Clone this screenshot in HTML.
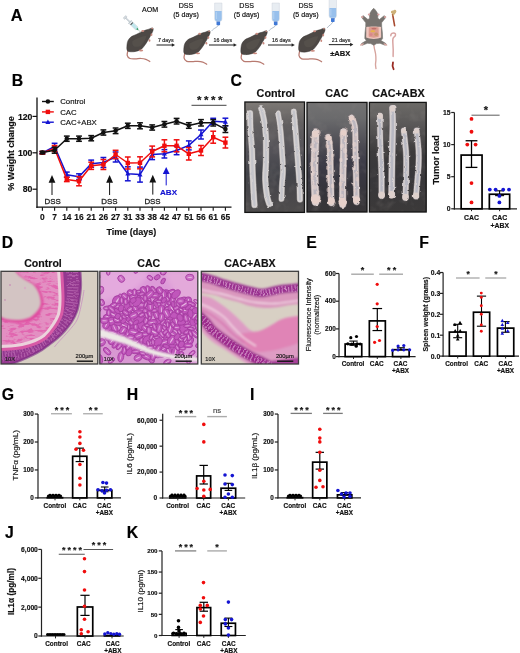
<!DOCTYPE html>
<html><head><meta charset="utf-8"><title>Figure</title>
<style>html,body{margin:0;padding:0;background:#fff;} svg{display:block;}</style></head>
<body><svg width="520" height="653" viewBox="0 0 520 653" font-family="'Liberation Sans', Arial, sans-serif">
<rect width="520" height="653" fill="#fff"/>
<text x="10.80" y="20.60" font-size="16.4" font-weight="bold" text-anchor="start" fill="#000" stroke="#000" stroke-width="0.16">A</text>
<text x="11.70" y="85.60" font-size="15.8" font-weight="bold" text-anchor="start" fill="#000" stroke="#000" stroke-width="0.16">B</text>
<text x="230.60" y="85.60" font-size="15.8" font-weight="bold" text-anchor="start" fill="#000" stroke="#000" stroke-width="0.16">C</text>
<text x="1.80" y="248.30" font-size="15.8" font-weight="bold" text-anchor="start" fill="#000" stroke="#000" stroke-width="0.16">D</text>
<text x="306.20" y="248.30" font-size="15.8" font-weight="bold" text-anchor="start" fill="#000" stroke="#000" stroke-width="0.16">E</text>
<text x="419.20" y="248.30" font-size="15.8" font-weight="bold" text-anchor="start" fill="#000" stroke="#000" stroke-width="0.16">F</text>
<text x="1.80" y="399.60" font-size="15.8" font-weight="bold" text-anchor="start" fill="#000" stroke="#000" stroke-width="0.16">G</text>
<text x="126.70" y="399.60" font-size="15.8" font-weight="bold" text-anchor="start" fill="#000" stroke="#000" stroke-width="0.16">H</text>
<text x="250.00" y="399.60" font-size="15.8" font-weight="bold" text-anchor="start" fill="#000" stroke="#000" stroke-width="0.16">I</text>
<text x="5.00" y="537.60" font-size="15.8" font-weight="bold" text-anchor="start" fill="#000" stroke="#000" stroke-width="0.16">J</text>
<text x="126.70" y="537.60" font-size="15.8" font-weight="bold" text-anchor="start" fill="#000" stroke="#000" stroke-width="0.16">K</text>
<line x1="37.00" y1="97.50" x2="37.00" y2="207.90" stroke="#111" stroke-width="1.3"/>
<line x1="36.40" y1="207.20" x2="231.50" y2="207.20" stroke="#111" stroke-width="1.3"/>
<line x1="32.50" y1="116.40" x2="37.00" y2="116.40" stroke="#111" stroke-width="1.2"/>
<text x="32.40" y="119.50" font-size="8.7" font-weight="bold" text-anchor="end" fill="#111" stroke="#111" stroke-width="0.16">120</text>
<line x1="32.50" y1="152.80" x2="37.00" y2="152.80" stroke="#111" stroke-width="1.2"/>
<text x="32.40" y="155.90" font-size="8.7" font-weight="bold" text-anchor="end" fill="#111" stroke="#111" stroke-width="0.16">100</text>
<line x1="32.50" y1="189.20" x2="37.00" y2="189.20" stroke="#111" stroke-width="1.2"/>
<text x="32.40" y="192.30" font-size="8.7" font-weight="bold" text-anchor="end" fill="#111" stroke="#111" stroke-width="0.16">80</text>
<line x1="42.40" y1="207.20" x2="42.40" y2="210.80" stroke="#111" stroke-width="1.1"/>
<text x="42.40" y="219.80" font-size="8.4" font-weight="bold" text-anchor="middle" fill="#111" stroke="#111" stroke-width="0.16">0</text>
<line x1="54.60" y1="207.20" x2="54.60" y2="210.80" stroke="#111" stroke-width="1.1"/>
<text x="54.60" y="219.80" font-size="8.4" font-weight="bold" text-anchor="middle" fill="#111" stroke="#111" stroke-width="0.16">7</text>
<line x1="66.80" y1="207.20" x2="66.80" y2="210.80" stroke="#111" stroke-width="1.1"/>
<text x="66.80" y="219.80" font-size="8.4" font-weight="bold" text-anchor="middle" fill="#111" stroke="#111" stroke-width="0.16">14</text>
<line x1="79.00" y1="207.20" x2="79.00" y2="210.80" stroke="#111" stroke-width="1.1"/>
<text x="79.00" y="219.80" font-size="8.4" font-weight="bold" text-anchor="middle" fill="#111" stroke="#111" stroke-width="0.16">16</text>
<line x1="91.20" y1="207.20" x2="91.20" y2="210.80" stroke="#111" stroke-width="1.1"/>
<text x="91.20" y="219.80" font-size="8.4" font-weight="bold" text-anchor="middle" fill="#111" stroke="#111" stroke-width="0.16">21</text>
<line x1="103.40" y1="207.20" x2="103.40" y2="210.80" stroke="#111" stroke-width="1.1"/>
<text x="103.40" y="219.80" font-size="8.4" font-weight="bold" text-anchor="middle" fill="#111" stroke="#111" stroke-width="0.16">26</text>
<line x1="115.60" y1="207.20" x2="115.60" y2="210.80" stroke="#111" stroke-width="1.1"/>
<text x="115.60" y="219.80" font-size="8.4" font-weight="bold" text-anchor="middle" fill="#111" stroke="#111" stroke-width="0.16">27</text>
<line x1="127.80" y1="207.20" x2="127.80" y2="210.80" stroke="#111" stroke-width="1.1"/>
<text x="127.80" y="219.80" font-size="8.4" font-weight="bold" text-anchor="middle" fill="#111" stroke="#111" stroke-width="0.16">31</text>
<line x1="140.00" y1="207.20" x2="140.00" y2="210.80" stroke="#111" stroke-width="1.1"/>
<text x="140.00" y="219.80" font-size="8.4" font-weight="bold" text-anchor="middle" fill="#111" stroke="#111" stroke-width="0.16">33</text>
<line x1="152.20" y1="207.20" x2="152.20" y2="210.80" stroke="#111" stroke-width="1.1"/>
<text x="152.20" y="219.80" font-size="8.4" font-weight="bold" text-anchor="middle" fill="#111" stroke="#111" stroke-width="0.16">38</text>
<line x1="164.40" y1="207.20" x2="164.40" y2="210.80" stroke="#111" stroke-width="1.1"/>
<text x="164.40" y="219.80" font-size="8.4" font-weight="bold" text-anchor="middle" fill="#111" stroke="#111" stroke-width="0.16">42</text>
<line x1="176.60" y1="207.20" x2="176.60" y2="210.80" stroke="#111" stroke-width="1.1"/>
<text x="176.60" y="219.80" font-size="8.4" font-weight="bold" text-anchor="middle" fill="#111" stroke="#111" stroke-width="0.16">47</text>
<line x1="188.80" y1="207.20" x2="188.80" y2="210.80" stroke="#111" stroke-width="1.1"/>
<text x="188.80" y="219.80" font-size="8.4" font-weight="bold" text-anchor="middle" fill="#111" stroke="#111" stroke-width="0.16">51</text>
<line x1="201.00" y1="207.20" x2="201.00" y2="210.80" stroke="#111" stroke-width="1.1"/>
<text x="201.00" y="219.80" font-size="8.4" font-weight="bold" text-anchor="middle" fill="#111" stroke="#111" stroke-width="0.16">56</text>
<line x1="213.20" y1="207.20" x2="213.20" y2="210.80" stroke="#111" stroke-width="1.1"/>
<text x="213.20" y="219.80" font-size="8.4" font-weight="bold" text-anchor="middle" fill="#111" stroke="#111" stroke-width="0.16">61</text>
<line x1="225.40" y1="207.20" x2="225.40" y2="210.80" stroke="#111" stroke-width="1.1"/>
<text x="225.40" y="219.80" font-size="8.4" font-weight="bold" text-anchor="middle" fill="#111" stroke="#111" stroke-width="0.16">65</text>
<text x="131.40" y="235.20" font-size="9.0" font-weight="bold" text-anchor="middle" fill="#111" stroke="#111" stroke-width="0.16">Time (days)</text>
<text x="14.30" y="153.50" font-size="9.0" font-weight="bold" text-anchor="middle" fill="#111" transform="rotate(-90 14.30 153.50)" stroke="#111" stroke-width="0.16">% Weight change</text>
<path d="M52.00 175.10 L55.40 182.80 L48.60 182.80 Z" fill="#111"/>
<line x1="52.00" y1="182.30" x2="52.00" y2="195.00" stroke="#111" stroke-width="1.0"/>
<path d="M109.60 175.10 L113.00 182.80 L106.20 182.80 Z" fill="#111"/>
<line x1="109.60" y1="182.30" x2="109.60" y2="195.00" stroke="#111" stroke-width="1.0"/>
<path d="M152.80 174.80 L156.20 182.50 L149.40 182.50 Z" fill="#111"/>
<line x1="152.80" y1="182.00" x2="152.80" y2="194.60" stroke="#111" stroke-width="1.0"/>
<path d="M166.20 167.00 L169.60 174.00 L162.80 174.00 Z" fill="#1414d2"/>
<line x1="166.20" y1="173.50" x2="166.20" y2="185.40" stroke="#1414d2" stroke-width="1.0"/>
<text x="52.70" y="203.80" font-size="7.9" text-anchor="middle" fill="#222" stroke="#222" stroke-width="0.28">DSS</text>
<text x="109.40" y="203.80" font-size="7.9" text-anchor="middle" fill="#222" stroke="#222" stroke-width="0.28">DSS</text>
<text x="152.50" y="203.80" font-size="7.9" text-anchor="middle" fill="#222" stroke="#222" stroke-width="0.28">DSS</text>
<text x="168.50" y="195.20" font-size="8.1" font-weight="bold" text-anchor="middle" fill="#1414d2" stroke="#1414d2" stroke-width="0.16">ABX</text>
<line x1="191.50" y1="105.30" x2="226.50" y2="105.30" stroke="#444" stroke-width="1.0"/>
<text x="199.20" y="104.18" font-size="11.5" font-weight="bold" text-anchor="middle" fill="#111" stroke="#111" stroke-width="0.16">*</text>
<text x="206.20" y="104.18" font-size="11.5" font-weight="bold" text-anchor="middle" fill="#111" stroke="#111" stroke-width="0.16">*</text>
<text x="213.20" y="104.18" font-size="11.5" font-weight="bold" text-anchor="middle" fill="#111" stroke="#111" stroke-width="0.16">*</text>
<text x="220.20" y="104.18" font-size="11.5" font-weight="bold" text-anchor="middle" fill="#111" stroke="#111" stroke-width="0.16">*</text>
<polyline points="42.40,152.80 54.60,146.50 66.80,174.70 79.00,176.80 91.20,163.70 103.40,162.50 115.60,157.00 127.80,173.80 140.00,174.60 152.20,154.60 164.40,153.80 176.60,150.50 188.80,145.40 201.00,134.50 213.20,121.30 225.40,122.00" fill="none" stroke="#1414d2" stroke-width="1.5" stroke-linejoin="round"/>
<line x1="42.40" y1="151.80" x2="42.40" y2="153.80" stroke="#1414d2" stroke-width="1.5"/>
<line x1="39.50" y1="151.80" x2="45.30" y2="151.80" stroke="#1414d2" stroke-width="1.5"/>
<line x1="39.50" y1="153.80" x2="45.30" y2="153.80" stroke="#1414d2" stroke-width="1.5"/>
<path d="M42.40 150.10 L44.90 154.60 L39.90 154.60 Z" fill="#1414d2"/>
<line x1="54.60" y1="143.30" x2="54.60" y2="149.70" stroke="#1414d2" stroke-width="1.5"/>
<line x1="51.70" y1="143.30" x2="57.50" y2="143.30" stroke="#1414d2" stroke-width="1.5"/>
<line x1="51.70" y1="149.70" x2="57.50" y2="149.70" stroke="#1414d2" stroke-width="1.5"/>
<path d="M54.60 143.80 L57.10 148.30 L52.10 148.30 Z" fill="#1414d2"/>
<line x1="66.80" y1="172.10" x2="66.80" y2="177.30" stroke="#1414d2" stroke-width="1.5"/>
<line x1="63.90" y1="172.10" x2="69.70" y2="172.10" stroke="#1414d2" stroke-width="1.5"/>
<line x1="63.90" y1="177.30" x2="69.70" y2="177.30" stroke="#1414d2" stroke-width="1.5"/>
<path d="M66.80 172.00 L69.30 176.50 L64.30 176.50 Z" fill="#1414d2"/>
<line x1="79.00" y1="173.80" x2="79.00" y2="179.80" stroke="#1414d2" stroke-width="1.5"/>
<line x1="76.10" y1="173.80" x2="81.90" y2="173.80" stroke="#1414d2" stroke-width="1.5"/>
<line x1="76.10" y1="179.80" x2="81.90" y2="179.80" stroke="#1414d2" stroke-width="1.5"/>
<path d="M79.00 174.10 L81.50 178.60 L76.50 178.60 Z" fill="#1414d2"/>
<line x1="91.20" y1="160.10" x2="91.20" y2="167.30" stroke="#1414d2" stroke-width="1.5"/>
<line x1="88.30" y1="160.10" x2="94.10" y2="160.10" stroke="#1414d2" stroke-width="1.5"/>
<line x1="88.30" y1="167.30" x2="94.10" y2="167.30" stroke="#1414d2" stroke-width="1.5"/>
<path d="M91.20 161.00 L93.70 165.50 L88.70 165.50 Z" fill="#1414d2"/>
<line x1="103.40" y1="157.50" x2="103.40" y2="167.50" stroke="#1414d2" stroke-width="1.5"/>
<line x1="100.50" y1="157.50" x2="106.30" y2="157.50" stroke="#1414d2" stroke-width="1.5"/>
<line x1="100.50" y1="167.50" x2="106.30" y2="167.50" stroke="#1414d2" stroke-width="1.5"/>
<path d="M103.40 159.80 L105.90 164.30 L100.90 164.30 Z" fill="#1414d2"/>
<line x1="115.60" y1="152.00" x2="115.60" y2="162.00" stroke="#1414d2" stroke-width="1.5"/>
<line x1="112.70" y1="152.00" x2="118.50" y2="152.00" stroke="#1414d2" stroke-width="1.5"/>
<line x1="112.70" y1="162.00" x2="118.50" y2="162.00" stroke="#1414d2" stroke-width="1.5"/>
<path d="M115.60 154.30 L118.10 158.80 L113.10 158.80 Z" fill="#1414d2"/>
<line x1="127.80" y1="166.80" x2="127.80" y2="180.80" stroke="#1414d2" stroke-width="1.5"/>
<line x1="124.90" y1="166.80" x2="130.70" y2="166.80" stroke="#1414d2" stroke-width="1.5"/>
<line x1="124.90" y1="180.80" x2="130.70" y2="180.80" stroke="#1414d2" stroke-width="1.5"/>
<path d="M127.80 171.10 L130.30 175.60 L125.30 175.60 Z" fill="#1414d2"/>
<line x1="140.00" y1="167.10" x2="140.00" y2="182.10" stroke="#1414d2" stroke-width="1.5"/>
<line x1="137.10" y1="167.10" x2="142.90" y2="167.10" stroke="#1414d2" stroke-width="1.5"/>
<line x1="137.10" y1="182.10" x2="142.90" y2="182.10" stroke="#1414d2" stroke-width="1.5"/>
<path d="M140.00 171.90 L142.50 176.40 L137.50 176.40 Z" fill="#1414d2"/>
<line x1="152.20" y1="149.60" x2="152.20" y2="159.60" stroke="#1414d2" stroke-width="1.5"/>
<line x1="149.30" y1="149.60" x2="155.10" y2="149.60" stroke="#1414d2" stroke-width="1.5"/>
<line x1="149.30" y1="159.60" x2="155.10" y2="159.60" stroke="#1414d2" stroke-width="1.5"/>
<path d="M152.20 151.90 L154.70 156.40 L149.70 156.40 Z" fill="#1414d2"/>
<line x1="164.40" y1="149.60" x2="164.40" y2="158.00" stroke="#1414d2" stroke-width="1.5"/>
<line x1="161.50" y1="149.60" x2="167.30" y2="149.60" stroke="#1414d2" stroke-width="1.5"/>
<line x1="161.50" y1="158.00" x2="167.30" y2="158.00" stroke="#1414d2" stroke-width="1.5"/>
<path d="M164.40 151.10 L166.90 155.60 L161.90 155.60 Z" fill="#1414d2"/>
<line x1="176.60" y1="146.30" x2="176.60" y2="154.70" stroke="#1414d2" stroke-width="1.5"/>
<line x1="173.70" y1="146.30" x2="179.50" y2="146.30" stroke="#1414d2" stroke-width="1.5"/>
<line x1="173.70" y1="154.70" x2="179.50" y2="154.70" stroke="#1414d2" stroke-width="1.5"/>
<path d="M176.60 147.80 L179.10 152.30 L174.10 152.30 Z" fill="#1414d2"/>
<line x1="188.80" y1="140.90" x2="188.80" y2="149.90" stroke="#1414d2" stroke-width="1.5"/>
<line x1="185.90" y1="140.90" x2="191.70" y2="140.90" stroke="#1414d2" stroke-width="1.5"/>
<line x1="185.90" y1="149.90" x2="191.70" y2="149.90" stroke="#1414d2" stroke-width="1.5"/>
<path d="M188.80 142.70 L191.30 147.20 L186.30 147.20 Z" fill="#1414d2"/>
<line x1="201.00" y1="130.00" x2="201.00" y2="139.00" stroke="#1414d2" stroke-width="1.5"/>
<line x1="198.10" y1="130.00" x2="203.90" y2="130.00" stroke="#1414d2" stroke-width="1.5"/>
<line x1="198.10" y1="139.00" x2="203.90" y2="139.00" stroke="#1414d2" stroke-width="1.5"/>
<path d="M201.00 131.80 L203.50 136.30 L198.50 136.30 Z" fill="#1414d2"/>
<line x1="213.20" y1="118.30" x2="213.20" y2="124.30" stroke="#1414d2" stroke-width="1.5"/>
<line x1="210.30" y1="118.30" x2="216.10" y2="118.30" stroke="#1414d2" stroke-width="1.5"/>
<line x1="210.30" y1="124.30" x2="216.10" y2="124.30" stroke="#1414d2" stroke-width="1.5"/>
<path d="M213.20 118.60 L215.70 123.10 L210.70 123.10 Z" fill="#1414d2"/>
<line x1="225.40" y1="118.20" x2="225.40" y2="125.80" stroke="#1414d2" stroke-width="1.5"/>
<line x1="222.50" y1="118.20" x2="228.30" y2="118.20" stroke="#1414d2" stroke-width="1.5"/>
<line x1="222.50" y1="125.80" x2="228.30" y2="125.80" stroke="#1414d2" stroke-width="1.5"/>
<path d="M225.40 119.30 L227.90 123.80 L222.90 123.80 Z" fill="#1414d2"/>
<polyline points="42.40,152.80 54.60,148.50 66.80,179.40 79.00,181.20 91.20,165.80 103.40,164.50 115.60,154.50 127.80,163.00 140.00,162.80 152.20,151.50 164.40,145.80 176.60,145.80 188.80,153.80 201.00,150.50 213.20,137.20 225.40,142.60" fill="none" stroke="#f00d0d" stroke-width="1.5" stroke-linejoin="round"/>
<line x1="42.40" y1="151.80" x2="42.40" y2="153.80" stroke="#f00d0d" stroke-width="1.5"/>
<line x1="39.50" y1="151.80" x2="45.30" y2="151.80" stroke="#f00d0d" stroke-width="1.5"/>
<line x1="39.50" y1="153.80" x2="45.30" y2="153.80" stroke="#f00d0d" stroke-width="1.5"/>
<rect x="40.20" y="150.60" width="4.40" height="4.40" fill="#f00d0d" stroke="none" stroke-width="1.0"/>
<line x1="54.60" y1="145.50" x2="54.60" y2="151.50" stroke="#f00d0d" stroke-width="1.5"/>
<line x1="51.70" y1="145.50" x2="57.50" y2="145.50" stroke="#f00d0d" stroke-width="1.5"/>
<line x1="51.70" y1="151.50" x2="57.50" y2="151.50" stroke="#f00d0d" stroke-width="1.5"/>
<rect x="52.40" y="146.30" width="4.40" height="4.40" fill="#f00d0d" stroke="none" stroke-width="1.0"/>
<line x1="66.80" y1="177.20" x2="66.80" y2="181.60" stroke="#f00d0d" stroke-width="1.5"/>
<line x1="63.90" y1="177.20" x2="69.70" y2="177.20" stroke="#f00d0d" stroke-width="1.5"/>
<line x1="63.90" y1="181.60" x2="69.70" y2="181.60" stroke="#f00d0d" stroke-width="1.5"/>
<rect x="64.60" y="177.20" width="4.40" height="4.40" fill="#f00d0d" stroke="none" stroke-width="1.0"/>
<line x1="79.00" y1="176.60" x2="79.00" y2="185.80" stroke="#f00d0d" stroke-width="1.5"/>
<line x1="76.10" y1="176.60" x2="81.90" y2="176.60" stroke="#f00d0d" stroke-width="1.5"/>
<line x1="76.10" y1="185.80" x2="81.90" y2="185.80" stroke="#f00d0d" stroke-width="1.5"/>
<rect x="76.80" y="179.00" width="4.40" height="4.40" fill="#f00d0d" stroke="none" stroke-width="1.0"/>
<line x1="91.20" y1="162.20" x2="91.20" y2="169.40" stroke="#f00d0d" stroke-width="1.5"/>
<line x1="88.30" y1="162.20" x2="94.10" y2="162.20" stroke="#f00d0d" stroke-width="1.5"/>
<line x1="88.30" y1="169.40" x2="94.10" y2="169.40" stroke="#f00d0d" stroke-width="1.5"/>
<rect x="89.00" y="163.60" width="4.40" height="4.40" fill="#f00d0d" stroke="none" stroke-width="1.0"/>
<line x1="103.40" y1="159.50" x2="103.40" y2="169.50" stroke="#f00d0d" stroke-width="1.5"/>
<line x1="100.50" y1="159.50" x2="106.30" y2="159.50" stroke="#f00d0d" stroke-width="1.5"/>
<line x1="100.50" y1="169.50" x2="106.30" y2="169.50" stroke="#f00d0d" stroke-width="1.5"/>
<rect x="101.20" y="162.30" width="4.40" height="4.40" fill="#f00d0d" stroke="none" stroke-width="1.0"/>
<line x1="115.60" y1="150.30" x2="115.60" y2="158.70" stroke="#f00d0d" stroke-width="1.5"/>
<line x1="112.70" y1="150.30" x2="118.50" y2="150.30" stroke="#f00d0d" stroke-width="1.5"/>
<line x1="112.70" y1="158.70" x2="118.50" y2="158.70" stroke="#f00d0d" stroke-width="1.5"/>
<rect x="113.40" y="152.30" width="4.40" height="4.40" fill="#f00d0d" stroke="none" stroke-width="1.0"/>
<line x1="127.80" y1="157.00" x2="127.80" y2="169.00" stroke="#f00d0d" stroke-width="1.5"/>
<line x1="124.90" y1="157.00" x2="130.70" y2="157.00" stroke="#f00d0d" stroke-width="1.5"/>
<line x1="124.90" y1="169.00" x2="130.70" y2="169.00" stroke="#f00d0d" stroke-width="1.5"/>
<rect x="125.60" y="160.80" width="4.40" height="4.40" fill="#f00d0d" stroke="none" stroke-width="1.0"/>
<line x1="140.00" y1="156.80" x2="140.00" y2="168.80" stroke="#f00d0d" stroke-width="1.5"/>
<line x1="137.10" y1="156.80" x2="142.90" y2="156.80" stroke="#f00d0d" stroke-width="1.5"/>
<line x1="137.10" y1="168.80" x2="142.90" y2="168.80" stroke="#f00d0d" stroke-width="1.5"/>
<rect x="137.80" y="160.60" width="4.40" height="4.40" fill="#f00d0d" stroke="none" stroke-width="1.0"/>
<line x1="152.20" y1="146.10" x2="152.20" y2="156.90" stroke="#f00d0d" stroke-width="1.5"/>
<line x1="149.30" y1="146.10" x2="155.10" y2="146.10" stroke="#f00d0d" stroke-width="1.5"/>
<line x1="149.30" y1="156.90" x2="155.10" y2="156.90" stroke="#f00d0d" stroke-width="1.5"/>
<rect x="150.00" y="149.30" width="4.40" height="4.40" fill="#f00d0d" stroke="none" stroke-width="1.0"/>
<line x1="164.40" y1="139.80" x2="164.40" y2="151.80" stroke="#f00d0d" stroke-width="1.5"/>
<line x1="161.50" y1="139.80" x2="167.30" y2="139.80" stroke="#f00d0d" stroke-width="1.5"/>
<line x1="161.50" y1="151.80" x2="167.30" y2="151.80" stroke="#f00d0d" stroke-width="1.5"/>
<rect x="162.20" y="143.60" width="4.40" height="4.40" fill="#f00d0d" stroke="none" stroke-width="1.0"/>
<line x1="176.60" y1="139.80" x2="176.60" y2="151.80" stroke="#f00d0d" stroke-width="1.5"/>
<line x1="173.70" y1="139.80" x2="179.50" y2="139.80" stroke="#f00d0d" stroke-width="1.5"/>
<line x1="173.70" y1="151.80" x2="179.50" y2="151.80" stroke="#f00d0d" stroke-width="1.5"/>
<rect x="174.40" y="143.60" width="4.40" height="4.40" fill="#f00d0d" stroke="none" stroke-width="1.0"/>
<line x1="188.80" y1="147.60" x2="188.80" y2="160.00" stroke="#f00d0d" stroke-width="1.5"/>
<line x1="185.90" y1="147.60" x2="191.70" y2="147.60" stroke="#f00d0d" stroke-width="1.5"/>
<line x1="185.90" y1="160.00" x2="191.70" y2="160.00" stroke="#f00d0d" stroke-width="1.5"/>
<rect x="186.60" y="151.60" width="4.40" height="4.40" fill="#f00d0d" stroke="none" stroke-width="1.0"/>
<line x1="201.00" y1="145.50" x2="201.00" y2="155.50" stroke="#f00d0d" stroke-width="1.5"/>
<line x1="198.10" y1="145.50" x2="203.90" y2="145.50" stroke="#f00d0d" stroke-width="1.5"/>
<line x1="198.10" y1="155.50" x2="203.90" y2="155.50" stroke="#f00d0d" stroke-width="1.5"/>
<rect x="198.80" y="148.30" width="4.40" height="4.40" fill="#f00d0d" stroke="none" stroke-width="1.0"/>
<line x1="213.20" y1="131.20" x2="213.20" y2="143.20" stroke="#f00d0d" stroke-width="1.5"/>
<line x1="210.30" y1="131.20" x2="216.10" y2="131.20" stroke="#f00d0d" stroke-width="1.5"/>
<line x1="210.30" y1="143.20" x2="216.10" y2="143.20" stroke="#f00d0d" stroke-width="1.5"/>
<rect x="211.00" y="135.00" width="4.40" height="4.40" fill="#f00d0d" stroke="none" stroke-width="1.0"/>
<line x1="225.40" y1="137.20" x2="225.40" y2="148.00" stroke="#f00d0d" stroke-width="1.5"/>
<line x1="222.50" y1="137.20" x2="228.30" y2="137.20" stroke="#f00d0d" stroke-width="1.5"/>
<line x1="222.50" y1="148.00" x2="228.30" y2="148.00" stroke="#f00d0d" stroke-width="1.5"/>
<rect x="223.20" y="140.40" width="4.40" height="4.40" fill="#f00d0d" stroke="none" stroke-width="1.0"/>
<polyline points="42.40,152.50 54.60,150.20 66.80,138.70 79.00,138.70 91.20,138.20 103.40,132.50 115.60,130.80 127.80,125.80 140.00,125.80 152.20,127.50 164.40,124.30 176.60,121.20 188.80,125.50 201.00,122.80 213.20,122.80 225.40,129.10" fill="none" stroke="#111" stroke-width="1.5" stroke-linejoin="round"/>
<line x1="42.40" y1="151.30" x2="42.40" y2="153.70" stroke="#111" stroke-width="1.5"/>
<line x1="39.50" y1="151.30" x2="45.30" y2="151.30" stroke="#111" stroke-width="1.5"/>
<line x1="39.50" y1="153.70" x2="45.30" y2="153.70" stroke="#111" stroke-width="1.5"/>
<circle cx="42.40" cy="152.50" r="2.3" fill="#111"/>
<line x1="54.60" y1="147.20" x2="54.60" y2="153.20" stroke="#111" stroke-width="1.5"/>
<line x1="51.70" y1="147.20" x2="57.50" y2="147.20" stroke="#111" stroke-width="1.5"/>
<line x1="51.70" y1="153.20" x2="57.50" y2="153.20" stroke="#111" stroke-width="1.5"/>
<circle cx="54.60" cy="150.20" r="2.3" fill="#111"/>
<line x1="66.80" y1="136.10" x2="66.80" y2="141.30" stroke="#111" stroke-width="1.5"/>
<line x1="63.90" y1="136.10" x2="69.70" y2="136.10" stroke="#111" stroke-width="1.5"/>
<line x1="63.90" y1="141.30" x2="69.70" y2="141.30" stroke="#111" stroke-width="1.5"/>
<circle cx="66.80" cy="138.70" r="2.3" fill="#111"/>
<line x1="79.00" y1="136.10" x2="79.00" y2="141.30" stroke="#111" stroke-width="1.5"/>
<line x1="76.10" y1="136.10" x2="81.90" y2="136.10" stroke="#111" stroke-width="1.5"/>
<line x1="76.10" y1="141.30" x2="81.90" y2="141.30" stroke="#111" stroke-width="1.5"/>
<circle cx="79.00" cy="138.70" r="2.3" fill="#111"/>
<line x1="91.20" y1="135.60" x2="91.20" y2="140.80" stroke="#111" stroke-width="1.5"/>
<line x1="88.30" y1="135.60" x2="94.10" y2="135.60" stroke="#111" stroke-width="1.5"/>
<line x1="88.30" y1="140.80" x2="94.10" y2="140.80" stroke="#111" stroke-width="1.5"/>
<circle cx="91.20" cy="138.20" r="2.3" fill="#111"/>
<line x1="103.40" y1="129.90" x2="103.40" y2="135.10" stroke="#111" stroke-width="1.5"/>
<line x1="100.50" y1="129.90" x2="106.30" y2="129.90" stroke="#111" stroke-width="1.5"/>
<line x1="100.50" y1="135.10" x2="106.30" y2="135.10" stroke="#111" stroke-width="1.5"/>
<circle cx="103.40" cy="132.50" r="2.3" fill="#111"/>
<line x1="115.60" y1="128.00" x2="115.60" y2="133.60" stroke="#111" stroke-width="1.5"/>
<line x1="112.70" y1="128.00" x2="118.50" y2="128.00" stroke="#111" stroke-width="1.5"/>
<line x1="112.70" y1="133.60" x2="118.50" y2="133.60" stroke="#111" stroke-width="1.5"/>
<circle cx="115.60" cy="130.80" r="2.3" fill="#111"/>
<line x1="127.80" y1="123.20" x2="127.80" y2="128.40" stroke="#111" stroke-width="1.5"/>
<line x1="124.90" y1="123.20" x2="130.70" y2="123.20" stroke="#111" stroke-width="1.5"/>
<line x1="124.90" y1="128.40" x2="130.70" y2="128.40" stroke="#111" stroke-width="1.5"/>
<circle cx="127.80" cy="125.80" r="2.3" fill="#111"/>
<line x1="140.00" y1="122.80" x2="140.00" y2="128.80" stroke="#111" stroke-width="1.5"/>
<line x1="137.10" y1="122.80" x2="142.90" y2="122.80" stroke="#111" stroke-width="1.5"/>
<line x1="137.10" y1="128.80" x2="142.90" y2="128.80" stroke="#111" stroke-width="1.5"/>
<circle cx="140.00" cy="125.80" r="2.3" fill="#111"/>
<line x1="152.20" y1="124.90" x2="152.20" y2="130.10" stroke="#111" stroke-width="1.5"/>
<line x1="149.30" y1="124.90" x2="155.10" y2="124.90" stroke="#111" stroke-width="1.5"/>
<line x1="149.30" y1="130.10" x2="155.10" y2="130.10" stroke="#111" stroke-width="1.5"/>
<circle cx="152.20" cy="127.50" r="2.3" fill="#111"/>
<line x1="164.40" y1="121.50" x2="164.40" y2="127.10" stroke="#111" stroke-width="1.5"/>
<line x1="161.50" y1="121.50" x2="167.30" y2="121.50" stroke="#111" stroke-width="1.5"/>
<line x1="161.50" y1="127.10" x2="167.30" y2="127.10" stroke="#111" stroke-width="1.5"/>
<circle cx="164.40" cy="124.30" r="2.3" fill="#111"/>
<line x1="176.60" y1="118.40" x2="176.60" y2="124.00" stroke="#111" stroke-width="1.5"/>
<line x1="173.70" y1="118.40" x2="179.50" y2="118.40" stroke="#111" stroke-width="1.5"/>
<line x1="173.70" y1="124.00" x2="179.50" y2="124.00" stroke="#111" stroke-width="1.5"/>
<circle cx="176.60" cy="121.20" r="2.3" fill="#111"/>
<line x1="188.80" y1="122.70" x2="188.80" y2="128.30" stroke="#111" stroke-width="1.5"/>
<line x1="185.90" y1="122.70" x2="191.70" y2="122.70" stroke="#111" stroke-width="1.5"/>
<line x1="185.90" y1="128.30" x2="191.70" y2="128.30" stroke="#111" stroke-width="1.5"/>
<circle cx="188.80" cy="125.50" r="2.3" fill="#111"/>
<line x1="201.00" y1="119.60" x2="201.00" y2="126.00" stroke="#111" stroke-width="1.5"/>
<line x1="198.10" y1="119.60" x2="203.90" y2="119.60" stroke="#111" stroke-width="1.5"/>
<line x1="198.10" y1="126.00" x2="203.90" y2="126.00" stroke="#111" stroke-width="1.5"/>
<circle cx="201.00" cy="122.80" r="2.3" fill="#111"/>
<line x1="213.20" y1="119.60" x2="213.20" y2="126.00" stroke="#111" stroke-width="1.5"/>
<line x1="210.30" y1="119.60" x2="216.10" y2="119.60" stroke="#111" stroke-width="1.5"/>
<line x1="210.30" y1="126.00" x2="216.10" y2="126.00" stroke="#111" stroke-width="1.5"/>
<circle cx="213.20" cy="122.80" r="2.3" fill="#111"/>
<line x1="225.40" y1="125.70" x2="225.40" y2="132.50" stroke="#111" stroke-width="1.5"/>
<line x1="222.50" y1="125.70" x2="228.30" y2="125.70" stroke="#111" stroke-width="1.5"/>
<line x1="222.50" y1="132.50" x2="228.30" y2="132.50" stroke="#111" stroke-width="1.5"/>
<circle cx="225.40" cy="129.10" r="2.3" fill="#111"/>
<line x1="42.00" y1="101.50" x2="53.80" y2="101.50" stroke="#111" stroke-width="1.4"/>
<circle cx="47.90" cy="101.50" r="2.3" fill="#111"/>
<text x="60.20" y="104.20" font-size="7.8" text-anchor="start" fill="#111" stroke="#111" stroke-width="0.16">Control</text>
<line x1="42.00" y1="111.90" x2="53.80" y2="111.90" stroke="#f00d0d" stroke-width="1.4"/>
<rect x="45.70" y="109.70" width="4.40" height="4.40" fill="#f00d0d" stroke="none" stroke-width="1.0"/>
<text x="60.20" y="114.60" font-size="7.8" text-anchor="start" fill="#111" stroke="#111" stroke-width="0.16">CAC</text>
<line x1="42.00" y1="122.20" x2="53.80" y2="122.20" stroke="#1414d2" stroke-width="1.4"/>
<path d="M47.90 119.50 L50.40 124.00 L45.40 124.00 Z" fill="#1414d2"/>
<text x="60.20" y="124.90" font-size="7.8" text-anchor="start" fill="#111" stroke="#111" stroke-width="0.16">CAC+ABX</text>
<line x1="454.40" y1="112.50" x2="454.40" y2="209.40" stroke="#222" stroke-width="1.2"/>
<line x1="453.80" y1="208.80" x2="517.00" y2="208.80" stroke="#222" stroke-width="1.2"/>
<line x1="451.20" y1="112.50" x2="454.40" y2="112.50" stroke="#222" stroke-width="1.2"/>
<text x="450.45" y="114.91" font-size="6.8" font-weight="bold" text-anchor="end" fill="#111" stroke="#111" stroke-width="0.16">15</text>
<line x1="451.20" y1="144.60" x2="454.40" y2="144.60" stroke="#222" stroke-width="1.2"/>
<text x="450.45" y="147.01" font-size="6.8" font-weight="bold" text-anchor="end" fill="#111" stroke="#111" stroke-width="0.16">10</text>
<line x1="451.20" y1="176.70" x2="454.40" y2="176.70" stroke="#222" stroke-width="1.2"/>
<text x="450.45" y="179.11" font-size="6.8" font-weight="bold" text-anchor="end" fill="#111" stroke="#111" stroke-width="0.16">5</text>
<line x1="451.20" y1="208.80" x2="454.40" y2="208.80" stroke="#222" stroke-width="1.2"/>
<text x="450.45" y="211.21" font-size="6.8" font-weight="bold" text-anchor="end" fill="#111" stroke="#111" stroke-width="0.16">0</text>
<rect x="461.15" y="155.08" width="20.90" height="53.72" fill="#fff" stroke="#000" stroke-width="1.7"/>
<rect x="489.35" y="194.24" width="20.30" height="14.56" fill="#fff" stroke="#000" stroke-width="1.7"/>
<line x1="471.50" y1="208.80" x2="471.50" y2="211.20" stroke="#222" stroke-width="1.0"/>
<line x1="499.60" y1="208.80" x2="499.60" y2="211.20" stroke="#222" stroke-width="1.0"/>
<line x1="471.50" y1="140.75" x2="471.50" y2="167.39" stroke="#000" stroke-width="1.3"/>
<line x1="465.60" y1="140.75" x2="477.40" y2="140.75" stroke="#000" stroke-width="1.3"/>
<line x1="465.60" y1="167.39" x2="477.40" y2="167.39" stroke="#000" stroke-width="1.3"/>
<line x1="499.60" y1="190.82" x2="499.60" y2="195.64" stroke="#000" stroke-width="1.1"/>
<line x1="495.10" y1="190.82" x2="504.10" y2="190.82" stroke="#000" stroke-width="1.1"/>
<line x1="495.10" y1="195.64" x2="504.10" y2="195.64" stroke="#000" stroke-width="1.1"/>
<circle cx="471.50" cy="118.92" r="1.9" fill="#f00d0d"/>
<circle cx="471.50" cy="131.76" r="1.9" fill="#f00d0d"/>
<circle cx="467.30" cy="144.60" r="1.9" fill="#f00d0d"/>
<circle cx="475.60" cy="144.60" r="1.9" fill="#f00d0d"/>
<circle cx="471.50" cy="183.12" r="1.9" fill="#f00d0d"/>
<circle cx="471.50" cy="202.38" r="1.9" fill="#f00d0d"/>
<circle cx="489.80" cy="189.54" r="1.9" fill="#1414d2"/>
<circle cx="495.60" cy="189.54" r="1.9" fill="#1414d2"/>
<circle cx="503.20" cy="189.54" r="1.9" fill="#1414d2"/>
<circle cx="509.00" cy="189.54" r="1.9" fill="#1414d2"/>
<circle cx="499.40" cy="195.96" r="1.9" fill="#1414d2"/>
<circle cx="499.40" cy="202.38" r="1.9" fill="#1414d2"/>
<line x1="471.50" y1="115.20" x2="499.60" y2="115.20" stroke="#6a6a6a" stroke-width="1.1"/>
<text x="485.80" y="114.03" font-size="11.0" font-weight="bold" text-anchor="middle" fill="#111" stroke="#111" stroke-width="0.16">*</text>
<text x="439.50" y="159.90" font-size="9.2" font-weight="bold" text-anchor="middle" fill="#111" transform="rotate(-90 439.50 159.90)" stroke="#111" stroke-width="0.16">Tumor load</text>
<text x="471.50" y="219.60" font-size="6.9" font-weight="bold" text-anchor="middle" fill="#111" stroke="#111" stroke-width="0.16">CAC</text>
<text x="499.70" y="219.60" font-size="6.9" font-weight="bold" text-anchor="middle" fill="#111" stroke="#111" stroke-width="0.16">CAC</text>
<text x="499.70" y="227.60" font-size="6.9" font-weight="bold" text-anchor="middle" fill="#111" stroke="#111" stroke-width="0.16">+ABX</text>
<line x1="339.00" y1="273.50" x2="339.00" y2="357.20" stroke="#222" stroke-width="1.2"/>
<line x1="338.40" y1="356.60" x2="415.60" y2="356.60" stroke="#222" stroke-width="1.2"/>
<line x1="335.80" y1="273.50" x2="339.00" y2="273.50" stroke="#222" stroke-width="1.2"/>
<text x="335.75" y="275.77" font-size="6.4" font-weight="bold" text-anchor="end" fill="#111" stroke="#111" stroke-width="0.16">600</text>
<line x1="335.80" y1="301.20" x2="339.00" y2="301.20" stroke="#222" stroke-width="1.2"/>
<text x="335.75" y="303.47" font-size="6.4" font-weight="bold" text-anchor="end" fill="#111" stroke="#111" stroke-width="0.16">400</text>
<line x1="335.80" y1="328.90" x2="339.00" y2="328.90" stroke="#222" stroke-width="1.2"/>
<text x="335.75" y="331.17" font-size="6.4" font-weight="bold" text-anchor="end" fill="#111" stroke="#111" stroke-width="0.16">200</text>
<line x1="335.80" y1="356.60" x2="339.00" y2="356.60" stroke="#222" stroke-width="1.2"/>
<text x="335.75" y="358.87" font-size="6.4" font-weight="bold" text-anchor="end" fill="#111" stroke="#111" stroke-width="0.16">0</text>
<rect x="345.15" y="344.02" width="16.60" height="12.58" fill="#fff" stroke="#000" stroke-width="1.7"/>
<rect x="369.35" y="320.89" width="16.00" height="35.71" fill="#fff" stroke="#000" stroke-width="1.7"/>
<rect x="392.55" y="349.69" width="16.60" height="6.91" fill="#fff" stroke="#000" stroke-width="1.7"/>
<line x1="353.50" y1="356.60" x2="353.50" y2="359.00" stroke="#222" stroke-width="1.0"/>
<line x1="377.30" y1="356.60" x2="377.30" y2="359.00" stroke="#222" stroke-width="1.0"/>
<line x1="400.90" y1="356.60" x2="400.90" y2="359.00" stroke="#222" stroke-width="1.0"/>
<line x1="353.50" y1="341.09" x2="353.50" y2="345.24" stroke="#000" stroke-width="1.1"/>
<line x1="349.30" y1="341.09" x2="357.70" y2="341.09" stroke="#000" stroke-width="1.1"/>
<line x1="349.30" y1="345.24" x2="357.70" y2="345.24" stroke="#000" stroke-width="1.1"/>
<line x1="377.30" y1="308.54" x2="377.30" y2="330.56" stroke="#000" stroke-width="1.2"/>
<line x1="372.50" y1="308.54" x2="382.10" y2="308.54" stroke="#000" stroke-width="1.2"/>
<line x1="372.50" y1="330.56" x2="382.10" y2="330.56" stroke="#000" stroke-width="1.2"/>
<line x1="400.90" y1="347.74" x2="400.90" y2="349.95" stroke="#000" stroke-width="1.1"/>
<line x1="396.90" y1="347.74" x2="404.90" y2="347.74" stroke="#000" stroke-width="1.1"/>
<line x1="396.90" y1="349.95" x2="404.90" y2="349.95" stroke="#000" stroke-width="1.1"/>
<circle cx="350.80" cy="337.70" r="1.6" fill="#000"/>
<circle cx="356.50" cy="336.50" r="1.6" fill="#000"/>
<circle cx="347.80" cy="343.80" r="1.6" fill="#000"/>
<circle cx="351.80" cy="344.20" r="1.6" fill="#000"/>
<circle cx="357.20" cy="343.80" r="1.6" fill="#000"/>
<circle cx="360.20" cy="344.00" r="1.6" fill="#000"/>
<circle cx="356.20" cy="346.20" r="1.6" fill="#000"/>
<circle cx="377.20" cy="284.30" r="1.6" fill="#f00d0d"/>
<circle cx="377.20" cy="303.80" r="1.6" fill="#f00d0d"/>
<circle cx="377.20" cy="326.50" r="1.6" fill="#f00d0d"/>
<circle cx="374.60" cy="342.30" r="1.6" fill="#f00d0d"/>
<circle cx="379.50" cy="340.50" r="1.6" fill="#f00d0d"/>
<circle cx="392.70" cy="350.30" r="1.6" fill="#1414d2"/>
<circle cx="398.10" cy="346.00" r="1.6" fill="#1414d2"/>
<circle cx="398.10" cy="349.80" r="1.6" fill="#1414d2"/>
<circle cx="403.80" cy="345.50" r="1.6" fill="#1414d2"/>
<circle cx="403.80" cy="349.80" r="1.6" fill="#1414d2"/>
<circle cx="409.60" cy="349.80" r="1.6" fill="#1414d2"/>
<line x1="351.20" y1="274.20" x2="373.80" y2="274.20" stroke="#a8a8a8" stroke-width="1.4"/>
<text x="362.60" y="273.02" font-size="9.0" font-weight="bold" text-anchor="middle" fill="#111" stroke="#111" stroke-width="0.16">*</text>
<line x1="379.20" y1="274.20" x2="403.00" y2="274.20" stroke="#a8a8a8" stroke-width="1.4"/>
<text x="388.75" y="273.02" font-size="9.0" font-weight="bold" text-anchor="middle" fill="#111" stroke="#111" stroke-width="0.16">*</text>
<text x="394.40" y="273.02" font-size="9.0" font-weight="bold" text-anchor="middle" fill="#111" stroke="#111" stroke-width="0.16">*</text>
<text x="310.90" y="314.80" font-size="7.3" text-anchor="middle" fill="#111" transform="rotate(-90 310.90 314.80)" stroke="#111" stroke-width="0.16">Fluorescence Intensity</text>
<text x="319.20" y="314.75" font-size="7.2" text-anchor="middle" fill="#111" transform="rotate(-90 319.20 314.75)" stroke="#111" stroke-width="0.16">(normalized)</text>
<text x="353.00" y="365.80" font-size="6.4" font-weight="bold" text-anchor="middle" fill="#111" stroke="#111" stroke-width="0.16">Control</text>
<text x="376.70" y="365.80" font-size="6.4" font-weight="bold" text-anchor="middle" fill="#111" stroke="#111" stroke-width="0.16">CAC</text>
<text x="400.50" y="365.80" font-size="6.4" font-weight="bold" text-anchor="middle" fill="#111" stroke="#111" stroke-width="0.16">CAC</text>
<text x="400.50" y="373.20" font-size="6.4" font-weight="bold" text-anchor="middle" fill="#111" stroke="#111" stroke-width="0.16">+ABX</text>
<line x1="443.10" y1="272.50" x2="443.10" y2="356.70" stroke="#222" stroke-width="1.2"/>
<line x1="442.50" y1="356.10" x2="519.00" y2="356.10" stroke="#222" stroke-width="1.2"/>
<line x1="439.90" y1="272.50" x2="443.10" y2="272.50" stroke="#222" stroke-width="1.2"/>
<text x="440.25" y="274.91" font-size="6.8" font-weight="bold" text-anchor="end" fill="#111" stroke="#111" stroke-width="0.16">0.4</text>
<line x1="439.90" y1="293.40" x2="443.10" y2="293.40" stroke="#222" stroke-width="1.2"/>
<text x="440.25" y="295.81" font-size="6.8" font-weight="bold" text-anchor="end" fill="#111" stroke="#111" stroke-width="0.16">0.3</text>
<line x1="439.90" y1="314.30" x2="443.10" y2="314.30" stroke="#222" stroke-width="1.2"/>
<text x="440.25" y="316.71" font-size="6.8" font-weight="bold" text-anchor="end" fill="#111" stroke="#111" stroke-width="0.16">0.2</text>
<line x1="439.90" y1="335.20" x2="443.10" y2="335.20" stroke="#222" stroke-width="1.2"/>
<text x="440.25" y="337.61" font-size="6.8" font-weight="bold" text-anchor="end" fill="#111" stroke="#111" stroke-width="0.16">0.1</text>
<line x1="439.90" y1="356.10" x2="443.10" y2="356.10" stroke="#222" stroke-width="1.2"/>
<text x="440.25" y="358.51" font-size="6.8" font-weight="bold" text-anchor="end" fill="#111" stroke="#111" stroke-width="0.16">0.0</text>
<rect x="449.35" y="332.08" width="16.70" height="24.02" fill="#fff" stroke="#000" stroke-width="1.7"/>
<rect x="473.45" y="312.22" width="16.20" height="43.88" fill="#fff" stroke="#000" stroke-width="1.7"/>
<rect x="497.45" y="328.11" width="16.30" height="27.99" fill="#fff" stroke="#000" stroke-width="1.7"/>
<line x1="457.70" y1="356.10" x2="457.70" y2="358.50" stroke="#222" stroke-width="1.0"/>
<line x1="481.50" y1="356.10" x2="481.50" y2="358.50" stroke="#222" stroke-width="1.0"/>
<line x1="505.60" y1="356.10" x2="505.60" y2="358.50" stroke="#222" stroke-width="1.0"/>
<line x1="457.70" y1="324.33" x2="457.70" y2="337.71" stroke="#000" stroke-width="1.1"/>
<line x1="453.20" y1="324.33" x2="462.20" y2="324.33" stroke="#000" stroke-width="1.1"/>
<line x1="453.20" y1="337.71" x2="462.20" y2="337.71" stroke="#000" stroke-width="1.1"/>
<line x1="481.50" y1="296.12" x2="481.50" y2="326.21" stroke="#000" stroke-width="1.1"/>
<line x1="476.90" y1="296.12" x2="486.10" y2="296.12" stroke="#000" stroke-width="1.1"/>
<line x1="476.90" y1="326.21" x2="486.10" y2="326.21" stroke="#000" stroke-width="1.1"/>
<line x1="505.40" y1="321.62" x2="505.40" y2="332.27" stroke="#000" stroke-width="1.1"/>
<line x1="501.20" y1="321.62" x2="509.60" y2="321.62" stroke="#000" stroke-width="1.1"/>
<line x1="501.20" y1="332.27" x2="509.60" y2="332.27" stroke="#000" stroke-width="1.1"/>
<path d="M454.90 322.66 L456.70 325.90 L453.10 325.90 Z" fill="#000"/>
<path d="M460.00 320.86 L461.80 324.10 L458.20 324.10 Z" fill="#000"/>
<path d="M455.20 329.06 L457.00 332.30 L453.40 332.30 Z" fill="#000"/>
<path d="M460.20 329.06 L462.00 332.30 L458.40 332.30 Z" fill="#000"/>
<path d="M457.70 333.46 L459.50 336.70 L455.90 336.70 Z" fill="#000"/>
<path d="M457.70 337.26 L459.50 340.50 L455.90 340.50 Z" fill="#000"/>
<circle cx="481.30" cy="293.10" r="1.45" fill="#f00d0d"/>
<circle cx="481.30" cy="297.40" r="1.45" fill="#f00d0d"/>
<circle cx="481.30" cy="305.80" r="1.45" fill="#f00d0d"/>
<circle cx="481.30" cy="314.30" r="1.45" fill="#f00d0d"/>
<circle cx="481.30" cy="324.90" r="1.45" fill="#f00d0d"/>
<circle cx="481.30" cy="331.20" r="1.45" fill="#f00d0d"/>
<path d="M502.30 318.86 L504.10 322.10 L500.50 322.10 Z" fill="#1414d2"/>
<path d="M507.70 320.86 L509.50 324.10 L505.90 324.10 Z" fill="#1414d2"/>
<path d="M502.30 322.66 L504.10 325.90 L500.50 325.90 Z" fill="#1414d2"/>
<path d="M502.30 326.56 L504.10 329.80 L500.50 329.80 Z" fill="#1414d2"/>
<path d="M507.70 329.06 L509.50 332.30 L505.90 332.30 Z" fill="#1414d2"/>
<path d="M502.30 331.56 L504.10 334.80 L500.50 334.80 Z" fill="#1414d2"/>
<line x1="456.00" y1="278.00" x2="479.60" y2="278.00" stroke="#a8a8a8" stroke-width="1.3"/>
<text x="468.10" y="276.92" font-size="8.6" font-weight="bold" text-anchor="middle" fill="#111" stroke="#111" stroke-width="0.16">*</text>
<line x1="485.25" y1="278.00" x2="506.25" y2="278.00" stroke="#a8a8a8" stroke-width="1.3"/>
<text x="496.00" y="276.92" font-size="8.6" font-weight="bold" text-anchor="middle" fill="#111" stroke="#111" stroke-width="0.16">*</text>
<text x="428.40" y="314.25" font-size="7.0" font-weight="bold" text-anchor="middle" fill="#111" transform="rotate(-90 428.40 314.25)" stroke="#111" stroke-width="0.16">Spleen weight (grams)</text>
<text x="456.60" y="365.90" font-size="6.4" font-weight="bold" text-anchor="middle" fill="#111" stroke="#111" stroke-width="0.16">Control</text>
<text x="481.20" y="365.90" font-size="6.4" font-weight="bold" text-anchor="middle" fill="#111" stroke="#111" stroke-width="0.16">CAC</text>
<text x="505.50" y="365.90" font-size="6.4" font-weight="bold" text-anchor="middle" fill="#111" stroke="#111" stroke-width="0.16">CAC</text>
<text x="505.50" y="373.30" font-size="6.4" font-weight="bold" text-anchor="middle" fill="#111" stroke="#111" stroke-width="0.16">+ABX</text>
<line x1="38.00" y1="414.05" x2="38.00" y2="498.50" stroke="#222" stroke-width="1.2"/>
<line x1="37.40" y1="497.90" x2="121.00" y2="497.90" stroke="#222" stroke-width="1.2"/>
<line x1="34.80" y1="414.05" x2="38.00" y2="414.05" stroke="#222" stroke-width="1.2"/>
<text x="33.65" y="416.29" font-size="6.3" font-weight="bold" text-anchor="end" fill="#111" stroke="#111" stroke-width="0.16">300</text>
<line x1="34.80" y1="442.00" x2="38.00" y2="442.00" stroke="#222" stroke-width="1.2"/>
<text x="33.65" y="444.24" font-size="6.3" font-weight="bold" text-anchor="end" fill="#111" stroke="#111" stroke-width="0.16">200</text>
<line x1="34.80" y1="469.95" x2="38.00" y2="469.95" stroke="#222" stroke-width="1.2"/>
<text x="33.65" y="472.19" font-size="6.3" font-weight="bold" text-anchor="end" fill="#111" stroke="#111" stroke-width="0.16">100</text>
<line x1="34.80" y1="497.90" x2="38.00" y2="497.90" stroke="#222" stroke-width="1.2"/>
<text x="33.65" y="500.14" font-size="6.3" font-weight="bold" text-anchor="end" fill="#111" stroke="#111" stroke-width="0.16">0</text>
<rect x="47.15" y="497.53" width="15.50" height="0.37" fill="#fff" stroke="#000" stroke-width="1.5"/>
<rect x="72.65" y="456.27" width="14.20" height="41.63" fill="#fff" stroke="#000" stroke-width="1.7"/>
<rect x="97.45" y="490.37" width="14.40" height="7.53" fill="#fff" stroke="#000" stroke-width="1.7"/>
<line x1="55.00" y1="497.90" x2="55.00" y2="500.30" stroke="#222" stroke-width="1.0"/>
<line x1="79.80" y1="497.90" x2="79.80" y2="500.30" stroke="#222" stroke-width="1.0"/>
<line x1="104.70" y1="497.90" x2="104.70" y2="500.30" stroke="#222" stroke-width="1.0"/>
<line x1="79.80" y1="448.15" x2="79.80" y2="461.56" stroke="#000" stroke-width="1.2"/>
<line x1="75.60" y1="448.15" x2="84.00" y2="448.15" stroke="#000" stroke-width="1.2"/>
<line x1="75.60" y1="461.56" x2="84.00" y2="461.56" stroke="#000" stroke-width="1.2"/>
<line x1="104.70" y1="487.00" x2="104.70" y2="491.75" stroke="#000" stroke-width="1.1"/>
<line x1="100.90" y1="487.00" x2="108.50" y2="487.00" stroke="#000" stroke-width="1.1"/>
<line x1="100.90" y1="491.75" x2="108.50" y2="491.75" stroke="#000" stroke-width="1.1"/>
<circle cx="48.50" cy="496.10" r="1.6" fill="#000"/>
<circle cx="51.50" cy="496.10" r="1.6" fill="#000"/>
<circle cx="54.50" cy="496.10" r="1.6" fill="#000"/>
<circle cx="57.50" cy="496.10" r="1.6" fill="#000"/>
<circle cx="60.50" cy="496.10" r="1.6" fill="#000"/>
<circle cx="50.00" cy="495.10" r="1.4" fill="#000"/>
<circle cx="53.00" cy="495.10" r="1.4" fill="#000"/>
<circle cx="56.00" cy="495.10" r="1.4" fill="#000"/>
<circle cx="59.00" cy="495.10" r="1.4" fill="#000"/>
<circle cx="79.90" cy="431.70" r="1.8" fill="#f00d0d"/>
<circle cx="79.90" cy="437.00" r="1.8" fill="#f00d0d"/>
<circle cx="79.90" cy="443.40" r="1.8" fill="#f00d0d"/>
<circle cx="76.00" cy="449.30" r="1.8" fill="#f00d0d"/>
<circle cx="83.50" cy="450.30" r="1.8" fill="#f00d0d"/>
<circle cx="79.90" cy="464.50" r="1.8" fill="#f00d0d"/>
<circle cx="79.90" cy="478.30" r="1.8" fill="#f00d0d"/>
<circle cx="79.90" cy="485.00" r="1.8" fill="#f00d0d"/>
<circle cx="102.90" cy="482.50" r="1.8" fill="#1414d2"/>
<circle cx="106.50" cy="483.10" r="1.8" fill="#1414d2"/>
<circle cx="98.00" cy="489.80" r="1.8" fill="#1414d2"/>
<circle cx="102.00" cy="490.80" r="1.8" fill="#1414d2"/>
<circle cx="106.50" cy="490.20" r="1.8" fill="#1414d2"/>
<circle cx="110.50" cy="489.80" r="1.8" fill="#1414d2"/>
<circle cx="104.50" cy="493.00" r="1.8" fill="#1414d2"/>
<line x1="51.00" y1="413.75" x2="71.90" y2="413.75" stroke="#ababab" stroke-width="1.3"/>
<text x="56.40" y="412.92" font-size="9.0" font-weight="bold" text-anchor="middle" fill="#111" stroke="#111" stroke-width="0.16">*</text>
<text x="62.00" y="412.92" font-size="9.0" font-weight="bold" text-anchor="middle" fill="#111" stroke="#111" stroke-width="0.16">*</text>
<text x="67.60" y="412.92" font-size="9.0" font-weight="bold" text-anchor="middle" fill="#111" stroke="#111" stroke-width="0.16">*</text>
<line x1="83.10" y1="413.75" x2="102.75" y2="413.75" stroke="#ababab" stroke-width="1.3"/>
<text x="90.60" y="412.92" font-size="9.0" font-weight="bold" text-anchor="middle" fill="#111" stroke="#111" stroke-width="0.16">*</text>
<text x="96.10" y="412.92" font-size="9.0" font-weight="bold" text-anchor="middle" fill="#111" stroke="#111" stroke-width="0.16">*</text>
<text x="17.70" y="455.30" font-size="8.1" text-anchor="middle" fill="#111" transform="rotate(-90 17.70 455.30)" stroke="#111" stroke-width="0.16">TNFα (pg/mL)</text>
<text x="54.90" y="507.90" font-size="6.4" font-weight="bold" text-anchor="middle" fill="#111" stroke="#111" stroke-width="0.16">Control</text>
<text x="79.60" y="507.90" font-size="6.4" font-weight="bold" text-anchor="middle" fill="#111" stroke="#111" stroke-width="0.16">CAC</text>
<text x="104.30" y="507.90" font-size="6.4" font-weight="bold" text-anchor="middle" fill="#111" stroke="#111" stroke-width="0.16">CAC</text>
<text x="104.30" y="515.30" font-size="6.4" font-weight="bold" text-anchor="middle" fill="#111" stroke="#111" stroke-width="0.16">+ABX</text>
<line x1="162.70" y1="413.80" x2="162.70" y2="498.60" stroke="#222" stroke-width="1.2"/>
<line x1="162.10" y1="498.00" x2="245.20" y2="498.00" stroke="#222" stroke-width="1.2"/>
<line x1="159.50" y1="420.24" x2="162.70" y2="420.24" stroke="#222" stroke-width="1.2"/>
<text x="157.25" y="422.58" font-size="6.6" font-weight="bold" text-anchor="end" fill="#111" stroke="#111" stroke-width="0.16">60,000</text>
<line x1="159.50" y1="446.16" x2="162.70" y2="446.16" stroke="#222" stroke-width="1.2"/>
<text x="157.25" y="448.50" font-size="6.6" font-weight="bold" text-anchor="end" fill="#111" stroke="#111" stroke-width="0.16">40,000</text>
<line x1="159.50" y1="472.08" x2="162.70" y2="472.08" stroke="#222" stroke-width="1.2"/>
<text x="157.25" y="474.42" font-size="6.6" font-weight="bold" text-anchor="end" fill="#111" stroke="#111" stroke-width="0.16">20,000</text>
<line x1="159.50" y1="498.00" x2="162.70" y2="498.00" stroke="#222" stroke-width="1.2"/>
<text x="157.25" y="500.34" font-size="6.6" font-weight="bold" text-anchor="end" fill="#111" stroke="#111" stroke-width="0.16">0</text>
<rect x="169.75" y="497.97" width="16.00" height="0.03" fill="#fff" stroke="#000" stroke-width="1.5"/>
<rect x="196.65" y="475.91" width="14.00" height="22.09" fill="#fff" stroke="#000" stroke-width="1.7"/>
<rect x="221.05" y="488.22" width="14.60" height="9.78" fill="#fff" stroke="#000" stroke-width="1.7"/>
<line x1="177.80" y1="498.00" x2="177.80" y2="500.40" stroke="#222" stroke-width="1.0"/>
<line x1="203.70" y1="498.00" x2="203.70" y2="500.40" stroke="#222" stroke-width="1.0"/>
<line x1="228.40" y1="498.00" x2="228.40" y2="500.40" stroke="#222" stroke-width="1.0"/>
<line x1="203.70" y1="465.40" x2="203.70" y2="484.00" stroke="#000" stroke-width="1.2"/>
<line x1="199.50" y1="465.40" x2="207.90" y2="465.40" stroke="#000" stroke-width="1.2"/>
<line x1="199.50" y1="484.00" x2="207.90" y2="484.00" stroke="#000" stroke-width="1.2"/>
<line x1="228.40" y1="483.30" x2="228.40" y2="490.40" stroke="#000" stroke-width="1.1"/>
<line x1="224.60" y1="483.30" x2="232.20" y2="483.30" stroke="#000" stroke-width="1.1"/>
<line x1="224.60" y1="490.40" x2="232.20" y2="490.40" stroke="#000" stroke-width="1.1"/>
<circle cx="170.50" cy="496.20" r="1.6" fill="#000"/>
<circle cx="173.50" cy="496.20" r="1.6" fill="#000"/>
<circle cx="176.50" cy="496.20" r="1.6" fill="#000"/>
<circle cx="179.50" cy="496.20" r="1.6" fill="#000"/>
<circle cx="182.50" cy="496.20" r="1.6" fill="#000"/>
<circle cx="185.00" cy="496.20" r="1.6" fill="#000"/>
<circle cx="172.00" cy="495.00" r="1.4" fill="#000"/>
<circle cx="175.00" cy="495.00" r="1.4" fill="#000"/>
<circle cx="178.00" cy="495.00" r="1.4" fill="#000"/>
<circle cx="181.00" cy="495.00" r="1.4" fill="#000"/>
<circle cx="184.00" cy="495.00" r="1.4" fill="#000"/>
<circle cx="203.80" cy="424.40" r="1.8" fill="#f00d0d"/>
<circle cx="203.80" cy="441.90" r="1.8" fill="#f00d0d"/>
<circle cx="203.80" cy="481.20" r="1.8" fill="#f00d0d"/>
<circle cx="197.10" cy="488.50" r="1.8" fill="#f00d0d"/>
<circle cx="203.80" cy="490.00" r="1.8" fill="#f00d0d"/>
<circle cx="210.20" cy="489.40" r="1.8" fill="#f00d0d"/>
<circle cx="203.80" cy="496.20" r="1.8" fill="#f00d0d"/>
<circle cx="225.00" cy="475.00" r="1.8" fill="#1414d2"/>
<circle cx="232.30" cy="475.60" r="1.8" fill="#1414d2"/>
<circle cx="225.00" cy="484.00" r="1.8" fill="#1414d2"/>
<circle cx="232.30" cy="484.60" r="1.8" fill="#1414d2"/>
<circle cx="228.40" cy="494.00" r="1.8" fill="#1414d2"/>
<circle cx="225.00" cy="497.20" r="1.8" fill="#1414d2"/>
<circle cx="232.30" cy="497.20" r="1.8" fill="#1414d2"/>
<line x1="175.00" y1="416.60" x2="196.25" y2="416.60" stroke="#ababab" stroke-width="1.4"/>
<text x="180.50" y="415.82" font-size="9.0" font-weight="bold" text-anchor="middle" fill="#111" stroke="#111" stroke-width="0.16">*</text>
<text x="185.90" y="415.82" font-size="9.0" font-weight="bold" text-anchor="middle" fill="#111" stroke="#111" stroke-width="0.16">*</text>
<text x="191.30" y="415.82" font-size="9.0" font-weight="bold" text-anchor="middle" fill="#111" stroke="#111" stroke-width="0.16">*</text>
<line x1="207.25" y1="416.60" x2="226.90" y2="416.60" stroke="#ababab" stroke-width="1.4"/>
<text x="217.00" y="412.80" font-size="7.6" text-anchor="middle" fill="#444" stroke="#444" stroke-width="0.16">ns</text>
<text x="131.90" y="453.75" font-size="8.1" text-anchor="middle" fill="#111" transform="rotate(-90 131.90 453.75)" stroke="#111" stroke-width="0.16">IL6 (pg/mL)</text>
<text x="177.60" y="507.90" font-size="6.4" font-weight="bold" text-anchor="middle" fill="#111" stroke="#111" stroke-width="0.16">Control</text>
<text x="203.50" y="507.90" font-size="6.4" font-weight="bold" text-anchor="middle" fill="#111" stroke="#111" stroke-width="0.16">CAC</text>
<text x="228.20" y="507.90" font-size="6.4" font-weight="bold" text-anchor="middle" fill="#111" stroke="#111" stroke-width="0.16">CAC</text>
<text x="228.20" y="515.30" font-size="6.4" font-weight="bold" text-anchor="middle" fill="#111" stroke="#111" stroke-width="0.16">+ABX</text>
<line x1="278.00" y1="414.05" x2="278.00" y2="498.50" stroke="#222" stroke-width="1.2"/>
<line x1="277.40" y1="497.90" x2="361.00" y2="497.90" stroke="#222" stroke-width="1.2"/>
<line x1="274.80" y1="414.05" x2="278.00" y2="414.05" stroke="#222" stroke-width="1.2"/>
<text x="273.65" y="416.29" font-size="6.3" font-weight="bold" text-anchor="end" fill="#111" stroke="#111" stroke-width="0.16">300</text>
<line x1="274.80" y1="442.00" x2="278.00" y2="442.00" stroke="#222" stroke-width="1.2"/>
<text x="273.65" y="444.24" font-size="6.3" font-weight="bold" text-anchor="end" fill="#111" stroke="#111" stroke-width="0.16">200</text>
<line x1="274.80" y1="469.95" x2="278.00" y2="469.95" stroke="#222" stroke-width="1.2"/>
<text x="273.65" y="472.19" font-size="6.3" font-weight="bold" text-anchor="end" fill="#111" stroke="#111" stroke-width="0.16">100</text>
<line x1="274.80" y1="497.90" x2="278.00" y2="497.90" stroke="#222" stroke-width="1.2"/>
<text x="273.65" y="500.14" font-size="6.3" font-weight="bold" text-anchor="end" fill="#111" stroke="#111" stroke-width="0.16">0</text>
<rect x="287.15" y="497.53" width="15.50" height="0.37" fill="#fff" stroke="#000" stroke-width="1.5"/>
<rect x="312.65" y="462.14" width="14.20" height="35.76" fill="#fff" stroke="#000" stroke-width="1.7"/>
<rect x="337.45" y="494.84" width="14.40" height="3.06" fill="#fff" stroke="#000" stroke-width="1.7"/>
<line x1="295.00" y1="497.90" x2="295.00" y2="500.30" stroke="#222" stroke-width="1.0"/>
<line x1="319.80" y1="497.90" x2="319.80" y2="500.30" stroke="#222" stroke-width="1.0"/>
<line x1="344.70" y1="497.90" x2="344.70" y2="500.30" stroke="#222" stroke-width="1.0"/>
<line x1="319.80" y1="452.34" x2="319.80" y2="469.11" stroke="#000" stroke-width="1.2"/>
<line x1="315.60" y1="452.34" x2="324.00" y2="452.34" stroke="#000" stroke-width="1.2"/>
<line x1="315.60" y1="469.11" x2="324.00" y2="469.11" stroke="#000" stroke-width="1.2"/>
<line x1="344.70" y1="492.59" x2="344.70" y2="495.10" stroke="#000" stroke-width="1.1"/>
<line x1="340.90" y1="492.59" x2="348.50" y2="492.59" stroke="#000" stroke-width="1.1"/>
<line x1="340.90" y1="495.10" x2="348.50" y2="495.10" stroke="#000" stroke-width="1.1"/>
<circle cx="288.50" cy="496.10" r="1.6" fill="#000"/>
<circle cx="291.50" cy="496.10" r="1.6" fill="#000"/>
<circle cx="294.50" cy="496.10" r="1.6" fill="#000"/>
<circle cx="297.50" cy="496.10" r="1.6" fill="#000"/>
<circle cx="300.50" cy="496.10" r="1.6" fill="#000"/>
<circle cx="290.00" cy="495.10" r="1.4" fill="#000"/>
<circle cx="293.00" cy="495.10" r="1.4" fill="#000"/>
<circle cx="296.00" cy="495.10" r="1.4" fill="#000"/>
<circle cx="299.00" cy="495.10" r="1.4" fill="#000"/>
<circle cx="319.80" cy="429.20" r="1.8" fill="#f00d0d"/>
<circle cx="319.80" cy="438.10" r="1.8" fill="#f00d0d"/>
<circle cx="319.80" cy="441.90" r="1.8" fill="#f00d0d"/>
<circle cx="319.80" cy="452.30" r="1.8" fill="#f00d0d"/>
<circle cx="319.80" cy="470.20" r="1.8" fill="#f00d0d"/>
<circle cx="319.80" cy="480.40" r="1.8" fill="#f00d0d"/>
<circle cx="316.00" cy="487.20" r="1.8" fill="#f00d0d"/>
<circle cx="323.00" cy="486.70" r="1.8" fill="#f00d0d"/>
<circle cx="337.90" cy="490.50" r="1.8" fill="#1414d2"/>
<circle cx="341.50" cy="494.00" r="1.8" fill="#1414d2"/>
<circle cx="346.00" cy="493.00" r="1.8" fill="#1414d2"/>
<circle cx="350.00" cy="493.00" r="1.8" fill="#1414d2"/>
<circle cx="344.00" cy="497.00" r="1.8" fill="#1414d2"/>
<circle cx="350.00" cy="496.50" r="1.8" fill="#1414d2"/>
<line x1="290.60" y1="413.40" x2="311.90" y2="413.40" stroke="#7a7a7a" stroke-width="1.3"/>
<text x="296.00" y="412.62" font-size="9.0" font-weight="bold" text-anchor="middle" fill="#111" stroke="#111" stroke-width="0.16">*</text>
<text x="301.50" y="412.62" font-size="9.0" font-weight="bold" text-anchor="middle" fill="#111" stroke="#111" stroke-width="0.16">*</text>
<text x="306.90" y="412.62" font-size="9.0" font-weight="bold" text-anchor="middle" fill="#111" stroke="#111" stroke-width="0.16">*</text>
<line x1="323.10" y1="413.40" x2="342.75" y2="413.40" stroke="#7a7a7a" stroke-width="1.3"/>
<text x="327.75" y="412.62" font-size="9.0" font-weight="bold" text-anchor="middle" fill="#111" stroke="#111" stroke-width="0.16">*</text>
<text x="333.20" y="412.62" font-size="9.0" font-weight="bold" text-anchor="middle" fill="#111" stroke="#111" stroke-width="0.16">*</text>
<text x="338.75" y="412.62" font-size="9.0" font-weight="bold" text-anchor="middle" fill="#111" stroke="#111" stroke-width="0.16">*</text>
<text x="257.40" y="455.85" font-size="8.1" text-anchor="middle" fill="#111" transform="rotate(-90 257.40 455.85)" stroke="#111" stroke-width="0.16">IL1β (pg/mL)</text>
<text x="294.90" y="507.90" font-size="6.4" font-weight="bold" text-anchor="middle" fill="#111" stroke="#111" stroke-width="0.16">Control</text>
<text x="319.60" y="507.90" font-size="6.4" font-weight="bold" text-anchor="middle" fill="#111" stroke="#111" stroke-width="0.16">CAC</text>
<text x="344.30" y="507.90" font-size="6.4" font-weight="bold" text-anchor="middle" fill="#111" stroke="#111" stroke-width="0.16">CAC</text>
<text x="344.30" y="515.30" font-size="6.4" font-weight="bold" text-anchor="middle" fill="#111" stroke="#111" stroke-width="0.16">+ABX</text>
<line x1="41.50" y1="549.42" x2="41.50" y2="636.60" stroke="#222" stroke-width="1.2"/>
<line x1="40.90" y1="636.00" x2="123.70" y2="636.00" stroke="#222" stroke-width="1.2"/>
<line x1="38.30" y1="549.42" x2="41.50" y2="549.42" stroke="#222" stroke-width="1.2"/>
<text x="37.85" y="551.80" font-size="6.7" font-weight="bold" text-anchor="end" fill="#111" stroke="#111" stroke-width="0.16">6,000</text>
<line x1="38.30" y1="578.28" x2="41.50" y2="578.28" stroke="#222" stroke-width="1.2"/>
<text x="37.85" y="580.66" font-size="6.7" font-weight="bold" text-anchor="end" fill="#111" stroke="#111" stroke-width="0.16">4,000</text>
<line x1="38.30" y1="607.14" x2="41.50" y2="607.14" stroke="#222" stroke-width="1.2"/>
<text x="37.85" y="609.52" font-size="6.7" font-weight="bold" text-anchor="end" fill="#111" stroke="#111" stroke-width="0.16">2,000</text>
<line x1="38.30" y1="636.00" x2="41.50" y2="636.00" stroke="#222" stroke-width="1.2"/>
<text x="37.85" y="638.38" font-size="6.7" font-weight="bold" text-anchor="end" fill="#111" stroke="#111" stroke-width="0.16">0</text>
<rect x="47.20" y="636.27" width="16.60" height="-0.27" fill="#fff" stroke="#000" stroke-width="1.4"/>
<rect x="77.35" y="606.98" width="15.40" height="29.02" fill="#fff" stroke="#000" stroke-width="1.7"/>
<rect x="104.35" y="635.45" width="15.40" height="0.55" fill="#fff" stroke="#000" stroke-width="1.5"/>
<line x1="55.50" y1="636.00" x2="55.50" y2="638.40" stroke="#222" stroke-width="1.0"/>
<line x1="85.00" y1="636.00" x2="85.00" y2="638.40" stroke="#222" stroke-width="1.0"/>
<line x1="112.00" y1="636.00" x2="112.00" y2="638.40" stroke="#222" stroke-width="1.0"/>
<line x1="85.00" y1="595.30" x2="85.00" y2="615.40" stroke="#000" stroke-width="1.2"/>
<line x1="80.40" y1="595.30" x2="89.60" y2="595.30" stroke="#000" stroke-width="1.2"/>
<line x1="80.40" y1="615.40" x2="89.60" y2="615.40" stroke="#000" stroke-width="1.2"/>
<circle cx="47.50" cy="634.60" r="1.5" fill="#000"/>
<circle cx="49.15" cy="634.60" r="1.5" fill="#000"/>
<circle cx="50.80" cy="634.60" r="1.5" fill="#000"/>
<circle cx="52.45" cy="634.60" r="1.5" fill="#000"/>
<circle cx="54.10" cy="634.60" r="1.5" fill="#000"/>
<circle cx="55.75" cy="634.60" r="1.5" fill="#000"/>
<circle cx="57.40" cy="634.60" r="1.5" fill="#000"/>
<circle cx="59.05" cy="634.60" r="1.5" fill="#000"/>
<circle cx="60.70" cy="634.60" r="1.5" fill="#000"/>
<circle cx="62.35" cy="634.60" r="1.5" fill="#000"/>
<circle cx="64.00" cy="634.60" r="1.5" fill="#000"/>
<circle cx="84.50" cy="558.70" r="1.8" fill="#f00d0d"/>
<circle cx="84.50" cy="571.60" r="1.8" fill="#f00d0d"/>
<circle cx="84.50" cy="590.00" r="1.8" fill="#f00d0d"/>
<circle cx="84.50" cy="606.30" r="1.8" fill="#f00d0d"/>
<circle cx="84.50" cy="619.20" r="1.8" fill="#f00d0d"/>
<circle cx="81.30" cy="629.80" r="1.8" fill="#f00d0d"/>
<circle cx="88.10" cy="631.70" r="1.8" fill="#f00d0d"/>
<circle cx="81.30" cy="633.80" r="1.8" fill="#f00d0d"/>
<circle cx="104.80" cy="634.00" r="1.7" fill="#1414d2"/>
<circle cx="107.80" cy="632.80" r="1.7" fill="#1414d2"/>
<circle cx="110.80" cy="633.60" r="1.7" fill="#1414d2"/>
<circle cx="113.80" cy="634.20" r="1.7" fill="#1414d2"/>
<circle cx="116.80" cy="633.80" r="1.7" fill="#1414d2"/>
<circle cx="119.50" cy="634.20" r="1.7" fill="#1414d2"/>
<line x1="58.75" y1="554.25" x2="84.75" y2="554.25" stroke="#555" stroke-width="1.0"/>
<text x="63.80" y="553.12" font-size="9.0" font-weight="bold" text-anchor="middle" fill="#111" stroke="#111" stroke-width="0.16">*</text>
<text x="69.30" y="553.12" font-size="9.0" font-weight="bold" text-anchor="middle" fill="#111" stroke="#111" stroke-width="0.16">*</text>
<text x="74.80" y="553.12" font-size="9.0" font-weight="bold" text-anchor="middle" fill="#111" stroke="#111" stroke-width="0.16">*</text>
<text x="80.30" y="553.12" font-size="9.0" font-weight="bold" text-anchor="middle" fill="#111" stroke="#111" stroke-width="0.16">*</text>
<line x1="83.50" y1="549.50" x2="113.10" y2="549.50" stroke="#555" stroke-width="1.0"/>
<text x="93.40" y="548.12" font-size="9.0" font-weight="bold" text-anchor="middle" fill="#111" stroke="#111" stroke-width="0.16">*</text>
<text x="98.90" y="548.12" font-size="9.0" font-weight="bold" text-anchor="middle" fill="#111" stroke="#111" stroke-width="0.16">*</text>
<text x="104.40" y="548.12" font-size="9.0" font-weight="bold" text-anchor="middle" fill="#111" stroke="#111" stroke-width="0.16">*</text>
<text x="13.90" y="591.50" font-size="8.3" font-weight="bold" text-anchor="middle" fill="#111" transform="rotate(-90 13.90 591.50)" stroke="#111" stroke-width="0.16">IL1α (pg/ml)</text>
<text x="56.60" y="645.90" font-size="6.4" font-weight="bold" text-anchor="middle" fill="#111" stroke="#111" stroke-width="0.16">Control</text>
<text x="83.80" y="645.90" font-size="6.4" font-weight="bold" text-anchor="middle" fill="#111" stroke="#111" stroke-width="0.16">CAC</text>
<text x="112.80" y="645.90" font-size="6.4" font-weight="bold" text-anchor="middle" fill="#111" stroke="#111" stroke-width="0.16">CAC</text>
<text x="112.80" y="653.30" font-size="6.4" font-weight="bold" text-anchor="middle" fill="#111" stroke="#111" stroke-width="0.16">+ABX</text>
<line x1="162.00" y1="550.90" x2="162.00" y2="636.10" stroke="#222" stroke-width="1.2"/>
<line x1="161.40" y1="635.50" x2="245.80" y2="635.50" stroke="#222" stroke-width="1.2"/>
<line x1="158.80" y1="550.90" x2="162.00" y2="550.90" stroke="#222" stroke-width="1.2"/>
<text x="157.55" y="553.10" font-size="6.2" font-weight="bold" text-anchor="end" fill="#111" stroke="#111" stroke-width="0.16">200</text>
<line x1="158.80" y1="572.05" x2="162.00" y2="572.05" stroke="#222" stroke-width="1.2"/>
<text x="157.55" y="574.25" font-size="6.2" font-weight="bold" text-anchor="end" fill="#111" stroke="#111" stroke-width="0.16">150</text>
<line x1="158.80" y1="593.20" x2="162.00" y2="593.20" stroke="#222" stroke-width="1.2"/>
<text x="157.55" y="595.40" font-size="6.2" font-weight="bold" text-anchor="end" fill="#111" stroke="#111" stroke-width="0.16">100</text>
<line x1="158.80" y1="614.35" x2="162.00" y2="614.35" stroke="#222" stroke-width="1.2"/>
<text x="157.55" y="616.55" font-size="6.2" font-weight="bold" text-anchor="end" fill="#111" stroke="#111" stroke-width="0.16">50</text>
<line x1="158.80" y1="635.50" x2="162.00" y2="635.50" stroke="#222" stroke-width="1.2"/>
<text x="157.55" y="637.70" font-size="6.2" font-weight="bold" text-anchor="end" fill="#111" stroke="#111" stroke-width="0.16">0</text>
<rect x="172.10" y="633.34" width="14.10" height="2.16" fill="#fff" stroke="#000" stroke-width="1.6"/>
<rect x="196.95" y="607.59" width="13.70" height="27.91" fill="#fff" stroke="#000" stroke-width="1.7"/>
<rect x="221.25" y="623.24" width="14.20" height="12.26" fill="#fff" stroke="#000" stroke-width="1.7"/>
<line x1="179.10" y1="635.50" x2="179.10" y2="637.90" stroke="#222" stroke-width="1.0"/>
<line x1="203.80" y1="635.50" x2="203.80" y2="637.90" stroke="#222" stroke-width="1.0"/>
<line x1="228.40" y1="635.50" x2="228.40" y2="637.90" stroke="#222" stroke-width="1.0"/>
<line x1="179.10" y1="629.60" x2="179.10" y2="634.50" stroke="#000" stroke-width="1.1"/>
<line x1="175.30" y1="629.60" x2="182.90" y2="629.60" stroke="#000" stroke-width="1.1"/>
<line x1="175.30" y1="634.50" x2="182.90" y2="634.50" stroke="#000" stroke-width="1.1"/>
<line x1="203.80" y1="602.30" x2="203.80" y2="611.20" stroke="#000" stroke-width="1.2"/>
<line x1="199.60" y1="602.30" x2="208.00" y2="602.30" stroke="#000" stroke-width="1.2"/>
<line x1="199.60" y1="611.20" x2="208.00" y2="611.20" stroke="#000" stroke-width="1.2"/>
<line x1="228.40" y1="618.10" x2="228.40" y2="626.50" stroke="#000" stroke-width="1.1"/>
<line x1="224.40" y1="618.10" x2="232.40" y2="618.10" stroke="#000" stroke-width="1.1"/>
<line x1="224.40" y1="626.50" x2="232.40" y2="626.50" stroke="#000" stroke-width="1.1"/>
<circle cx="178.50" cy="620.70" r="1.8" fill="#000"/>
<circle cx="178.50" cy="627.40" r="1.8" fill="#000"/>
<circle cx="173.50" cy="633.20" r="1.8" fill="#000"/>
<circle cx="176.50" cy="633.80" r="1.8" fill="#000"/>
<circle cx="180.50" cy="633.80" r="1.8" fill="#000"/>
<circle cx="184.00" cy="633.40" r="1.8" fill="#000"/>
<circle cx="179.00" cy="631.00" r="1.8" fill="#000"/>
<circle cx="203.50" cy="582.60" r="1.8" fill="#f00d0d"/>
<circle cx="203.50" cy="597.80" r="1.8" fill="#f00d0d"/>
<circle cx="200.30" cy="605.40" r="1.8" fill="#f00d0d"/>
<circle cx="207.30" cy="605.40" r="1.8" fill="#f00d0d"/>
<circle cx="200.30" cy="609.00" r="1.8" fill="#f00d0d"/>
<circle cx="203.50" cy="616.00" r="1.8" fill="#f00d0d"/>
<circle cx="200.30" cy="622.40" r="1.8" fill="#f00d0d"/>
<circle cx="228.40" cy="602.10" r="1.8" fill="#1414d2"/>
<circle cx="225.30" cy="619.60" r="1.8" fill="#1414d2"/>
<circle cx="231.60" cy="619.60" r="1.8" fill="#1414d2"/>
<circle cx="225.30" cy="623.90" r="1.8" fill="#1414d2"/>
<circle cx="228.40" cy="628.00" r="1.8" fill="#1414d2"/>
<circle cx="228.40" cy="635.00" r="1.8" fill="#1414d2"/>
<line x1="175.00" y1="550.90" x2="196.25" y2="550.90" stroke="#8a8a8a" stroke-width="1.4"/>
<text x="180.50" y="550.02" font-size="9.0" font-weight="bold" text-anchor="middle" fill="#111" stroke="#111" stroke-width="0.16">*</text>
<text x="185.90" y="550.02" font-size="9.0" font-weight="bold" text-anchor="middle" fill="#111" stroke="#111" stroke-width="0.16">*</text>
<text x="191.20" y="550.02" font-size="9.0" font-weight="bold" text-anchor="middle" fill="#111" stroke="#111" stroke-width="0.16">*</text>
<line x1="207.25" y1="550.90" x2="226.90" y2="550.90" stroke="#ababab" stroke-width="1.4"/>
<text x="216.90" y="550.02" font-size="9.0" font-weight="bold" text-anchor="middle" fill="#111" stroke="#111" stroke-width="0.16">*</text>
<text x="142.80" y="591.25" font-size="8.0" text-anchor="middle" fill="#111" transform="rotate(-90 142.80 591.25)" stroke="#111" stroke-width="0.16">IL10 (pg/ml)</text>
<text x="178.90" y="645.90" font-size="6.4" font-weight="bold" text-anchor="middle" fill="#111" stroke="#111" stroke-width="0.16">Control</text>
<text x="203.80" y="645.90" font-size="6.4" font-weight="bold" text-anchor="middle" fill="#111" stroke="#111" stroke-width="0.16">CAC</text>
<text x="228.80" y="645.90" font-size="6.4" font-weight="bold" text-anchor="middle" fill="#111" stroke="#111" stroke-width="0.16">CAC</text>
<text x="228.80" y="653.30" font-size="6.4" font-weight="bold" text-anchor="middle" fill="#111" stroke="#111" stroke-width="0.16">+ABX</text>
<defs>
<linearGradient id="pbg1" x1="0" y1="0" x2="0" y2="1"><stop offset="0" stop-color="#7c7874"/><stop offset="0.2" stop-color="#625f60"/><stop offset="0.45" stop-color="#545258"/><stop offset="0.65" stop-color="#424349"/><stop offset="0.85" stop-color="#4a484b"/><stop offset="1" stop-color="#4e4c4c"/></linearGradient>
<linearGradient id="pbg2" x1="0" y1="0" x2="0" y2="1"><stop offset="0" stop-color="#737272"/><stop offset="0.15" stop-color="#6a6a6c"/><stop offset="0.4" stop-color="#4b4a52"/><stop offset="0.55" stop-color="#3c3b47"/><stop offset="0.8" stop-color="#35343b"/><stop offset="1" stop-color="#383638"/></linearGradient>
<linearGradient id="pbg3" x1="0" y1="0" x2="0" y2="1"><stop offset="0" stop-color="#6c6a67"/><stop offset="0.2" stop-color="#5a5858"/><stop offset="0.45" stop-color="#3d3b3c"/><stop offset="0.7" stop-color="#38373a"/><stop offset="1" stop-color="#3b3939"/></linearGradient>
<filter id="soft" x="-20%" y="-20%" width="140%" height="140%">
 <feTurbulence type="fractalNoise" baseFrequency="0.2" numOctaves="2" seed="4" result="t"/>
 <feDisplacementMap in="SourceGraphic" in2="t" scale="2.6" xChannelSelector="R" yChannelSelector="G" result="d"/>
 <feGaussianBlur in="d" stdDeviation="0.6"/>
</filter>
<filter id="pnoise" x="0" y="0" width="100%" height="100%" color-interpolation-filters="sRGB">
 <feTurbulence type="fractalNoise" baseFrequency="0.09" numOctaves="3" seed="2" result="n"/>
 <feColorMatrix in="n" type="matrix" values="0 0 0 0 0.55  0 0 0 0 0.53  0 0 0 0 0.52  3 0 0 0 -1.45"/>
</filter>
</defs>
<rect x="244.90" y="102.00" width="59.60" height="110.40" fill="url(#pbg1)" stroke="none" stroke-width="1.3"/>
<rect x="307.00" y="102.40" width="60.00" height="109.60" fill="url(#pbg2)" stroke="none" stroke-width="1.3"/>
<rect x="369.40" y="102.40" width="56.80" height="109.60" fill="url(#pbg3)" stroke="none" stroke-width="1.3"/>
<rect x="244.9" y="102.0" width="59.6" height="110.4" fill="#fff" filter="url(#pnoise)" opacity="0.2"/>
<rect x="307.0" y="102.4" width="60.0" height="109.6" fill="#fff" filter="url(#pnoise)" opacity="0.2"/>
<rect x="369.4" y="102.4" width="56.8" height="109.6" fill="#fff" filter="url(#pnoise)" opacity="0.2"/>
<g filter="url(#soft)">
<path d="M250.10 113.00 C250.17 115.83 250.18 123.83 250.50 130.00 C250.82 136.17 251.67 143.33 252.00 150.00 C252.33 156.67 252.25 163.33 252.50 170.00 C252.75 176.67 253.17 184.17 253.50 190.00 C253.83 195.83 254.33 202.50 254.50 205.00" fill="none" stroke="#8a8686" stroke-width="6.6" stroke-linecap="round" stroke-linejoin="round"/>
<path d="M250.10 113.00 C250.17 115.83 250.18 123.83 250.50 130.00 C250.82 136.17 251.67 143.33 252.00 150.00 C252.33 156.67 252.25 163.33 252.50 170.00 C252.75 176.67 253.17 184.17 253.50 190.00 C253.83 195.83 254.33 202.50 254.50 205.00" fill="none" stroke="#d6d2d2" stroke-width="5.6" stroke-linecap="round" stroke-linejoin="round"/>
<path d="M250.10 113.00 C250.17 115.83 250.18 123.83 250.50 130.00 C250.82 136.17 251.67 143.33 252.00 150.00 C252.33 156.67 252.25 163.33 252.50 170.00 C252.75 176.67 253.17 184.17 253.50 190.00 C253.83 195.83 254.33 202.50 254.50 205.00" fill="none" stroke="#c4c4ca" stroke-width="2.32" stroke-linecap="round" stroke-linejoin="round"/>
<path d="M261.10 108.00 C261.58 110.00 263.22 115.50 264.00 120.00 C264.78 124.50 265.47 128.33 265.80 135.00 C266.13 141.67 266.08 152.50 266.00 160.00 C265.92 167.50 265.13 174.00 265.30 180.00 C265.47 186.00 266.33 192.00 267.00 196.00 C267.67 200.00 268.92 202.67 269.30 204.00" fill="none" stroke="#8a8686" stroke-width="6.6" stroke-linecap="round" stroke-linejoin="round"/>
<path d="M261.10 108.00 C261.58 110.00 263.22 115.50 264.00 120.00 C264.78 124.50 265.47 128.33 265.80 135.00 C266.13 141.67 266.08 152.50 266.00 160.00 C265.92 167.50 265.13 174.00 265.30 180.00 C265.47 186.00 266.33 192.00 267.00 196.00 C267.67 200.00 268.92 202.67 269.30 204.00" fill="none" stroke="#d6d2d2" stroke-width="5.6" stroke-linecap="round" stroke-linejoin="round"/>
<path d="M261.10 108.00 C261.58 110.00 263.22 115.50 264.00 120.00 C264.78 124.50 265.47 128.33 265.80 135.00 C266.13 141.67 266.08 152.50 266.00 160.00 C265.92 167.50 265.13 174.00 265.30 180.00 C265.47 186.00 266.33 192.00 267.00 196.00 C267.67 200.00 268.92 202.67 269.30 204.00" fill="none" stroke="#c4c4ca" stroke-width="2.32" stroke-linecap="round" stroke-linejoin="round"/>
<path d="M278.00 113.00 C278.42 115.83 279.83 123.83 280.50 130.00 C281.17 136.17 281.58 143.33 282.00 150.00 C282.42 156.67 283.00 164.17 283.00 170.00 C283.00 175.83 282.25 180.17 282.00 185.00 C281.75 189.83 281.58 196.67 281.50 199.00" fill="none" stroke="#8a8686" stroke-width="6.2" stroke-linecap="round" stroke-linejoin="round"/>
<path d="M278.00 113.00 C278.42 115.83 279.83 123.83 280.50 130.00 C281.17 136.17 281.58 143.33 282.00 150.00 C282.42 156.67 283.00 164.17 283.00 170.00 C283.00 175.83 282.25 180.17 282.00 185.00 C281.75 189.83 281.58 196.67 281.50 199.00" fill="none" stroke="#d6d2d2" stroke-width="5.2" stroke-linecap="round" stroke-linejoin="round"/>
<path d="M278.00 113.00 C278.42 115.83 279.83 123.83 280.50 130.00 C281.17 136.17 281.58 143.33 282.00 150.00 C282.42 156.67 283.00 164.17 283.00 170.00 C283.00 175.83 282.25 180.17 282.00 185.00 C281.75 189.83 281.58 196.67 281.50 199.00" fill="none" stroke="#c4c4ca" stroke-width="2.16" stroke-linecap="round" stroke-linejoin="round"/>
<path d="M293.80 111.50 C294.08 114.58 294.97 123.58 295.50 130.00 C296.03 136.42 296.50 143.33 297.00 150.00 C297.50 156.67 298.08 164.17 298.50 170.00 C298.92 175.83 299.27 180.08 299.50 185.00 C299.73 189.92 299.83 197.08 299.90 199.50" fill="none" stroke="#8a8686" stroke-width="6.3999999999999995" stroke-linecap="round" stroke-linejoin="round"/>
<path d="M293.80 111.50 C294.08 114.58 294.97 123.58 295.50 130.00 C296.03 136.42 296.50 143.33 297.00 150.00 C297.50 156.67 298.08 164.17 298.50 170.00 C298.92 175.83 299.27 180.08 299.50 185.00 C299.73 189.92 299.83 197.08 299.90 199.50" fill="none" stroke="#d6d2d2" stroke-width="5.3999999999999995" stroke-linecap="round" stroke-linejoin="round"/>
<path d="M293.80 111.50 C294.08 114.58 294.97 123.58 295.50 130.00 C296.03 136.42 296.50 143.33 297.00 150.00 C297.50 156.67 298.08 164.17 298.50 170.00 C298.92 175.83 299.27 180.08 299.50 185.00 C299.73 189.92 299.83 197.08 299.90 199.50" fill="none" stroke="#c4c4ca" stroke-width="2.2399999999999998" stroke-linecap="round" stroke-linejoin="round"/>
</g>
<g filter="url(#soft)">
<path d="M315.60 132.00 C315.50 135.00 315.18 143.67 315.00 150.00 C314.82 156.33 314.50 163.33 314.50 170.00 C314.50 176.67 314.82 184.67 315.00 190.00 C315.18 195.33 315.50 200.00 315.60 202.00" fill="none" stroke="#7a7073" stroke-width="8.4" stroke-linecap="round" stroke-linejoin="round"/>
<path d="M315.60 132.00 C315.50 135.00 315.18 143.67 315.00 150.00 C314.82 156.33 314.50 163.33 314.50 170.00 C314.50 176.67 314.82 184.67 315.00 190.00 C315.18 195.33 315.50 200.00 315.60 202.00" fill="none" stroke="#dacfce" stroke-width="7.199999999999999" stroke-linecap="round" stroke-linejoin="round"/>
<path d="M315.60 132.00 C315.50 135.00 315.18 143.67 315.00 150.00 C314.82 156.33 314.50 163.33 314.50 170.00 C314.50 176.67 314.82 184.67 315.00 190.00 C315.18 195.33 315.50 200.00 315.60 202.00" fill="none" stroke="#bcb6be" stroke-width="3.04" stroke-linecap="round" stroke-linejoin="round"/>
<ellipse cx="318.8" cy="132.4" rx="1.97" ry="2.56" fill="#e2ccc6" opacity="0.6"/>
<ellipse cx="313.5" cy="136.9" rx="2.10" ry="2.74" fill="#d8c5c2" opacity="0.6"/>
<ellipse cx="315.9" cy="140.7" rx="1.61" ry="2.09" fill="#e2ccc6" opacity="0.6"/>
<ellipse cx="312.0" cy="145.6" rx="2.15" ry="2.80" fill="#d8c5c2" opacity="0.6"/>
<ellipse cx="314.3" cy="150.1" rx="1.83" ry="2.37" fill="#e8d4ce" opacity="0.6"/>
<ellipse cx="313.6" cy="155.2" rx="1.83" ry="2.38" fill="#d8c5c2" opacity="0.6"/>
<ellipse cx="314.0" cy="159.4" rx="1.44" ry="1.88" fill="#e2ccc6" opacity="0.6"/>
<ellipse cx="311.4" cy="164.1" rx="1.89" ry="2.46" fill="#d8c5c2" opacity="0.6"/>
<ellipse cx="313.0" cy="168.9" rx="1.82" ry="2.37" fill="#e2ccc6" opacity="0.6"/>
<ellipse cx="312.7" cy="173.5" rx="2.04" ry="2.65" fill="#e8d4ce" opacity="0.6"/>
<ellipse cx="312.6" cy="177.7" rx="1.84" ry="2.40" fill="#d8c5c2" opacity="0.6"/>
<ellipse cx="313.1" cy="183.7" rx="1.54" ry="2.00" fill="#e8d4ce" opacity="0.6"/>
<ellipse cx="314.5" cy="187.3" rx="1.84" ry="2.39" fill="#e8d4ce" opacity="0.6"/>
<ellipse cx="317.8" cy="192.0" rx="1.61" ry="2.09" fill="#e8d4ce" opacity="0.6"/>
<ellipse cx="318.3" cy="197.7" rx="2.20" ry="2.85" fill="#e8d4ce" opacity="0.6"/>
<ellipse cx="315.0" cy="201.4" rx="2.11" ry="2.74" fill="#e2ccc6" opacity="0.6"/>
<path d="M328.40 137.00 C328.67 139.17 329.65 144.50 330.00 150.00 C330.35 155.50 330.33 163.33 330.50 170.00 C330.67 176.67 330.87 184.50 331.00 190.00 C331.13 195.50 331.25 200.83 331.30 203.00" fill="none" stroke="#7a7073" stroke-width="7.0" stroke-linecap="round" stroke-linejoin="round"/>
<path d="M328.40 137.00 C328.67 139.17 329.65 144.50 330.00 150.00 C330.35 155.50 330.33 163.33 330.50 170.00 C330.67 176.67 330.87 184.50 331.00 190.00 C331.13 195.50 331.25 200.83 331.30 203.00" fill="none" stroke="#dacfce" stroke-width="5.8" stroke-linecap="round" stroke-linejoin="round"/>
<path d="M328.40 137.00 C328.67 139.17 329.65 144.50 330.00 150.00 C330.35 155.50 330.33 163.33 330.50 170.00 C330.67 176.67 330.87 184.50 331.00 190.00 C331.13 195.50 331.25 200.83 331.30 203.00" fill="none" stroke="#bcb6be" stroke-width="2.4800000000000004" stroke-linecap="round" stroke-linejoin="round"/>
<ellipse cx="326.2" cy="137.4" rx="1.83" ry="2.39" fill="#d8c5c2" opacity="0.6"/>
<ellipse cx="331.2" cy="142.4" rx="1.67" ry="2.18" fill="#e8d4ce" opacity="0.6"/>
<ellipse cx="327.4" cy="145.8" rx="1.99" ry="2.58" fill="#e2ccc6" opacity="0.6"/>
<ellipse cx="329.2" cy="150.3" rx="1.27" ry="1.65" fill="#e2ccc6" opacity="0.6"/>
<ellipse cx="332.9" cy="154.9" rx="1.64" ry="2.13" fill="#e8d4ce" opacity="0.6"/>
<ellipse cx="332.0" cy="158.8" rx="1.64" ry="2.13" fill="#d8c5c2" opacity="0.6"/>
<ellipse cx="330.6" cy="163.7" rx="1.85" ry="2.40" fill="#d8c5c2" opacity="0.6"/>
<ellipse cx="327.3" cy="168.2" rx="1.29" ry="1.68" fill="#e2ccc6" opacity="0.6"/>
<ellipse cx="330.2" cy="172.3" rx="1.54" ry="2.01" fill="#d8c5c2" opacity="0.6"/>
<ellipse cx="328.4" cy="176.9" rx="1.67" ry="2.17" fill="#e2ccc6" opacity="0.6"/>
<ellipse cx="328.0" cy="180.4" rx="1.87" ry="2.44" fill="#e8d4ce" opacity="0.6"/>
<ellipse cx="332.5" cy="185.9" rx="1.78" ry="2.31" fill="#e8d4ce" opacity="0.6"/>
<ellipse cx="328.2" cy="189.9" rx="1.76" ry="2.29" fill="#d8c5c2" opacity="0.6"/>
<ellipse cx="329.2" cy="195.0" rx="2.09" ry="2.71" fill="#d8c5c2" opacity="0.6"/>
<ellipse cx="329.8" cy="199.5" rx="1.70" ry="2.21" fill="#d8c5c2" opacity="0.6"/>
<ellipse cx="334.5" cy="202.8" rx="1.23" ry="1.59" fill="#e2ccc6" opacity="0.6"/>
<path d="M343.50 131.50 C343.50 134.58 343.58 143.58 343.50 150.00 C343.42 156.42 343.13 163.33 343.00 170.00 C342.87 176.67 342.75 184.25 342.70 190.00 C342.65 195.75 342.70 202.08 342.70 204.50" fill="none" stroke="#7a7073" stroke-width="7.6" stroke-linecap="round" stroke-linejoin="round"/>
<path d="M343.50 131.50 C343.50 134.58 343.58 143.58 343.50 150.00 C343.42 156.42 343.13 163.33 343.00 170.00 C342.87 176.67 342.75 184.25 342.70 190.00 C342.65 195.75 342.70 202.08 342.70 204.50" fill="none" stroke="#dacfce" stroke-width="6.3999999999999995" stroke-linecap="round" stroke-linejoin="round"/>
<path d="M343.50 131.50 C343.50 134.58 343.58 143.58 343.50 150.00 C343.42 156.42 343.13 163.33 343.00 170.00 C342.87 176.67 342.75 184.25 342.70 190.00 C342.65 195.75 342.70 202.08 342.70 204.50" fill="none" stroke="#bcb6be" stroke-width="2.72" stroke-linecap="round" stroke-linejoin="round"/>
<ellipse cx="346.8" cy="130.8" rx="1.22" ry="1.59" fill="#d8c5c2" opacity="0.6"/>
<ellipse cx="341.2" cy="135.6" rx="1.85" ry="2.41" fill="#d8c5c2" opacity="0.6"/>
<ellipse cx="345.6" cy="140.4" rx="1.47" ry="1.91" fill="#e2ccc6" opacity="0.6"/>
<ellipse cx="342.2" cy="146.3" rx="2.13" ry="2.77" fill="#e8d4ce" opacity="0.6"/>
<ellipse cx="345.1" cy="150.8" rx="2.08" ry="2.71" fill="#e8d4ce" opacity="0.6"/>
<ellipse cx="346.1" cy="156.0" rx="1.51" ry="1.96" fill="#e2ccc6" opacity="0.6"/>
<ellipse cx="341.0" cy="159.9" rx="1.73" ry="2.25" fill="#e8d4ce" opacity="0.6"/>
<ellipse cx="345.1" cy="166.5" rx="1.77" ry="2.30" fill="#e8d4ce" opacity="0.6"/>
<ellipse cx="341.8" cy="170.1" rx="1.38" ry="1.80" fill="#d8c5c2" opacity="0.6"/>
<ellipse cx="341.6" cy="175.9" rx="2.15" ry="2.80" fill="#e8d4ce" opacity="0.6"/>
<ellipse cx="343.0" cy="179.7" rx="1.47" ry="1.91" fill="#e8d4ce" opacity="0.6"/>
<ellipse cx="340.5" cy="184.1" rx="1.73" ry="2.25" fill="#e2ccc6" opacity="0.6"/>
<ellipse cx="342.1" cy="189.4" rx="1.48" ry="1.93" fill="#d8c5c2" opacity="0.6"/>
<ellipse cx="342.0" cy="195.6" rx="1.38" ry="1.80" fill="#e8d4ce" opacity="0.6"/>
<ellipse cx="341.8" cy="199.8" rx="1.50" ry="1.95" fill="#e8d4ce" opacity="0.6"/>
<ellipse cx="343.1" cy="204.6" rx="1.96" ry="2.54" fill="#e8d4ce" opacity="0.6"/>
<path d="M351.40 117.50 C351.98 118.92 354.22 120.58 354.90 126.00 C355.58 131.42 355.32 141.83 355.50 150.00 C355.68 158.17 355.82 166.33 356.00 175.00 C356.18 183.67 356.50 197.50 356.60 202.00" fill="none" stroke="#7a7073" stroke-width="6.8" stroke-linecap="round" stroke-linejoin="round"/>
<path d="M351.40 117.50 C351.98 118.92 354.22 120.58 354.90 126.00 C355.58 131.42 355.32 141.83 355.50 150.00 C355.68 158.17 355.82 166.33 356.00 175.00 C356.18 183.67 356.50 197.50 356.60 202.00" fill="none" stroke="#dacfce" stroke-width="5.6" stroke-linecap="round" stroke-linejoin="round"/>
<path d="M351.40 117.50 C351.98 118.92 354.22 120.58 354.90 126.00 C355.58 131.42 355.32 141.83 355.50 150.00 C355.68 158.17 355.82 166.33 356.00 175.00 C356.18 183.67 356.50 197.50 356.60 202.00" fill="none" stroke="#bcb6be" stroke-width="2.4000000000000004" stroke-linecap="round" stroke-linejoin="round"/>
<ellipse cx="354.1" cy="118.4" rx="2.09" ry="2.72" fill="#e2ccc6" opacity="0.6"/>
<ellipse cx="350.5" cy="122.4" rx="1.58" ry="2.05" fill="#d8c5c2" opacity="0.6"/>
<ellipse cx="352.6" cy="127.6" rx="1.64" ry="2.14" fill="#e2ccc6" opacity="0.6"/>
<ellipse cx="355.9" cy="134.7" rx="1.31" ry="1.70" fill="#e8d4ce" opacity="0.6"/>
<ellipse cx="355.2" cy="138.6" rx="1.83" ry="2.38" fill="#d8c5c2" opacity="0.6"/>
<ellipse cx="354.5" cy="144.3" rx="1.98" ry="2.58" fill="#e8d4ce" opacity="0.6"/>
<ellipse cx="354.7" cy="150.2" rx="1.42" ry="1.84" fill="#e8d4ce" opacity="0.6"/>
<ellipse cx="354.8" cy="157.1" rx="1.57" ry="2.04" fill="#e8d4ce" opacity="0.6"/>
<ellipse cx="354.4" cy="163.2" rx="1.77" ry="2.30" fill="#d8c5c2" opacity="0.6"/>
<ellipse cx="353.8" cy="167.9" rx="1.99" ry="2.59" fill="#e8d4ce" opacity="0.6"/>
<ellipse cx="356.9" cy="173.0" rx="1.38" ry="1.79" fill="#d8c5c2" opacity="0.6"/>
<ellipse cx="357.2" cy="179.3" rx="1.78" ry="2.32" fill="#e2ccc6" opacity="0.6"/>
<ellipse cx="353.7" cy="184.0" rx="1.48" ry="1.92" fill="#e8d4ce" opacity="0.6"/>
<ellipse cx="355.0" cy="190.8" rx="1.31" ry="1.70" fill="#d8c5c2" opacity="0.6"/>
<ellipse cx="356.7" cy="197.1" rx="1.65" ry="2.15" fill="#e2ccc6" opacity="0.6"/>
<ellipse cx="355.1" cy="201.2" rx="1.98" ry="2.58" fill="#e8d4ce" opacity="0.6"/>
<circle cx="315.6" cy="199" r="4.8" fill="#e6d0ca"/>
<circle cx="331.3" cy="201" r="3.6" fill="#e6d0ca"/>
<circle cx="342.7" cy="202" r="4.3" fill="#e6d0ca"/>
<circle cx="356.6" cy="200" r="3.6" fill="#e6d0ca"/>
<circle cx="315.6" cy="134" r="3.4" fill="#e6d0ca"/>
<circle cx="328.8" cy="138" r="2.8" fill="#e6d0ca"/>
<circle cx="351.6" cy="118.5" r="2.6" fill="#e6d0ca"/>
<circle cx="343.5" cy="133" r="3" fill="#e6d0ca"/>
</g>
<g filter="url(#soft)">
<path d="M379.90 115.50 C379.92 117.92 379.90 124.25 380.00 130.00 C380.10 135.75 380.25 142.50 380.50 150.00 C380.75 157.50 381.32 167.33 381.50 175.00 C381.68 182.67 381.58 192.50 381.60 196.00" fill="none" stroke="#746e70" stroke-width="6.6" stroke-linecap="round" stroke-linejoin="round"/>
<path d="M379.90 115.50 C379.92 117.92 379.90 124.25 380.00 130.00 C380.10 135.75 380.25 142.50 380.50 150.00 C380.75 157.50 381.32 167.33 381.50 175.00 C381.68 182.67 381.58 192.50 381.60 196.00" fill="none" stroke="#d4cfd0" stroke-width="5.5" stroke-linecap="round" stroke-linejoin="round"/>
<path d="M379.90 115.50 C379.92 117.92 379.90 124.25 380.00 130.00 C380.10 135.75 380.25 142.50 380.50 150.00 C380.75 157.50 381.32 167.33 381.50 175.00 C381.68 182.67 381.58 192.50 381.60 196.00" fill="none" stroke="#b8b8c2" stroke-width="2.32" stroke-linecap="round" stroke-linejoin="round"/>
<path d="M392.40 108.00 C392.47 110.83 392.83 118.00 392.80 125.00 C392.77 132.00 392.37 141.67 392.20 150.00 C392.03 158.33 391.90 167.50 391.80 175.00 C391.70 182.50 391.63 191.67 391.60 195.00" fill="none" stroke="#746e70" stroke-width="7.2" stroke-linecap="round" stroke-linejoin="round"/>
<path d="M392.40 108.00 C392.47 110.83 392.83 118.00 392.80 125.00 C392.77 132.00 392.37 141.67 392.20 150.00 C392.03 158.33 391.90 167.50 391.80 175.00 C391.70 182.50 391.63 191.67 391.60 195.00" fill="none" stroke="#d4cfd0" stroke-width="6.1000000000000005" stroke-linecap="round" stroke-linejoin="round"/>
<path d="M392.40 108.00 C392.47 110.83 392.83 118.00 392.80 125.00 C392.77 132.00 392.37 141.67 392.20 150.00 C392.03 158.33 391.90 167.50 391.80 175.00 C391.70 182.50 391.63 191.67 391.60 195.00" fill="none" stroke="#b8b8c2" stroke-width="2.5600000000000005" stroke-linecap="round" stroke-linejoin="round"/>
<path d="M403.80 130.50 C404.17 134.08 405.60 145.42 406.00 152.00 C406.40 158.58 406.28 162.33 406.20 170.00 C406.12 177.67 405.62 193.33 405.50 198.00" fill="none" stroke="#746e70" stroke-width="6.6" stroke-linecap="round" stroke-linejoin="round"/>
<path d="M403.80 130.50 C404.17 134.08 405.60 145.42 406.00 152.00 C406.40 158.58 406.28 162.33 406.20 170.00 C406.12 177.67 405.62 193.33 405.50 198.00" fill="none" stroke="#d4cfd0" stroke-width="5.5" stroke-linecap="round" stroke-linejoin="round"/>
<path d="M403.80 130.50 C404.17 134.08 405.60 145.42 406.00 152.00 C406.40 158.58 406.28 162.33 406.20 170.00 C406.12 177.67 405.62 193.33 405.50 198.00" fill="none" stroke="#b8b8c2" stroke-width="2.32" stroke-linecap="round" stroke-linejoin="round"/>
<path d="M416.60 130.50 C416.93 133.75 418.27 144.25 418.60 150.00 C418.93 155.75 418.87 159.17 418.60 165.00 C418.33 170.83 417.43 179.75 417.00 185.00 C416.57 190.25 416.17 194.58 416.00 196.50" fill="none" stroke="#746e70" stroke-width="6.6" stroke-linecap="round" stroke-linejoin="round"/>
<path d="M416.60 130.50 C416.93 133.75 418.27 144.25 418.60 150.00 C418.93 155.75 418.87 159.17 418.60 165.00 C418.33 170.83 417.43 179.75 417.00 185.00 C416.57 190.25 416.17 194.58 416.00 196.50" fill="none" stroke="#d4cfd0" stroke-width="5.5" stroke-linecap="round" stroke-linejoin="round"/>
<path d="M416.60 130.50 C416.93 133.75 418.27 144.25 418.60 150.00 C418.93 155.75 418.87 159.17 418.60 165.00 C418.33 170.83 417.43 179.75 417.00 185.00 C416.57 190.25 416.17 194.58 416.00 196.50" fill="none" stroke="#b8b8c2" stroke-width="2.32" stroke-linecap="round" stroke-linejoin="round"/>
<circle cx="381.6" cy="195" r="3.4" fill="#ddd0cc"/>
<circle cx="391.6" cy="195" r="3.4" fill="#ddd0cc"/>
<circle cx="405.5" cy="197" r="3.3" fill="#ddd0cc"/>
<circle cx="416" cy="195.5" r="3.1" fill="#ddd0cc"/>
<circle cx="379.9" cy="116" r="3" fill="#ddd0cc"/>
<circle cx="392.4" cy="109" r="2.8" fill="#ddd0cc"/>
<circle cx="403.8" cy="131" r="2.6" fill="#ddd0cc"/>
<circle cx="416.6" cy="131" r="2.6" fill="#ddd0cc"/>
</g>
<rect x="244.90" y="102.00" width="59.60" height="110.40" fill="none" stroke="#151515" stroke-width="1.3"/>
<rect x="307.00" y="102.40" width="60.00" height="109.60" fill="none" stroke="#151515" stroke-width="1.3"/>
<rect x="369.40" y="102.40" width="56.80" height="109.60" fill="none" stroke="#151515" stroke-width="1.3"/>
<text x="275.80" y="97.40" font-size="10.8" font-weight="bold" text-anchor="middle" fill="#111" stroke="#111" stroke-width="0.16">Control</text>
<text x="336.90" y="97.40" font-size="10.8" font-weight="bold" text-anchor="middle" fill="#111" stroke="#111" stroke-width="0.16">CAC</text>
<text x="398.40" y="97.40" font-size="10.8" font-weight="bold" text-anchor="middle" fill="#111" stroke="#111" stroke-width="0.16">CAC+ABX</text>
<defs>
<clipPath id="h1"><rect x="1" y="271.3" width="96.8" height="92.7"/></clipPath>
<clipPath id="h2"><rect x="99.8" y="271.3" width="98" height="92.7"/></clipPath>
<clipPath id="h3"><rect x="201.3" y="271.3" width="97.2" height="92.7"/></clipPath>
<filter id="hblur" x="-10%" y="-10%" width="120%" height="120%"><feGaussianBlur stdDeviation="0.9"/></filter>
<filter id="hblur2" x="-10%" y="-10%" width="120%" height="120%"><feGaussianBlur stdDeviation="2.5"/></filter>
<filter id="gland" x="0" y="0" width="100%" height="100%" color-interpolation-filters="sRGB">
 <feTurbulence type="fractalNoise" baseFrequency="0.24" numOctaves="2" seed="7" result="n"/>
 <feColorMatrix in="n" type="matrix" values="0 0 0 0 0.88  0 0 0 0 0.72  0 0 0 0 0.88  -9 0 0 0 5.0"/>
 <feGaussianBlur stdDeviation="0.35"/>
</filter>
<filter id="gland2" x="0" y="0" width="100%" height="100%" color-interpolation-filters="sRGB">
 <feTurbulence type="fractalNoise" baseFrequency="0.22" numOctaves="2" seed="11" result="n"/>
 <feColorMatrix in="n" type="matrix" values="0 0 0 0 0.45  0 0 0 0 0.12  0 0 0 0 0.50  9 0 0 0 -5.2"/>
 <feGaussianBlur stdDeviation="0.3"/>
</filter>
<filter id="hblur3" x="-10%" y="-10%" width="120%" height="120%"><feGaussianBlur stdDeviation="0.6"/></filter>
<filter id="pinktex" x="0" y="0" width="100%" height="100%" color-interpolation-filters="sRGB">
 <feTurbulence type="fractalNoise" baseFrequency="0.12 0.3" numOctaves="3" seed="5" result="n"/>
 <feColorMatrix in="n" type="matrix" values="0 0 0 0 0.88  0 0 0 0 0.30  0 0 0 0 0.64  6 0 0 0 -2.9"/>
 <feGaussianBlur stdDeviation="0.6"/>
</filter>
<filter id="wobble" x="-10%" y="-10%" width="120%" height="120%">
 <feTurbulence type="fractalNoise" baseFrequency="0.25" numOctaves="2" seed="9" result="t"/>
 <feDisplacementMap in="SourceGraphic" in2="t" scale="3.5" xChannelSelector="R" yChannelSelector="G" result="d"/>
 <feGaussianBlur in="d" stdDeviation="0.35"/>
</filter>
<filter id="gblur" x="-5%" y="-5%" width="110%" height="110%"><feGaussianBlur stdDeviation="0.6"/></filter>
<filter id="speck" x="0" y="0" width="100%" height="100%" color-interpolation-filters="sRGB">
 <feTurbulence type="fractalNoise" baseFrequency="0.35" numOctaves="2" seed="3" result="n"/>
 <feColorMatrix in="n" type="matrix" values="0 0 0 0 1  0 0 0 0 0.85  0 0 0 0 0.95  -6 0 0 0 3.4"/>
</filter>
</defs>
<g clip-path="url(#h1)">
<rect x="0.00" y="270.00" width="100.00" height="96.00" fill="#d7cfc3" stroke="none" stroke-width="1.0"/>
<g filter="url(#hblur3)">
<path d="M80.00 266.00 C80.17 269.17 81.10 279.33 81.00 285.00 C80.90 290.67 80.07 295.58 79.40 300.00 C78.73 304.42 78.28 307.83 77.00 311.50 C75.72 315.17 73.70 318.78 71.70 322.00 C69.70 325.22 67.40 328.05 65.00 330.80 C62.60 333.55 60.02 336.10 57.30 338.50 C54.58 340.90 51.25 343.28 48.70 345.20 C46.15 347.12 44.62 348.37 42.00 350.00 C39.38 351.63 36.33 353.33 33.00 355.00 C29.67 356.67 25.83 358.42 22.00 360.00 C18.17 361.58 14.17 363.50 10.00 364.50 C5.83 365.50 -0.83 365.75 -3.00 366.00 L-3 367 L-3 266 Z" fill="#93388f"/>
</g>
<path d="M72.50 266.00 C72.58 269.17 73.08 279.33 73.00 285.00 C72.92 290.67 72.58 295.50 72.00 300.00 C71.42 304.50 70.92 308.25 69.50 312.00 C68.08 315.75 65.67 319.42 63.50 322.50 C61.33 325.58 59.08 328.00 56.50 330.50 C53.92 333.00 50.75 335.45 48.00 337.50 C45.25 339.55 43.17 340.88 40.00 342.80 C36.83 344.72 32.83 347.22 29.00 349.00 C25.17 350.78 21.00 352.37 17.00 353.50 C13.00 354.63 8.33 355.33 5.00 355.80 C1.67 356.27 -1.67 356.22 -3.00 356.30" fill="none" stroke="#d890cc" stroke-width="11" stroke-dasharray="1.2 1.8" opacity="0.42" filter="url(#wobble)"/>
<path d="M80.00 266.00 C80.17 269.17 81.10 279.33 81.00 285.00 C80.90 290.67 80.07 295.58 79.40 300.00 C78.73 304.42 78.28 307.83 77.00 311.50 C75.72 315.17 73.70 318.78 71.70 322.00 C69.70 325.22 67.40 328.05 65.00 330.80 C62.60 333.55 60.02 336.10 57.30 338.50 C54.58 340.90 51.25 343.28 48.70 345.20 C46.15 347.12 44.62 348.37 42.00 350.00 C39.38 351.63 36.33 353.33 33.00 355.00 C29.67 356.67 25.83 358.42 22.00 360.00 C18.17 361.58 14.17 363.50 10.00 364.50 C5.83 365.50 -0.83 365.75 -3.00 366.00" fill="none" stroke="#7a2a84" stroke-width="2.2" opacity="0.6" filter="url(#hblur3)"/>
<g filter="url(#hblur3)">
<path d="M58.20 266.00 C58.37 268.33 58.90 274.33 59.20 280.00 C59.50 285.67 60.12 294.33 60.00 300.00 C59.88 305.67 59.83 309.67 58.50 314.00 C57.17 318.33 54.45 322.40 52.00 326.00 C49.55 329.60 46.63 333.18 43.80 335.60 C40.97 338.02 38.63 339.02 35.00 340.50 C31.37 341.98 26.17 343.58 22.00 344.50 C17.83 345.42 14.17 345.67 10.00 346.00 C5.83 346.33 -0.83 346.42 -3.00 346.50" fill="none" stroke="#d85aa6" stroke-width="9"/>
<path d="M58.20 266.00 C58.37 268.33 58.90 274.33 59.20 280.00 C59.50 285.67 60.12 294.33 60.00 300.00 C59.88 305.67 59.83 309.67 58.50 314.00 C57.17 318.33 54.45 322.40 52.00 326.00 C49.55 329.60 46.63 333.18 43.80 335.60 C40.97 338.02 38.63 339.02 35.00 340.50 C31.37 341.98 26.17 343.58 22.00 344.50 C17.83 345.42 14.17 345.67 10.00 346.00 C5.83 346.33 -0.83 346.42 -3.00 346.50 L-3 266 Z" fill="#e38fc2"/>
</g>
<clipPath id="pinkclip"><path d="M58.20 266.00 C58.37 268.33 58.90 274.33 59.20 280.00 C59.50 285.67 60.12 294.33 60.00 300.00 C59.88 305.67 59.83 309.67 58.50 314.00 C57.17 318.33 54.45 322.40 52.00 326.00 C49.55 329.60 46.63 333.18 43.80 335.60 C40.97 338.02 38.63 339.02 35.00 340.50 C31.37 341.98 26.17 343.58 22.00 344.50 C17.83 345.42 14.17 345.67 10.00 346.00 C5.83 346.33 -0.83 346.42 -3.00 346.50 L-3 266 Z"/></clipPath>
<rect x="0" y="270" width="100" height="96" fill="#fff" filter="url(#pinktex)" opacity="0.6" clip-path="url(#pinkclip)"/>
<path d="M58.20 266.00 C58.37 268.33 58.90 274.33 59.20 280.00 C59.50 285.67 60.12 294.33 60.00 300.00 C59.88 305.67 59.83 309.67 58.50 314.00 C57.17 318.33 54.45 322.40 52.00 326.00 C49.55 329.60 46.63 333.18 43.80 335.60 C40.97 338.02 38.63 339.02 35.00 340.50 C31.37 341.98 26.17 343.58 22.00 344.50 C17.83 345.42 14.17 345.67 10.00 346.00 C5.83 346.33 -0.83 346.42 -3.00 346.50" fill="none" stroke="#ecd2dc" stroke-width="3.0" filter="url(#hblur3)"/>
<path d="M84.00 290.00 C83.72 291.67 83.38 295.17 82.30 300.00 C81.22 304.83 79.75 313.87 77.50 319.00 C75.25 324.13 71.85 327.08 68.80 330.80 C65.75 334.52 61.60 338.60 59.20 341.30 C56.80 344.00 55.20 346.05 54.40 347.00" fill="none" stroke="#c890c0" stroke-width="0.8"/>
<path d="M-3 270 L16 270 C19 276 26 280 34 283.5 C40 288 43.5 296 43.5 303 C43 310 38.5 316 32 320.5 C25 323.5 14 323.5 6 321.5 C3 320.5 1 319 -3 318 Z" fill="#e0489f" filter="url(#hblur)"/>
<path d="M-3 270 L14.5 270 C17.5 275.5 24.5 279.5 32 283.5 C37.5 288 40.8 296 40.8 303 C40.3 308.5 36 313.5 30 317.5 C24 320.3 14 320.8 6 319 C3 318 1 316.5 -3 315.5 Z" fill="#d3c4c3" filter="url(#hblur)"/>
<circle cx="10" cy="285" r="1" fill="#c898b8"/><circle cx="25" cy="288" r="1.2" fill="#d8b0c4"/><circle cx="5" cy="300" r="0.9" fill="#c898b8"/>
</g>
<rect x="1.00" y="271.30" width="96.80" height="92.70" fill="none" stroke="#3c3c3c" stroke-width="1.3"/>
<g clip-path="url(#h2)">
<rect x="99.00" y="270.00" width="100.00" height="96.00" fill="#dc9ad8" stroke="none" stroke-width="1.0"/>
<g filter="url(#hblur2)">
<path d="M163 271 L200 271 L200 328 C193 320 187 310 181 301 C174 291 168 282 163 271 Z" fill="#e3a9da"/>
<path d="M99 271 L150 271 C146 280 138 288 128 293 C118 297 108 300 99 303 Z" fill="#e4aade"/>
<path d="M99 338 L130 348 L160 360 L200 366 L99 366 Z" fill="#d898d2"/>
</g>
<g filter="url(#gblur)">
<ellipse cx="163.5" cy="271.4" rx="3.7" ry="2.9" transform="rotate(118 163.5 271.4)" fill="#cc70c6" stroke="#a63ea2" stroke-width="0.9"/>
<ellipse cx="163.5" cy="271.4" rx="2.3" ry="0.46" transform="rotate(118 163.5 271.4)" fill="#e6bce2"/>
<ellipse cx="120.2" cy="340.4" rx="4.8" ry="2.7" transform="rotate(8 120.2 340.4)" fill="#c056bb" stroke="#a63ea2" stroke-width="0.9"/>
<ellipse cx="120.2" cy="340.4" rx="3.0" ry="0.44" transform="rotate(8 120.2 340.4)" fill="#e6bce2"/>
<ellipse cx="189.8" cy="277.4" rx="4.1" ry="3.1" transform="rotate(175 189.8 277.4)" fill="#cc70c6" stroke="#a63ea2" stroke-width="0.9"/>
<ellipse cx="189.8" cy="277.4" rx="2.5" ry="0.49" transform="rotate(175 189.8 277.4)" fill="#e6bce2"/>
<ellipse cx="100.1" cy="290.2" rx="4.3" ry="3.4" transform="rotate(121 100.1 290.2)" fill="#cc70c6" stroke="#a63ea2" stroke-width="0.9"/>
<ellipse cx="100.1" cy="290.2" rx="2.7" ry="0.55" transform="rotate(121 100.1 290.2)" fill="#e6bce2"/>
<ellipse cx="153.7" cy="290.4" rx="4.5" ry="2.1" transform="rotate(60 153.7 290.4)" fill="#c056bb" stroke="#a63ea2" stroke-width="0.9"/>
<ellipse cx="153.7" cy="290.4" rx="2.8" ry="0.33" transform="rotate(60 153.7 290.4)" fill="#e6bce2"/>
<ellipse cx="169.6" cy="302.0" rx="3.4" ry="2.8" transform="rotate(100 169.6 302.0)" fill="#c056bb" stroke="#a63ea2" stroke-width="0.9"/>
<ellipse cx="169.6" cy="302.0" rx="2.1" ry="0.44" transform="rotate(100 169.6 302.0)" fill="#e6bce2"/>
<ellipse cx="196.6" cy="301.6" rx="3.2" ry="1.5" transform="rotate(31 196.6 301.6)" fill="#cc70c6" stroke="#a63ea2" stroke-width="0.9"/>
<ellipse cx="196.6" cy="301.6" rx="2.0" ry="0.30" transform="rotate(31 196.6 301.6)" fill="#e6bce2"/>
<ellipse cx="107.1" cy="351.2" rx="4.6" ry="2.5" transform="rotate(46 107.1 351.2)" fill="#c460be" stroke="#a63ea2" stroke-width="0.9"/>
<ellipse cx="107.1" cy="351.2" rx="2.8" ry="0.40" transform="rotate(46 107.1 351.2)" fill="#e6bce2"/>
<ellipse cx="180.9" cy="339.8" rx="4.4" ry="2.2" transform="rotate(42 180.9 339.8)" fill="#c056bb" stroke="#a63ea2" stroke-width="0.9"/>
<ellipse cx="180.9" cy="339.8" rx="2.7" ry="0.35" transform="rotate(42 180.9 339.8)" fill="#e6bce2"/>
<ellipse cx="183.3" cy="329.0" rx="5.2" ry="4.3" transform="rotate(22 183.3 329.0)" fill="#c056bb" stroke="#a63ea2" stroke-width="0.9"/>
<ellipse cx="157.0" cy="337.3" rx="3.1" ry="1.7" transform="rotate(2 157.0 337.3)" fill="#c056bb" stroke="#a63ea2" stroke-width="0.9"/>
<ellipse cx="157.0" cy="337.3" rx="1.9" ry="0.30" transform="rotate(2 157.0 337.3)" fill="#e6bce2"/>
<ellipse cx="120.7" cy="297.1" rx="3.2" ry="2.3" transform="rotate(71 120.7 297.1)" fill="#cc70c6" stroke="#a63ea2" stroke-width="0.9"/>
<ellipse cx="120.7" cy="297.1" rx="2.0" ry="0.37" transform="rotate(71 120.7 297.1)" fill="#e6bce2"/>
<ellipse cx="121.2" cy="278.8" rx="3.7" ry="3.1" transform="rotate(50 121.2 278.8)" fill="#cc70c6" stroke="#a63ea2" stroke-width="0.9"/>
<ellipse cx="121.2" cy="278.8" rx="2.3" ry="0.49" transform="rotate(50 121.2 278.8)" fill="#e6bce2"/>
<ellipse cx="163.1" cy="304.4" rx="4.0" ry="2.6" transform="rotate(121 163.1 304.4)" fill="#c056bb" stroke="#a63ea2" stroke-width="0.9"/>
<ellipse cx="163.1" cy="304.4" rx="2.5" ry="0.41" transform="rotate(121 163.1 304.4)" fill="#e6bce2"/>
<ellipse cx="164.4" cy="328.1" rx="3.4" ry="1.9" transform="rotate(53 164.4 328.1)" fill="#c056bb" stroke="#a63ea2" stroke-width="0.9"/>
<ellipse cx="164.4" cy="328.1" rx="2.1" ry="0.31" transform="rotate(53 164.4 328.1)" fill="#e6bce2"/>
<ellipse cx="199.9" cy="331.1" rx="4.4" ry="2.0" transform="rotate(68 199.9 331.1)" fill="#c460be" stroke="#a63ea2" stroke-width="0.9"/>
<ellipse cx="199.9" cy="331.1" rx="2.8" ry="0.32" transform="rotate(68 199.9 331.1)" fill="#e6bce2"/>
<ellipse cx="168.2" cy="350.8" rx="5.0" ry="3.7" transform="rotate(71 168.2 350.8)" fill="#c056bb" stroke="#a63ea2" stroke-width="0.9"/>
<ellipse cx="168.2" cy="350.8" rx="3.1" ry="0.60" transform="rotate(71 168.2 350.8)" fill="#e6bce2"/>
<ellipse cx="138.1" cy="357.7" rx="4.2" ry="3.2" transform="rotate(153 138.1 357.7)" fill="#c460be" stroke="#a63ea2" stroke-width="0.9"/>
<ellipse cx="138.1" cy="357.7" rx="2.6" ry="0.52" transform="rotate(153 138.1 357.7)" fill="#e6bce2"/>
<ellipse cx="124.3" cy="325.7" rx="5.3" ry="3.6" transform="rotate(27 124.3 325.7)" fill="#c056bb" stroke="#a63ea2" stroke-width="0.9"/>
<ellipse cx="124.3" cy="325.7" rx="3.3" ry="0.57" transform="rotate(27 124.3 325.7)" fill="#e6bce2"/>
<ellipse cx="150.0" cy="277.8" rx="3.1" ry="2.1" transform="rotate(35 150.0 277.8)" fill="#cc70c6" stroke="#a63ea2" stroke-width="0.9"/>
<ellipse cx="150.0" cy="277.8" rx="1.9" ry="0.33" transform="rotate(35 150.0 277.8)" fill="#e6bce2"/>
<ellipse cx="108.4" cy="329.9" rx="5.1" ry="3.0" transform="rotate(115 108.4 329.9)" fill="#c056bb" stroke="#a63ea2" stroke-width="0.9"/>
<ellipse cx="167.9" cy="321.1" rx="3.7" ry="2.7" transform="rotate(142 167.9 321.1)" fill="#c056bb" stroke="#a63ea2" stroke-width="0.9"/>
<ellipse cx="167.9" cy="321.1" rx="2.3" ry="0.43" transform="rotate(142 167.9 321.1)" fill="#e6bce2"/>
<ellipse cx="124.4" cy="317.6" rx="3.5" ry="2.0" transform="rotate(51 124.4 317.6)" fill="#c056bb" stroke="#a63ea2" stroke-width="0.9"/>
<ellipse cx="124.4" cy="317.6" rx="2.1" ry="0.32" transform="rotate(51 124.4 317.6)" fill="#e6bce2"/>
<ellipse cx="191.9" cy="353.4" rx="3.8" ry="1.9" transform="rotate(139 191.9 353.4)" fill="#c460be" stroke="#a63ea2" stroke-width="0.9"/>
<ellipse cx="191.9" cy="353.4" rx="2.3" ry="0.30" transform="rotate(139 191.9 353.4)" fill="#e6bce2"/>
<ellipse cx="176.3" cy="321.3" rx="5.0" ry="3.8" transform="rotate(71 176.3 321.3)" fill="#c056bb" stroke="#a63ea2" stroke-width="0.9"/>
<ellipse cx="176.3" cy="321.3" rx="3.1" ry="0.61" transform="rotate(71 176.3 321.3)" fill="#e6bce2"/>
<ellipse cx="152.2" cy="269.1" rx="3.8" ry="2.3" transform="rotate(175 152.2 269.1)" fill="#c460be" stroke="#a63ea2" stroke-width="0.9"/>
<ellipse cx="152.2" cy="269.1" rx="2.4" ry="0.37" transform="rotate(175 152.2 269.1)" fill="#e6bce2"/>
<ellipse cx="99.0" cy="359.1" rx="5.3" ry="3.6" transform="rotate(78 99.0 359.1)" fill="#c460be" stroke="#a63ea2" stroke-width="0.9"/>
<ellipse cx="183.5" cy="298.8" rx="3.2" ry="1.7" transform="rotate(168 183.5 298.8)" fill="#c056bb" stroke="#a63ea2" stroke-width="0.9"/>
<ellipse cx="183.5" cy="298.8" rx="2.0" ry="0.30" transform="rotate(168 183.5 298.8)" fill="#e6bce2"/>
<ellipse cx="188.3" cy="360.9" rx="3.2" ry="2.0" transform="rotate(77 188.3 360.9)" fill="#c460be" stroke="#a63ea2" stroke-width="0.9"/>
<ellipse cx="188.3" cy="360.9" rx="2.0" ry="0.31" transform="rotate(77 188.3 360.9)" fill="#e6bce2"/>
<ellipse cx="132.2" cy="326.1" rx="3.6" ry="1.8" transform="rotate(83 132.2 326.1)" fill="#c056bb" stroke="#a63ea2" stroke-width="0.9"/>
<ellipse cx="120.8" cy="356.8" rx="5.2" ry="2.9" transform="rotate(100 120.8 356.8)" fill="#c460be" stroke="#a63ea2" stroke-width="0.9"/>
<ellipse cx="120.8" cy="356.8" rx="3.2" ry="0.46" transform="rotate(100 120.8 356.8)" fill="#e6bce2"/>
<ellipse cx="156.4" cy="314.8" rx="5.0" ry="2.8" transform="rotate(69 156.4 314.8)" fill="#c056bb" stroke="#a63ea2" stroke-width="0.9"/>
<ellipse cx="156.4" cy="314.8" rx="3.1" ry="0.45" transform="rotate(69 156.4 314.8)" fill="#e6bce2"/>
<ellipse cx="141.8" cy="310.1" rx="4.2" ry="2.8" transform="rotate(158 141.8 310.1)" fill="#c056bb" stroke="#a63ea2" stroke-width="0.9"/>
<ellipse cx="141.8" cy="310.1" rx="2.6" ry="0.44" transform="rotate(158 141.8 310.1)" fill="#e6bce2"/>
<ellipse cx="172.8" cy="334.3" rx="5.6" ry="3.0" transform="rotate(40 172.8 334.3)" fill="#c056bb" stroke="#a63ea2" stroke-width="0.9"/>
<ellipse cx="172.8" cy="334.3" rx="3.4" ry="0.47" transform="rotate(40 172.8 334.3)" fill="#e6bce2"/>
<ellipse cx="107.2" cy="308.1" rx="3.9" ry="2.1" transform="rotate(176 107.2 308.1)" fill="#c460be" stroke="#a63ea2" stroke-width="0.9"/>
<ellipse cx="107.2" cy="308.1" rx="2.4" ry="0.34" transform="rotate(176 107.2 308.1)" fill="#e6bce2"/>
<ellipse cx="186.6" cy="322.4" rx="3.1" ry="2.5" transform="rotate(133 186.6 322.4)" fill="#c056bb" stroke="#a63ea2" stroke-width="0.9"/>
<ellipse cx="186.6" cy="322.4" rx="1.9" ry="0.40" transform="rotate(133 186.6 322.4)" fill="#e6bce2"/>
<ellipse cx="147.5" cy="289.7" rx="4.0" ry="2.7" transform="rotate(94 147.5 289.7)" fill="#c056bb" stroke="#a63ea2" stroke-width="0.9"/>
<ellipse cx="147.5" cy="289.7" rx="2.5" ry="0.43" transform="rotate(94 147.5 289.7)" fill="#e6bce2"/>
<ellipse cx="124.6" cy="345.1" rx="4.2" ry="3.2" transform="rotate(33 124.6 345.1)" fill="#c056bb" stroke="#a63ea2" stroke-width="0.9"/>
<ellipse cx="157.2" cy="321.6" rx="4.9" ry="2.8" transform="rotate(158 157.2 321.6)" fill="#c056bb" stroke="#a63ea2" stroke-width="0.9"/>
<ellipse cx="167.2" cy="291.8" rx="3.3" ry="1.8" transform="rotate(17 167.2 291.8)" fill="#c056bb" stroke="#a63ea2" stroke-width="0.9"/>
<ellipse cx="161.4" cy="309.7" rx="4.5" ry="3.3" transform="rotate(88 161.4 309.7)" fill="#c056bb" stroke="#a63ea2" stroke-width="0.9"/>
<ellipse cx="161.4" cy="309.7" rx="2.8" ry="0.53" transform="rotate(88 161.4 309.7)" fill="#e6bce2"/>
<ellipse cx="151.4" cy="359.7" rx="3.5" ry="2.6" transform="rotate(59 151.4 359.7)" fill="#c460be" stroke="#a63ea2" stroke-width="0.9"/>
<ellipse cx="151.4" cy="359.7" rx="2.2" ry="0.42" transform="rotate(59 151.4 359.7)" fill="#e6bce2"/>
<ellipse cx="171.5" cy="292.2" rx="4.0" ry="2.5" transform="rotate(156 171.5 292.2)" fill="#c056bb" stroke="#a63ea2" stroke-width="0.9"/>
<ellipse cx="171.5" cy="292.2" rx="2.5" ry="0.41" transform="rotate(156 171.5 292.2)" fill="#e6bce2"/>
<ellipse cx="166.9" cy="298.1" rx="3.8" ry="2.6" transform="rotate(50 166.9 298.1)" fill="#c056bb" stroke="#a63ea2" stroke-width="0.9"/>
<ellipse cx="166.9" cy="298.1" rx="2.4" ry="0.42" transform="rotate(50 166.9 298.1)" fill="#e6bce2"/>
<ellipse cx="170.2" cy="328.3" rx="5.6" ry="3.4" transform="rotate(104 170.2 328.3)" fill="#c056bb" stroke="#a63ea2" stroke-width="0.9"/>
<ellipse cx="170.2" cy="328.3" rx="3.5" ry="0.55" transform="rotate(104 170.2 328.3)" fill="#e6bce2"/>
<ellipse cx="128.1" cy="333.3" rx="5.4" ry="3.2" transform="rotate(109 128.1 333.3)" fill="#c056bb" stroke="#a63ea2" stroke-width="0.9"/>
<ellipse cx="128.1" cy="333.3" rx="3.4" ry="0.52" transform="rotate(109 128.1 333.3)" fill="#e6bce2"/>
<ellipse cx="154.5" cy="295.4" rx="4.6" ry="2.7" transform="rotate(176 154.5 295.4)" fill="#c056bb" stroke="#a63ea2" stroke-width="0.9"/>
<ellipse cx="154.5" cy="295.4" rx="2.8" ry="0.43" transform="rotate(176 154.5 295.4)" fill="#e6bce2"/>
<ellipse cx="163.3" cy="294.4" rx="4.9" ry="3.4" transform="rotate(81 163.3 294.4)" fill="#c056bb" stroke="#a63ea2" stroke-width="0.9"/>
<ellipse cx="163.3" cy="294.4" rx="3.1" ry="0.55" transform="rotate(81 163.3 294.4)" fill="#e6bce2"/>
<ellipse cx="154.4" cy="310.5" rx="3.0" ry="2.2" transform="rotate(167 154.4 310.5)" fill="#c056bb" stroke="#a63ea2" stroke-width="0.9"/>
<ellipse cx="154.4" cy="310.5" rx="1.9" ry="0.35" transform="rotate(167 154.4 310.5)" fill="#e6bce2"/>
<ellipse cx="153.7" cy="350.0" rx="4.5" ry="2.7" transform="rotate(45 153.7 350.0)" fill="#c056bb" stroke="#a63ea2" stroke-width="0.9"/>
<ellipse cx="153.7" cy="350.0" rx="2.8" ry="0.42" transform="rotate(45 153.7 350.0)" fill="#e6bce2"/>
<ellipse cx="139.3" cy="329.2" rx="3.4" ry="2.3" transform="rotate(161 139.3 329.2)" fill="#c056bb" stroke="#a63ea2" stroke-width="0.9"/>
<ellipse cx="181.3" cy="354.5" rx="3.1" ry="2.5" transform="rotate(105 181.3 354.5)" fill="#c460be" stroke="#a63ea2" stroke-width="0.9"/>
<ellipse cx="181.3" cy="354.5" rx="1.9" ry="0.40" transform="rotate(105 181.3 354.5)" fill="#e6bce2"/>
<ellipse cx="181.9" cy="313.6" rx="3.8" ry="2.2" transform="rotate(134 181.9 313.6)" fill="#c056bb" stroke="#a63ea2" stroke-width="0.9"/>
<ellipse cx="181.9" cy="313.6" rx="2.4" ry="0.34" transform="rotate(134 181.9 313.6)" fill="#e6bce2"/>
<ellipse cx="117.1" cy="300.8" rx="5.2" ry="4.4" transform="rotate(121 117.1 300.8)" fill="#c056bb" stroke="#a63ea2" stroke-width="0.9"/>
<ellipse cx="117.1" cy="300.8" rx="3.3" ry="0.70" transform="rotate(121 117.1 300.8)" fill="#e6bce2"/>
<ellipse cx="172.8" cy="299.4" rx="4.6" ry="2.6" transform="rotate(112 172.8 299.4)" fill="#c056bb" stroke="#a63ea2" stroke-width="0.9"/>
<ellipse cx="172.8" cy="299.4" rx="2.8" ry="0.41" transform="rotate(112 172.8 299.4)" fill="#e6bce2"/>
<ellipse cx="150.2" cy="306.4" rx="4.5" ry="3.3" transform="rotate(85 150.2 306.4)" fill="#c056bb" stroke="#a63ea2" stroke-width="0.9"/>
<ellipse cx="150.2" cy="306.4" rx="2.8" ry="0.53" transform="rotate(85 150.2 306.4)" fill="#e6bce2"/>
<ellipse cx="123.5" cy="337.8" rx="3.0" ry="2.2" transform="rotate(19 123.5 337.8)" fill="#c056bb" stroke="#a63ea2" stroke-width="0.9"/>
<ellipse cx="123.5" cy="337.8" rx="1.9" ry="0.35" transform="rotate(19 123.5 337.8)" fill="#e6bce2"/>
<ellipse cx="193.3" cy="321.2" rx="4.9" ry="3.5" transform="rotate(91 193.3 321.2)" fill="#c056bb" stroke="#a63ea2" stroke-width="0.9"/>
<ellipse cx="129.6" cy="351.3" rx="4.9" ry="3.0" transform="rotate(122 129.6 351.3)" fill="#c056bb" stroke="#a63ea2" stroke-width="0.9"/>
<ellipse cx="128.2" cy="299.0" rx="4.1" ry="2.5" transform="rotate(106 128.2 299.0)" fill="#c056bb" stroke="#a63ea2" stroke-width="0.9"/>
<ellipse cx="128.2" cy="299.0" rx="2.5" ry="0.39" transform="rotate(106 128.2 299.0)" fill="#e6bce2"/>
<ellipse cx="138.8" cy="297.7" rx="3.3" ry="2.0" transform="rotate(33 138.8 297.7)" fill="#c056bb" stroke="#a63ea2" stroke-width="0.9"/>
<ellipse cx="138.8" cy="297.7" rx="2.1" ry="0.33" transform="rotate(33 138.8 297.7)" fill="#e6bce2"/>
<ellipse cx="190.9" cy="328.7" rx="3.8" ry="1.8" transform="rotate(13 190.9 328.7)" fill="#c056bb" stroke="#a63ea2" stroke-width="0.9"/>
<ellipse cx="190.9" cy="328.7" rx="2.3" ry="0.30" transform="rotate(13 190.9 328.7)" fill="#e6bce2"/>
<ellipse cx="141.7" cy="325.3" rx="4.7" ry="4.0" transform="rotate(60 141.7 325.3)" fill="#c056bb" stroke="#a63ea2" stroke-width="0.9"/>
<ellipse cx="145.4" cy="311.9" rx="3.6" ry="2.9" transform="rotate(76 145.4 311.9)" fill="#c056bb" stroke="#a63ea2" stroke-width="0.9"/>
<ellipse cx="145.4" cy="311.9" rx="2.2" ry="0.47" transform="rotate(76 145.4 311.9)" fill="#e6bce2"/>
<ellipse cx="146.2" cy="356.4" rx="5.1" ry="2.9" transform="rotate(26 146.2 356.4)" fill="#c056bb" stroke="#a63ea2" stroke-width="0.9"/>
<ellipse cx="146.2" cy="356.4" rx="3.1" ry="0.47" transform="rotate(26 146.2 356.4)" fill="#e6bce2"/>
<ellipse cx="146.4" cy="351.4" rx="3.2" ry="2.5" transform="rotate(29 146.4 351.4)" fill="#c056bb" stroke="#a63ea2" stroke-width="0.9"/>
<ellipse cx="146.4" cy="351.4" rx="2.0" ry="0.40" transform="rotate(29 146.4 351.4)" fill="#e6bce2"/>
<ellipse cx="169.4" cy="317.0" rx="3.6" ry="2.8" transform="rotate(26 169.4 317.0)" fill="#c056bb" stroke="#a63ea2" stroke-width="0.9"/>
<ellipse cx="144.5" cy="346.7" rx="4.7" ry="3.1" transform="rotate(30 144.5 346.7)" fill="#c056bb" stroke="#a63ea2" stroke-width="0.9"/>
<ellipse cx="144.5" cy="346.7" rx="2.9" ry="0.49" transform="rotate(30 144.5 346.7)" fill="#e6bce2"/>
<ellipse cx="190.3" cy="341.1" rx="4.2" ry="2.8" transform="rotate(115 190.3 341.1)" fill="#c056bb" stroke="#a63ea2" stroke-width="0.9"/>
<ellipse cx="190.3" cy="341.1" rx="2.6" ry="0.45" transform="rotate(115 190.3 341.1)" fill="#e6bce2"/>
<ellipse cx="136.6" cy="269.6" rx="3.9" ry="2.2" transform="rotate(117 136.6 269.6)" fill="#cc70c6" stroke="#a63ea2" stroke-width="0.9"/>
<ellipse cx="175.4" cy="351.8" rx="5.5" ry="3.8" transform="rotate(105 175.4 351.8)" fill="#c056bb" stroke="#a63ea2" stroke-width="0.9"/>
<ellipse cx="175.4" cy="351.8" rx="3.4" ry="0.61" transform="rotate(105 175.4 351.8)" fill="#e6bce2"/>
<ellipse cx="140.6" cy="341.5" rx="4.4" ry="2.5" transform="rotate(115 140.6 341.5)" fill="#c056bb" stroke="#a63ea2" stroke-width="0.9"/>
<ellipse cx="140.6" cy="341.5" rx="2.7" ry="0.40" transform="rotate(115 140.6 341.5)" fill="#e6bce2"/>
<ellipse cx="159.7" cy="290.4" rx="3.6" ry="3.0" transform="rotate(63 159.7 290.4)" fill="#c056bb" stroke="#a63ea2" stroke-width="0.9"/>
<ellipse cx="159.7" cy="290.4" rx="2.2" ry="0.49" transform="rotate(63 159.7 290.4)" fill="#e6bce2"/>
<ellipse cx="167.6" cy="308.2" rx="3.4" ry="1.8" transform="rotate(158 167.6 308.2)" fill="#c056bb" stroke="#a63ea2" stroke-width="0.9"/>
<ellipse cx="167.6" cy="308.2" rx="2.1" ry="0.30" transform="rotate(158 167.6 308.2)" fill="#e6bce2"/>
<ellipse cx="133.4" cy="332.1" rx="5.0" ry="3.9" transform="rotate(11 133.4 332.1)" fill="#c056bb" stroke="#a63ea2" stroke-width="0.9"/>
<ellipse cx="133.4" cy="332.1" rx="3.1" ry="0.62" transform="rotate(11 133.4 332.1)" fill="#e6bce2"/>
<ellipse cx="164.8" cy="342.2" rx="5.5" ry="2.9" transform="rotate(162 164.8 342.2)" fill="#c056bb" stroke="#a63ea2" stroke-width="0.9"/>
<ellipse cx="164.8" cy="342.2" rx="3.4" ry="0.46" transform="rotate(162 164.8 342.2)" fill="#e6bce2"/>
<ellipse cx="114.5" cy="327.9" rx="4.9" ry="3.0" transform="rotate(66 114.5 327.9)" fill="#c056bb" stroke="#a63ea2" stroke-width="0.9"/>
<ellipse cx="114.5" cy="327.9" rx="3.1" ry="0.48" transform="rotate(66 114.5 327.9)" fill="#e6bce2"/>
<ellipse cx="108.2" cy="271.5" rx="3.8" ry="1.9" transform="rotate(89 108.2 271.5)" fill="#cc70c6" stroke="#a63ea2" stroke-width="0.9"/>
<ellipse cx="108.2" cy="271.5" rx="2.4" ry="0.30" transform="rotate(89 108.2 271.5)" fill="#e6bce2"/>
<ellipse cx="167.4" cy="361.9" rx="4.0" ry="2.2" transform="rotate(150 167.4 361.9)" fill="#c460be" stroke="#a63ea2" stroke-width="0.9"/>
<ellipse cx="167.4" cy="361.9" rx="2.5" ry="0.36" transform="rotate(150 167.4 361.9)" fill="#e6bce2"/>
<ellipse cx="199.3" cy="344.9" rx="3.9" ry="2.2" transform="rotate(153 199.3 344.9)" fill="#c460be" stroke="#a63ea2" stroke-width="0.9"/>
<ellipse cx="199.3" cy="344.9" rx="2.4" ry="0.35" transform="rotate(153 199.3 344.9)" fill="#e6bce2"/>
<ellipse cx="141.6" cy="304.9" rx="4.3" ry="3.2" transform="rotate(1 141.6 304.9)" fill="#c056bb" stroke="#a63ea2" stroke-width="0.9"/>
<ellipse cx="141.6" cy="304.9" rx="2.7" ry="0.52" transform="rotate(1 141.6 304.9)" fill="#e6bce2"/>
<ellipse cx="163.1" cy="349.4" rx="4.8" ry="2.9" transform="rotate(141 163.1 349.4)" fill="#c056bb" stroke="#a63ea2" stroke-width="0.9"/>
<ellipse cx="163.1" cy="349.4" rx="3.0" ry="0.46" transform="rotate(141 163.1 349.4)" fill="#e6bce2"/>
<ellipse cx="145.3" cy="328.2" rx="4.0" ry="3.2" transform="rotate(43 145.3 328.2)" fill="#c056bb" stroke="#a63ea2" stroke-width="0.9"/>
<ellipse cx="145.3" cy="328.2" rx="2.5" ry="0.51" transform="rotate(43 145.3 328.2)" fill="#e6bce2"/>
<ellipse cx="119.1" cy="346.4" rx="3.9" ry="2.2" transform="rotate(131 119.1 346.4)" fill="#c056bb" stroke="#a63ea2" stroke-width="0.9"/>
<ellipse cx="119.1" cy="346.4" rx="2.4" ry="0.36" transform="rotate(131 119.1 346.4)" fill="#e6bce2"/>
<ellipse cx="188.6" cy="337.0" rx="3.7" ry="3.1" transform="rotate(80 188.6 337.0)" fill="#c056bb" stroke="#a63ea2" stroke-width="0.9"/>
<ellipse cx="188.6" cy="337.0" rx="2.3" ry="0.50" transform="rotate(80 188.6 337.0)" fill="#e6bce2"/>
<ellipse cx="146.2" cy="320.5" rx="4.1" ry="2.7" transform="rotate(105 146.2 320.5)" fill="#c056bb" stroke="#a63ea2" stroke-width="0.9"/>
<ellipse cx="146.2" cy="320.5" rx="2.5" ry="0.43" transform="rotate(105 146.2 320.5)" fill="#e6bce2"/>
<ellipse cx="147.4" cy="339.3" rx="5.5" ry="3.6" transform="rotate(132 147.4 339.3)" fill="#c056bb" stroke="#a63ea2" stroke-width="0.9"/>
<ellipse cx="98.5" cy="320.8" rx="3.7" ry="2.1" transform="rotate(135 98.5 320.8)" fill="#c460be" stroke="#a63ea2" stroke-width="0.9"/>
<ellipse cx="98.5" cy="320.8" rx="2.3" ry="0.34" transform="rotate(135 98.5 320.8)" fill="#e6bce2"/>
<ellipse cx="198.3" cy="322.7" rx="4.8" ry="2.7" transform="rotate(37 198.3 322.7)" fill="#c056bb" stroke="#a63ea2" stroke-width="0.9"/>
<ellipse cx="194.9" cy="315.3" rx="5.1" ry="3.5" transform="rotate(128 194.9 315.3)" fill="#c056bb" stroke="#a63ea2" stroke-width="0.9"/>
<ellipse cx="194.9" cy="315.3" rx="3.2" ry="0.56" transform="rotate(128 194.9 315.3)" fill="#e6bce2"/>
<ellipse cx="153.6" cy="331.8" rx="5.4" ry="4.3" transform="rotate(27 153.6 331.8)" fill="#c056bb" stroke="#a63ea2" stroke-width="0.9"/>
<ellipse cx="153.6" cy="331.8" rx="3.3" ry="0.68" transform="rotate(27 153.6 331.8)" fill="#e6bce2"/>
<ellipse cx="129.0" cy="341.6" rx="4.5" ry="3.7" transform="rotate(153 129.0 341.6)" fill="#c056bb" stroke="#a63ea2" stroke-width="0.9"/>
<ellipse cx="129.0" cy="341.6" rx="2.8" ry="0.59" transform="rotate(153 129.0 341.6)" fill="#e6bce2"/>
<ellipse cx="141.9" cy="300.3" rx="3.7" ry="2.2" transform="rotate(35 141.9 300.3)" fill="#c056bb" stroke="#a63ea2" stroke-width="0.9"/>
<ellipse cx="141.9" cy="300.3" rx="2.3" ry="0.36" transform="rotate(35 141.9 300.3)" fill="#e6bce2"/>
<ellipse cx="101.2" cy="342.4" rx="4.2" ry="3.6" transform="rotate(158 101.2 342.4)" fill="#c460be" stroke="#a63ea2" stroke-width="0.9"/>
<ellipse cx="101.2" cy="342.4" rx="2.6" ry="0.57" transform="rotate(158 101.2 342.4)" fill="#e6bce2"/>
<ellipse cx="181.6" cy="322.4" rx="4.2" ry="2.7" transform="rotate(169 181.6 322.4)" fill="#c056bb" stroke="#a63ea2" stroke-width="0.9"/>
<ellipse cx="139.0" cy="318.9" rx="5.6" ry="4.1" transform="rotate(151 139.0 318.9)" fill="#c056bb" stroke="#a63ea2" stroke-width="0.9"/>
<ellipse cx="200.2" cy="357.6" rx="4.2" ry="2.3" transform="rotate(174 200.2 357.6)" fill="#c460be" stroke="#a63ea2" stroke-width="0.9"/>
<ellipse cx="200.2" cy="357.6" rx="2.6" ry="0.37" transform="rotate(174 200.2 357.6)" fill="#e6bce2"/>
<ellipse cx="158.4" cy="353.4" rx="5.3" ry="4.3" transform="rotate(164 158.4 353.4)" fill="#c056bb" stroke="#a63ea2" stroke-width="0.9"/>
<ellipse cx="172.1" cy="308.8" rx="4.7" ry="3.9" transform="rotate(58 172.1 308.8)" fill="#c056bb" stroke="#a63ea2" stroke-width="0.9"/>
<ellipse cx="172.1" cy="308.8" rx="2.9" ry="0.63" transform="rotate(58 172.1 308.8)" fill="#e6bce2"/>
<ellipse cx="113.1" cy="314.5" rx="5.5" ry="3.9" transform="rotate(26 113.1 314.5)" fill="#c056bb" stroke="#a63ea2" stroke-width="0.9"/>
<ellipse cx="113.1" cy="314.5" rx="3.4" ry="0.63" transform="rotate(26 113.1 314.5)" fill="#e6bce2"/>
<ellipse cx="155.9" cy="345.9" rx="3.4" ry="2.5" transform="rotate(143 155.9 345.9)" fill="#c056bb" stroke="#a63ea2" stroke-width="0.9"/>
<ellipse cx="155.9" cy="345.9" rx="2.1" ry="0.40" transform="rotate(143 155.9 345.9)" fill="#e6bce2"/>
<ellipse cx="145.0" cy="293.6" rx="3.7" ry="2.1" transform="rotate(22 145.0 293.6)" fill="#c056bb" stroke="#a63ea2" stroke-width="0.9"/>
<ellipse cx="145.0" cy="293.6" rx="2.3" ry="0.34" transform="rotate(22 145.0 293.6)" fill="#e6bce2"/>
<ellipse cx="117.7" cy="306.3" rx="4.3" ry="3.0" transform="rotate(0 117.7 306.3)" fill="#c056bb" stroke="#a63ea2" stroke-width="0.9"/>
<ellipse cx="117.7" cy="306.3" rx="2.6" ry="0.48" transform="rotate(0 117.7 306.3)" fill="#e6bce2"/>
<ellipse cx="110.7" cy="321.3" rx="5.5" ry="4.0" transform="rotate(167 110.7 321.3)" fill="#c056bb" stroke="#a63ea2" stroke-width="0.9"/>
<ellipse cx="110.7" cy="321.3" rx="3.4" ry="0.65" transform="rotate(167 110.7 321.3)" fill="#e6bce2"/>
<ellipse cx="144.3" cy="334.3" rx="4.7" ry="2.4" transform="rotate(173 144.3 334.3)" fill="#c056bb" stroke="#a63ea2" stroke-width="0.9"/>
<ellipse cx="144.3" cy="334.3" rx="2.9" ry="0.39" transform="rotate(173 144.3 334.3)" fill="#e6bce2"/>
<ellipse cx="111.5" cy="360.8" rx="3.8" ry="1.8" transform="rotate(143 111.5 360.8)" fill="#c460be" stroke="#a63ea2" stroke-width="0.9"/>
<ellipse cx="111.5" cy="360.8" rx="2.4" ry="0.30" transform="rotate(143 111.5 360.8)" fill="#e6bce2"/>
<ellipse cx="107.3" cy="316.5" rx="4.1" ry="2.5" transform="rotate(162 107.3 316.5)" fill="#c056bb" stroke="#a63ea2" stroke-width="0.9"/>
<ellipse cx="107.3" cy="316.5" rx="2.5" ry="0.40" transform="rotate(162 107.3 316.5)" fill="#e6bce2"/>
<ellipse cx="121.7" cy="300.4" rx="3.5" ry="2.0" transform="rotate(89 121.7 300.4)" fill="#c056bb" stroke="#a63ea2" stroke-width="0.9"/>
<ellipse cx="121.7" cy="300.4" rx="2.1" ry="0.33" transform="rotate(89 121.7 300.4)" fill="#e6bce2"/>
<ellipse cx="174.5" cy="315.2" rx="5.0" ry="3.1" transform="rotate(180 174.5 315.2)" fill="#c056bb" stroke="#a63ea2" stroke-width="0.9"/>
<ellipse cx="138.8" cy="335.6" rx="4.3" ry="2.9" transform="rotate(159 138.8 335.6)" fill="#c056bb" stroke="#a63ea2" stroke-width="0.9"/>
<ellipse cx="138.8" cy="335.6" rx="2.7" ry="0.47" transform="rotate(159 138.8 335.6)" fill="#e6bce2"/>
<ellipse cx="162.8" cy="322.2" rx="3.8" ry="1.9" transform="rotate(124 162.8 322.2)" fill="#c056bb" stroke="#a63ea2" stroke-width="0.9"/>
<ellipse cx="162.8" cy="322.2" rx="2.4" ry="0.30" transform="rotate(124 162.8 322.2)" fill="#e6bce2"/>
<ellipse cx="155.4" cy="301.0" rx="3.3" ry="1.9" transform="rotate(133 155.4 301.0)" fill="#c056bb" stroke="#a63ea2" stroke-width="0.9"/>
<ellipse cx="155.4" cy="301.0" rx="2.1" ry="0.31" transform="rotate(133 155.4 301.0)" fill="#e6bce2"/>
<ellipse cx="119.1" cy="332.7" rx="3.6" ry="2.0" transform="rotate(143 119.1 332.7)" fill="#c056bb" stroke="#a63ea2" stroke-width="0.9"/>
<ellipse cx="132.5" cy="304.9" rx="4.9" ry="3.3" transform="rotate(83 132.5 304.9)" fill="#c056bb" stroke="#a63ea2" stroke-width="0.9"/>
<ellipse cx="132.5" cy="304.9" rx="3.0" ry="0.53" transform="rotate(83 132.5 304.9)" fill="#e6bce2"/>
<ellipse cx="182.2" cy="348.1" rx="3.6" ry="2.1" transform="rotate(4 182.2 348.1)" fill="#c056bb" stroke="#a63ea2" stroke-width="0.9"/>
<ellipse cx="182.2" cy="348.1" rx="2.2" ry="0.33" transform="rotate(4 182.2 348.1)" fill="#e6bce2"/>
<ellipse cx="129.3" cy="312.8" rx="3.1" ry="2.0" transform="rotate(113 129.3 312.8)" fill="#c056bb" stroke="#a63ea2" stroke-width="0.9"/>
<ellipse cx="129.3" cy="312.8" rx="2.0" ry="0.32" transform="rotate(113 129.3 312.8)" fill="#e6bce2"/>
<ellipse cx="190.2" cy="312.6" rx="5.1" ry="2.6" transform="rotate(83 190.2 312.6)" fill="#c056bb" stroke="#a63ea2" stroke-width="0.9"/>
<ellipse cx="113.5" cy="305.2" rx="3.7" ry="2.3" transform="rotate(153 113.5 305.2)" fill="#c056bb" stroke="#a63ea2" stroke-width="0.9"/>
<ellipse cx="113.5" cy="305.2" rx="2.3" ry="0.37" transform="rotate(153 113.5 305.2)" fill="#e6bce2"/>
<ellipse cx="179.1" cy="331.8" rx="3.2" ry="1.7" transform="rotate(63 179.1 331.8)" fill="#c056bb" stroke="#a63ea2" stroke-width="0.9"/>
<ellipse cx="179.1" cy="331.8" rx="2.0" ry="0.30" transform="rotate(63 179.1 331.8)" fill="#e6bce2"/>
<ellipse cx="187.8" cy="301.3" rx="4.5" ry="3.8" transform="rotate(115 187.8 301.3)" fill="#c056bb" stroke="#a63ea2" stroke-width="0.9"/>
<ellipse cx="187.8" cy="301.3" rx="2.8" ry="0.61" transform="rotate(115 187.8 301.3)" fill="#e6bce2"/>
<ellipse cx="177.2" cy="347.5" rx="3.4" ry="2.0" transform="rotate(57 177.2 347.5)" fill="#c056bb" stroke="#a63ea2" stroke-width="0.9"/>
<ellipse cx="177.2" cy="347.5" rx="2.1" ry="0.31" transform="rotate(57 177.2 347.5)" fill="#e6bce2"/>
<ellipse cx="121.7" cy="312.1" rx="3.7" ry="1.9" transform="rotate(159 121.7 312.1)" fill="#c056bb" stroke="#a63ea2" stroke-width="0.9"/>
<ellipse cx="121.7" cy="312.1" rx="2.3" ry="0.30" transform="rotate(159 121.7 312.1)" fill="#e6bce2"/>
<ellipse cx="183.9" cy="304.7" rx="5.5" ry="3.3" transform="rotate(149 183.9 304.7)" fill="#c056bb" stroke="#a63ea2" stroke-width="0.9"/>
<ellipse cx="183.9" cy="304.7" rx="3.4" ry="0.53" transform="rotate(149 183.9 304.7)" fill="#e6bce2"/>
<ellipse cx="183.3" cy="336.5" rx="3.4" ry="1.7" transform="rotate(160 183.3 336.5)" fill="#c056bb" stroke="#a63ea2" stroke-width="0.9"/>
<ellipse cx="183.3" cy="336.5" rx="2.1" ry="0.30" transform="rotate(160 183.3 336.5)" fill="#e6bce2"/>
<ellipse cx="170.4" cy="312.5" rx="3.0" ry="1.9" transform="rotate(123 170.4 312.5)" fill="#c056bb" stroke="#a63ea2" stroke-width="0.9"/>
<ellipse cx="170.4" cy="312.5" rx="1.9" ry="0.30" transform="rotate(123 170.4 312.5)" fill="#e6bce2"/>
<ellipse cx="115.2" cy="344.6" rx="4.2" ry="2.1" transform="rotate(125 115.2 344.6)" fill="#c056bb" stroke="#a63ea2" stroke-width="0.9"/>
<ellipse cx="115.2" cy="344.6" rx="2.6" ry="0.33" transform="rotate(125 115.2 344.6)" fill="#e6bce2"/>
<ellipse cx="134.8" cy="346.7" rx="4.8" ry="2.2" transform="rotate(127 134.8 346.7)" fill="#c056bb" stroke="#a63ea2" stroke-width="0.9"/>
<ellipse cx="178.0" cy="304.5" rx="4.0" ry="1.9" transform="rotate(71 178.0 304.5)" fill="#c056bb" stroke="#a63ea2" stroke-width="0.9"/>
<ellipse cx="178.0" cy="304.5" rx="2.5" ry="0.30" transform="rotate(71 178.0 304.5)" fill="#e6bce2"/>
<ellipse cx="123.1" cy="330.6" rx="4.4" ry="3.5" transform="rotate(126 123.1 330.6)" fill="#c056bb" stroke="#a63ea2" stroke-width="0.9"/>
<ellipse cx="123.1" cy="330.6" rx="2.7" ry="0.57" transform="rotate(126 123.1 330.6)" fill="#e6bce2"/>
<ellipse cx="113.0" cy="332.9" rx="4.9" ry="2.5" transform="rotate(17 113.0 332.9)" fill="#c056bb" stroke="#a63ea2" stroke-width="0.9"/>
<ellipse cx="113.0" cy="332.9" rx="3.0" ry="0.39" transform="rotate(17 113.0 332.9)" fill="#e6bce2"/>
<ellipse cx="171.7" cy="340.2" rx="5.2" ry="4.1" transform="rotate(121 171.7 340.2)" fill="#c056bb" stroke="#a63ea2" stroke-width="0.9"/>
<ellipse cx="171.7" cy="340.2" rx="3.2" ry="0.65" transform="rotate(121 171.7 340.2)" fill="#e6bce2"/>
<ellipse cx="127.2" cy="306.3" rx="4.6" ry="2.9" transform="rotate(69 127.2 306.3)" fill="#c056bb" stroke="#a63ea2" stroke-width="0.9"/>
<ellipse cx="148.9" cy="298.9" rx="3.1" ry="1.4" transform="rotate(52 148.9 298.9)" fill="#c056bb" stroke="#a63ea2" stroke-width="0.9"/>
<ellipse cx="148.9" cy="298.9" rx="1.9" ry="0.30" transform="rotate(52 148.9 298.9)" fill="#e6bce2"/>
<ellipse cx="149.9" cy="317.5" rx="3.1" ry="1.7" transform="rotate(114 149.9 317.5)" fill="#c056bb" stroke="#a63ea2" stroke-width="0.9"/>
<ellipse cx="149.9" cy="317.5" rx="1.9" ry="0.30" transform="rotate(114 149.9 317.5)" fill="#e6bce2"/>
<ellipse cx="106.3" cy="324.7" rx="4.4" ry="3.2" transform="rotate(117 106.3 324.7)" fill="#c056bb" stroke="#a63ea2" stroke-width="0.9"/>
<ellipse cx="106.3" cy="324.7" rx="2.7" ry="0.51" transform="rotate(117 106.3 324.7)" fill="#e6bce2"/>
<ellipse cx="185.5" cy="314.4" rx="3.5" ry="1.9" transform="rotate(102 185.5 314.4)" fill="#c056bb" stroke="#a63ea2" stroke-width="0.9"/>
<ellipse cx="185.5" cy="314.4" rx="2.2" ry="0.30" transform="rotate(102 185.5 314.4)" fill="#e6bce2"/>
<ellipse cx="130.7" cy="293.1" rx="3.7" ry="3.1" transform="rotate(30 130.7 293.1)" fill="#c056bb" stroke="#a63ea2" stroke-width="0.9"/>
<ellipse cx="130.7" cy="293.1" rx="2.3" ry="0.49" transform="rotate(30 130.7 293.1)" fill="#e6bce2"/>
<ellipse cx="165.0" cy="336.2" rx="3.2" ry="2.0" transform="rotate(164 165.0 336.2)" fill="#c056bb" stroke="#a63ea2" stroke-width="0.9"/>
<ellipse cx="165.0" cy="336.2" rx="2.0" ry="0.32" transform="rotate(164 165.0 336.2)" fill="#e6bce2"/>
<ellipse cx="101.7" cy="302.4" rx="3.2" ry="2.6" transform="rotate(66 101.7 302.4)" fill="#c460be" stroke="#a63ea2" stroke-width="0.9"/>
<ellipse cx="101.7" cy="302.4" rx="2.0" ry="0.41" transform="rotate(66 101.7 302.4)" fill="#e6bce2"/>
<ellipse cx="138.8" cy="291.7" rx="3.6" ry="1.6" transform="rotate(174 138.8 291.7)" fill="#c056bb" stroke="#a63ea2" stroke-width="0.9"/>
<ellipse cx="138.8" cy="291.7" rx="2.2" ry="0.30" transform="rotate(174 138.8 291.7)" fill="#e6bce2"/>
<ellipse cx="194.9" cy="334.1" rx="5.0" ry="2.5" transform="rotate(40 194.9 334.1)" fill="#c056bb" stroke="#a63ea2" stroke-width="0.9"/>
<ellipse cx="194.9" cy="334.1" rx="3.1" ry="0.40" transform="rotate(40 194.9 334.1)" fill="#e6bce2"/>
<ellipse cx="130.1" cy="309.4" rx="3.4" ry="2.7" transform="rotate(145 130.1 309.4)" fill="#c056bb" stroke="#a63ea2" stroke-width="0.9"/>
<ellipse cx="130.1" cy="309.4" rx="2.1" ry="0.43" transform="rotate(145 130.1 309.4)" fill="#e6bce2"/>
<ellipse cx="136.2" cy="342.2" rx="4.2" ry="2.9" transform="rotate(164 136.2 342.2)" fill="#c056bb" stroke="#a63ea2" stroke-width="0.9"/>
<ellipse cx="136.2" cy="342.2" rx="2.6" ry="0.46" transform="rotate(164 136.2 342.2)" fill="#e6bce2"/>
<ellipse cx="135.6" cy="309.2" rx="4.5" ry="2.7" transform="rotate(60 135.6 309.2)" fill="#c056bb" stroke="#a63ea2" stroke-width="0.9"/>
<ellipse cx="135.6" cy="309.2" rx="2.8" ry="0.43" transform="rotate(60 135.6 309.2)" fill="#e6bce2"/>
<ellipse cx="161.3" cy="333.7" rx="4.6" ry="2.1" transform="rotate(57 161.3 333.7)" fill="#c056bb" stroke="#a63ea2" stroke-width="0.9"/>
<ellipse cx="161.3" cy="333.7" rx="2.9" ry="0.34" transform="rotate(57 161.3 333.7)" fill="#e6bce2"/>
<ellipse cx="158.1" cy="342.0" rx="4.9" ry="3.5" transform="rotate(132 158.1 342.0)" fill="#c056bb" stroke="#a63ea2" stroke-width="0.9"/>
<ellipse cx="180.6" cy="301.0" rx="3.9" ry="3.2" transform="rotate(2 180.6 301.0)" fill="#c056bb" stroke="#a63ea2" stroke-width="0.9"/>
<ellipse cx="180.6" cy="301.0" rx="2.4" ry="0.52" transform="rotate(2 180.6 301.0)" fill="#e6bce2"/>
<ellipse cx="148.1" cy="324.9" rx="3.6" ry="1.7" transform="rotate(170 148.1 324.9)" fill="#c056bb" stroke="#a63ea2" stroke-width="0.9"/>
<ellipse cx="148.1" cy="324.9" rx="2.3" ry="0.30" transform="rotate(170 148.1 324.9)" fill="#e6bce2"/>
<ellipse cx="148.9" cy="330.4" rx="3.6" ry="2.8" transform="rotate(89 148.9 330.4)" fill="#c056bb" stroke="#a63ea2" stroke-width="0.9"/>
<ellipse cx="148.9" cy="330.4" rx="2.3" ry="0.45" transform="rotate(89 148.9 330.4)" fill="#e6bce2"/>
<ellipse cx="149.0" cy="302.5" rx="3.1" ry="1.6" transform="rotate(23 149.0 302.5)" fill="#c056bb" stroke="#a63ea2" stroke-width="0.9"/>
<ellipse cx="121.1" cy="308.3" rx="3.5" ry="2.7" transform="rotate(106 121.1 308.3)" fill="#c056bb" stroke="#a63ea2" stroke-width="0.9"/>
<ellipse cx="159.1" cy="328.3" rx="4.5" ry="2.8" transform="rotate(98 159.1 328.3)" fill="#c056bb" stroke="#a63ea2" stroke-width="0.9"/>
<ellipse cx="159.1" cy="328.3" rx="2.8" ry="0.45" transform="rotate(98 159.1 328.3)" fill="#e6bce2"/>
<ellipse cx="140.2" cy="350.5" rx="4.3" ry="2.9" transform="rotate(168 140.2 350.5)" fill="#c056bb" stroke="#a63ea2" stroke-width="0.9"/>
<ellipse cx="140.2" cy="350.5" rx="2.6" ry="0.46" transform="rotate(168 140.2 350.5)" fill="#e6bce2"/>
<ellipse cx="133.5" cy="296.3" rx="4.4" ry="2.4" transform="rotate(157 133.5 296.3)" fill="#c056bb" stroke="#a63ea2" stroke-width="0.9"/>
<ellipse cx="133.5" cy="296.3" rx="2.7" ry="0.39" transform="rotate(157 133.5 296.3)" fill="#e6bce2"/>
<ellipse cx="130.7" cy="337.3" rx="3.8" ry="2.7" transform="rotate(6 130.7 337.3)" fill="#c056bb" stroke="#a63ea2" stroke-width="0.9"/>
<ellipse cx="130.7" cy="337.3" rx="2.3" ry="0.43" transform="rotate(6 130.7 337.3)" fill="#e6bce2"/>
<ellipse cx="177.4" cy="342.1" rx="3.3" ry="2.0" transform="rotate(62 177.4 342.1)" fill="#c056bb" stroke="#a63ea2" stroke-width="0.9"/>
<ellipse cx="177.4" cy="342.1" rx="2.1" ry="0.32" transform="rotate(62 177.4 342.1)" fill="#e6bce2"/>
<ellipse cx="97.9" cy="332.1" rx="4.1" ry="2.8" transform="rotate(137 97.9 332.1)" fill="#c460be" stroke="#a63ea2" stroke-width="0.9"/>
<ellipse cx="97.9" cy="332.1" rx="2.6" ry="0.45" transform="rotate(137 97.9 332.1)" fill="#e6bce2"/>
<ellipse cx="129.2" cy="318.6" rx="3.5" ry="2.1" transform="rotate(125 129.2 318.6)" fill="#c056bb" stroke="#a63ea2" stroke-width="0.9"/>
<ellipse cx="109.4" cy="337.7" rx="4.8" ry="3.9" transform="rotate(36 109.4 337.7)" fill="#c056bb" stroke="#a63ea2" stroke-width="0.9"/>
<ellipse cx="109.4" cy="337.7" rx="3.0" ry="0.62" transform="rotate(36 109.4 337.7)" fill="#e6bce2"/>
<ellipse cx="156.0" cy="304.7" rx="3.7" ry="1.7" transform="rotate(60 156.0 304.7)" fill="#c056bb" stroke="#a63ea2" stroke-width="0.9"/>
<ellipse cx="120.8" cy="318.4" rx="3.1" ry="1.6" transform="rotate(82 120.8 318.4)" fill="#c056bb" stroke="#a63ea2" stroke-width="0.9"/>
<ellipse cx="120.8" cy="318.4" rx="1.9" ry="0.30" transform="rotate(82 120.8 318.4)" fill="#e6bce2"/>
<ellipse cx="131.0" cy="322.6" rx="3.0" ry="2.4" transform="rotate(45 131.0 322.6)" fill="#c056bb" stroke="#a63ea2" stroke-width="0.9"/>
<ellipse cx="131.0" cy="322.6" rx="1.9" ry="0.39" transform="rotate(45 131.0 322.6)" fill="#e6bce2"/>
<ellipse cx="117.9" cy="323.7" rx="3.8" ry="1.8" transform="rotate(4 117.9 323.7)" fill="#c056bb" stroke="#a63ea2" stroke-width="0.9"/>
<ellipse cx="148.3" cy="343.9" rx="3.5" ry="1.8" transform="rotate(76 148.3 343.9)" fill="#c056bb" stroke="#a63ea2" stroke-width="0.9"/>
<ellipse cx="148.3" cy="343.9" rx="2.2" ry="0.30" transform="rotate(76 148.3 343.9)" fill="#e6bce2"/>
<ellipse cx="97.7" cy="308.8" rx="3.6" ry="2.7" transform="rotate(48 97.7 308.8)" fill="#c460be" stroke="#a63ea2" stroke-width="0.9"/>
<ellipse cx="97.7" cy="308.8" rx="2.2" ry="0.44" transform="rotate(48 97.7 308.8)" fill="#e6bce2"/>
<ellipse cx="185.3" cy="339.5" rx="3.3" ry="1.6" transform="rotate(123 185.3 339.5)" fill="#c056bb" stroke="#a63ea2" stroke-width="0.9"/>
<ellipse cx="185.3" cy="339.5" rx="2.0" ry="0.30" transform="rotate(123 185.3 339.5)" fill="#e6bce2"/>
<ellipse cx="111.6" cy="341.3" rx="3.6" ry="3.0" transform="rotate(126 111.6 341.3)" fill="#c056bb" stroke="#a63ea2" stroke-width="0.9"/>
<ellipse cx="111.6" cy="341.3" rx="2.2" ry="0.47" transform="rotate(126 111.6 341.3)" fill="#e6bce2"/>
<ellipse cx="124.6" cy="296.3" rx="3.6" ry="2.8" transform="rotate(45 124.6 296.3)" fill="#c056bb" stroke="#a63ea2" stroke-width="0.9"/>
<ellipse cx="124.6" cy="296.3" rx="2.2" ry="0.45" transform="rotate(45 124.6 296.3)" fill="#e6bce2"/>
<ellipse cx="163.1" cy="281.0" rx="3.1" ry="1.7" transform="rotate(122 163.1 281.0)" fill="#c460be" stroke="#a63ea2" stroke-width="0.9"/>
<ellipse cx="135.7" cy="326.6" rx="3.5" ry="2.6" transform="rotate(81 135.7 326.6)" fill="#c056bb" stroke="#a63ea2" stroke-width="0.9"/>
<ellipse cx="135.7" cy="326.6" rx="2.1" ry="0.41" transform="rotate(81 135.7 326.6)" fill="#e6bce2"/>
<ellipse cx="187.5" cy="325.9" rx="3.9" ry="1.8" transform="rotate(176 187.5 325.9)" fill="#c056bb" stroke="#a63ea2" stroke-width="0.9"/>
<ellipse cx="187.5" cy="325.9" rx="2.4" ry="0.30" transform="rotate(176 187.5 325.9)" fill="#e6bce2"/>
<ellipse cx="160.3" cy="298.0" rx="3.3" ry="1.7" transform="rotate(124 160.3 298.0)" fill="#c056bb" stroke="#a63ea2" stroke-width="0.9"/>
<ellipse cx="160.3" cy="298.0" rx="2.0" ry="0.30" transform="rotate(124 160.3 298.0)" fill="#e6bce2"/>
<ellipse cx="192.5" cy="308.1" rx="3.6" ry="2.4" transform="rotate(13 192.5 308.1)" fill="#c056bb" stroke="#a63ea2" stroke-width="0.9"/>
<ellipse cx="192.5" cy="308.1" rx="2.2" ry="0.39" transform="rotate(13 192.5 308.1)" fill="#e6bce2"/>
<ellipse cx="123.6" cy="320.9" rx="3.1" ry="2.1" transform="rotate(139 123.6 320.9)" fill="#c056bb" stroke="#a63ea2" stroke-width="0.9"/>
<ellipse cx="151.4" cy="337.0" rx="3.2" ry="1.8" transform="rotate(118 151.4 337.0)" fill="#c056bb" stroke="#a63ea2" stroke-width="0.9"/>
<ellipse cx="151.4" cy="337.0" rx="2.0" ry="0.30" transform="rotate(118 151.4 337.0)" fill="#e6bce2"/>
<ellipse cx="137.9" cy="313.3" rx="5.0" ry="3.4" transform="rotate(171 137.9 313.3)" fill="#c056bb" stroke="#a63ea2" stroke-width="0.9"/>
<ellipse cx="137.9" cy="313.3" rx="3.1" ry="0.54" transform="rotate(171 137.9 313.3)" fill="#e6bce2"/>
<ellipse cx="133.6" cy="315.6" rx="4.5" ry="3.3" transform="rotate(156 133.6 315.6)" fill="#c056bb" stroke="#a63ea2" stroke-width="0.9"/>
<ellipse cx="133.6" cy="315.6" rx="2.8" ry="0.53" transform="rotate(156 133.6 315.6)" fill="#e6bce2"/>
<ellipse cx="191.4" cy="304.0" rx="4.2" ry="2.1" transform="rotate(21 191.4 304.0)" fill="#c056bb" stroke="#a63ea2" stroke-width="0.9"/>
<ellipse cx="191.4" cy="304.0" rx="2.6" ry="0.34" transform="rotate(21 191.4 304.0)" fill="#e6bce2"/>
<ellipse cx="116.7" cy="320.0" rx="3.6" ry="2.7" transform="rotate(20 116.7 320.0)" fill="#c056bb" stroke="#a63ea2" stroke-width="0.9"/>
<ellipse cx="116.7" cy="320.0" rx="2.3" ry="0.44" transform="rotate(20 116.7 320.0)" fill="#e6bce2"/>
<ellipse cx="172.3" cy="345.9" rx="3.4" ry="1.6" transform="rotate(1 172.3 345.9)" fill="#c056bb" stroke="#a63ea2" stroke-width="0.9"/>
<ellipse cx="173.0" cy="324.9" rx="3.2" ry="2.1" transform="rotate(58 173.0 324.9)" fill="#c056bb" stroke="#a63ea2" stroke-width="0.9"/>
<ellipse cx="173.0" cy="324.9" rx="2.0" ry="0.34" transform="rotate(58 173.0 324.9)" fill="#e6bce2"/>
<ellipse cx="187.2" cy="332.0" rx="3.6" ry="2.1" transform="rotate(157 187.2 332.0)" fill="#c056bb" stroke="#a63ea2" stroke-width="0.9"/>
<ellipse cx="187.2" cy="332.0" rx="2.2" ry="0.34" transform="rotate(157 187.2 332.0)" fill="#e6bce2"/>
<ellipse cx="135.9" cy="351.7" rx="4.3" ry="2.0" transform="rotate(178 135.9 351.7)" fill="#c056bb" stroke="#a63ea2" stroke-width="0.9"/>
<ellipse cx="135.9" cy="351.7" rx="2.7" ry="0.32" transform="rotate(178 135.9 351.7)" fill="#e6bce2"/>
<ellipse cx="188.1" cy="345.3" rx="4.4" ry="2.3" transform="rotate(3 188.1 345.3)" fill="#c056bb" stroke="#a63ea2" stroke-width="0.9"/>
<ellipse cx="188.1" cy="345.3" rx="2.7" ry="0.37" transform="rotate(3 188.1 345.3)" fill="#e6bce2"/>
<ellipse cx="176.9" cy="327.6" rx="3.3" ry="2.8" transform="rotate(5 176.9 327.6)" fill="#c056bb" stroke="#a63ea2" stroke-width="0.9"/>
<ellipse cx="176.9" cy="327.6" rx="2.1" ry="0.45" transform="rotate(5 176.9 327.6)" fill="#e6bce2"/>
<ellipse cx="136.9" cy="302.0" rx="5.1" ry="3.7" transform="rotate(133 136.9 302.0)" fill="#c056bb" stroke="#a63ea2" stroke-width="0.9"/>
<ellipse cx="143.4" cy="290.3" rx="3.7" ry="3.1" transform="rotate(61 143.4 290.3)" fill="#c056bb" stroke="#a63ea2" stroke-width="0.9"/>
<ellipse cx="143.4" cy="290.3" rx="2.3" ry="0.50" transform="rotate(61 143.4 290.3)" fill="#e6bce2"/>
<ellipse cx="166.4" cy="313.5" rx="4.8" ry="3.4" transform="rotate(61 166.4 313.5)" fill="#c056bb" stroke="#a63ea2" stroke-width="0.9"/>
<ellipse cx="166.4" cy="313.5" rx="3.0" ry="0.54" transform="rotate(61 166.4 313.5)" fill="#e6bce2"/>
<ellipse cx="158.5" cy="348.3" rx="3.3" ry="2.5" transform="rotate(118 158.5 348.3)" fill="#c056bb" stroke="#a63ea2" stroke-width="0.9"/>
<ellipse cx="158.5" cy="348.3" rx="2.0" ry="0.41" transform="rotate(118 158.5 348.3)" fill="#e6bce2"/>
<ellipse cx="158.7" cy="301.5" rx="3.3" ry="1.7" transform="rotate(7 158.7 301.5)" fill="#c056bb" stroke="#a63ea2" stroke-width="0.9"/>
<ellipse cx="158.7" cy="301.5" rx="2.1" ry="0.30" transform="rotate(7 158.7 301.5)" fill="#e6bce2"/>
<ellipse cx="111.7" cy="309.3" rx="4.8" ry="2.3" transform="rotate(42 111.7 309.3)" fill="#c056bb" stroke="#a63ea2" stroke-width="0.9"/>
<ellipse cx="111.7" cy="309.3" rx="3.0" ry="0.37" transform="rotate(42 111.7 309.3)" fill="#e6bce2"/>
<ellipse cx="139.2" cy="345.6" rx="4.0" ry="2.3" transform="rotate(75 139.2 345.6)" fill="#c056bb" stroke="#a63ea2" stroke-width="0.9"/>
<ellipse cx="139.2" cy="345.6" rx="2.5" ry="0.36" transform="rotate(75 139.2 345.6)" fill="#e6bce2"/>
<ellipse cx="167.2" cy="355.1" rx="3.3" ry="2.3" transform="rotate(25 167.2 355.1)" fill="#c056bb" stroke="#a63ea2" stroke-width="0.9"/>
<ellipse cx="167.2" cy="355.1" rx="2.0" ry="0.37" transform="rotate(25 167.2 355.1)" fill="#e6bce2"/>
<ellipse cx="152.3" cy="322.5" rx="5.0" ry="2.8" transform="rotate(172 152.3 322.5)" fill="#c056bb" stroke="#a63ea2" stroke-width="0.9"/>
<ellipse cx="152.3" cy="322.5" rx="3.1" ry="0.45" transform="rotate(172 152.3 322.5)" fill="#e6bce2"/>
<ellipse cx="185.9" cy="318.1" rx="4.0" ry="2.5" transform="rotate(81 185.9 318.1)" fill="#c056bb" stroke="#a63ea2" stroke-width="0.9"/>
<ellipse cx="185.9" cy="318.1" rx="2.5" ry="0.40" transform="rotate(81 185.9 318.1)" fill="#e6bce2"/>
<ellipse cx="117.6" cy="337.0" rx="3.4" ry="1.8" transform="rotate(91 117.6 337.0)" fill="#c056bb" stroke="#a63ea2" stroke-width="0.9"/>
<ellipse cx="117.6" cy="337.0" rx="2.1" ry="0.30" transform="rotate(91 117.6 337.0)" fill="#e6bce2"/>
<ellipse cx="163.9" cy="300.3" rx="3.1" ry="2.1" transform="rotate(131 163.9 300.3)" fill="#c056bb" stroke="#a63ea2" stroke-width="0.9"/>
<ellipse cx="197.4" cy="327.4" rx="4.3" ry="2.2" transform="rotate(71 197.4 327.4)" fill="#c056bb" stroke="#a63ea2" stroke-width="0.9"/>
<ellipse cx="197.4" cy="327.4" rx="2.6" ry="0.35" transform="rotate(71 197.4 327.4)" fill="#e6bce2"/>
<ellipse cx="157.2" cy="277.3" rx="3.2" ry="2.2" transform="rotate(146 157.2 277.3)" fill="#c460be" stroke="#a63ea2" stroke-width="0.9"/>
<ellipse cx="135.9" cy="322.4" rx="3.3" ry="1.9" transform="rotate(141 135.9 322.4)" fill="#c056bb" stroke="#a63ea2" stroke-width="0.9"/>
<ellipse cx="177.1" cy="336.7" rx="3.5" ry="2.4" transform="rotate(130 177.1 336.7)" fill="#c056bb" stroke="#a63ea2" stroke-width="0.9"/>
<ellipse cx="149.6" cy="313.8" rx="3.2" ry="2.5" transform="rotate(70 149.6 313.8)" fill="#c056bb" stroke="#a63ea2" stroke-width="0.9"/>
<ellipse cx="149.6" cy="313.8" rx="2.0" ry="0.41" transform="rotate(70 149.6 313.8)" fill="#e6bce2"/>
<ellipse cx="117.2" cy="311.3" rx="3.7" ry="1.8" transform="rotate(44 117.2 311.3)" fill="#c056bb" stroke="#a63ea2" stroke-width="0.9"/>
<ellipse cx="176.0" cy="294.2" rx="5.3" ry="3.2" transform="rotate(134 176.0 294.2)" fill="#c056bb" stroke="#a63ea2" stroke-width="0.9"/>
<ellipse cx="180.0" cy="317.7" rx="3.7" ry="2.7" transform="rotate(64 180.0 317.7)" fill="#c056bb" stroke="#a63ea2" stroke-width="0.9"/>
<ellipse cx="149.6" cy="294.5" rx="5.3" ry="3.2" transform="rotate(137 149.6 294.5)" fill="#c056bb" stroke="#a63ea2" stroke-width="0.9"/>
<ellipse cx="149.6" cy="294.5" rx="3.3" ry="0.51" transform="rotate(137 149.6 294.5)" fill="#e6bce2"/>
<ellipse cx="141.7" cy="314.9" rx="3.1" ry="2.1" transform="rotate(155 141.7 314.9)" fill="#c056bb" stroke="#a63ea2" stroke-width="0.9"/>
<ellipse cx="141.7" cy="314.9" rx="1.9" ry="0.33" transform="rotate(155 141.7 314.9)" fill="#e6bce2"/>
<ellipse cx="184.8" cy="310.4" rx="3.8" ry="3.2" transform="rotate(4 184.8 310.4)" fill="#c056bb" stroke="#a63ea2" stroke-width="0.9"/>
<ellipse cx="184.8" cy="310.4" rx="2.4" ry="0.52" transform="rotate(4 184.8 310.4)" fill="#e6bce2"/>
<ellipse cx="163.3" cy="354.6" rx="4.0" ry="2.3" transform="rotate(153 163.3 354.6)" fill="#c056bb" stroke="#a63ea2" stroke-width="0.9"/>
<ellipse cx="161.4" cy="317.2" rx="4.1" ry="3.1" transform="rotate(103 161.4 317.2)" fill="#c056bb" stroke="#a63ea2" stroke-width="0.9"/>
<ellipse cx="161.4" cy="317.2" rx="2.6" ry="0.50" transform="rotate(103 161.4 317.2)" fill="#e6bce2"/>
<ellipse cx="142.6" cy="353.5" rx="3.2" ry="1.8" transform="rotate(18 142.6 353.5)" fill="#c056bb" stroke="#a63ea2" stroke-width="0.9"/>
<ellipse cx="142.6" cy="353.5" rx="2.0" ry="0.30" transform="rotate(18 142.6 353.5)" fill="#e6bce2"/>
<ellipse cx="167.8" cy="334.8" rx="3.2" ry="2.5" transform="rotate(69 167.8 334.8)" fill="#c056bb" stroke="#a63ea2" stroke-width="0.9"/>
<ellipse cx="167.8" cy="334.8" rx="2.0" ry="0.41" transform="rotate(69 167.8 334.8)" fill="#e6bce2"/>
<ellipse cx="124.3" cy="350.5" rx="4.2" ry="2.4" transform="rotate(101 124.3 350.5)" fill="#c056bb" stroke="#a63ea2" stroke-width="0.9"/>
<ellipse cx="124.3" cy="350.5" rx="2.6" ry="0.39" transform="rotate(101 124.3 350.5)" fill="#e6bce2"/>
<ellipse cx="180.6" cy="309.4" rx="3.0" ry="1.5" transform="rotate(23 180.6 309.4)" fill="#c056bb" stroke="#a63ea2" stroke-width="0.9"/>
<ellipse cx="180.6" cy="309.4" rx="1.9" ry="0.30" transform="rotate(23 180.6 309.4)" fill="#e6bce2"/>
<ellipse cx="169.3" cy="295.5" rx="3.1" ry="1.6" transform="rotate(85 169.3 295.5)" fill="#c056bb" stroke="#a63ea2" stroke-width="0.9"/>
<ellipse cx="169.3" cy="295.5" rx="1.9" ry="0.30" transform="rotate(85 169.3 295.5)" fill="#e6bce2"/>
<ellipse cx="117.7" cy="316.2" rx="3.0" ry="2.5" transform="rotate(131 117.7 316.2)" fill="#c056bb" stroke="#a63ea2" stroke-width="0.9"/>
<ellipse cx="146.4" cy="315.4" rx="3.3" ry="1.6" transform="rotate(69 146.4 315.4)" fill="#c056bb" stroke="#a63ea2" stroke-width="0.9"/>
<ellipse cx="146.4" cy="315.4" rx="2.0" ry="0.30" transform="rotate(69 146.4 315.4)" fill="#e6bce2"/>
<ellipse cx="150.0" cy="352.5" rx="3.2" ry="1.7" transform="rotate(18 150.0 352.5)" fill="#c056bb" stroke="#a63ea2" stroke-width="0.9"/>
<ellipse cx="177.4" cy="311.0" rx="3.1" ry="2.4" transform="rotate(66 177.4 311.0)" fill="#c056bb" stroke="#a63ea2" stroke-width="0.9"/>
<ellipse cx="177.4" cy="311.0" rx="1.9" ry="0.39" transform="rotate(66 177.4 311.0)" fill="#e6bce2"/>
<ellipse cx="153.0" cy="342.3" rx="3.1" ry="1.8" transform="rotate(88 153.0 342.3)" fill="#c056bb" stroke="#a63ea2" stroke-width="0.9"/>
<ellipse cx="153.0" cy="342.3" rx="1.9" ry="0.30" transform="rotate(88 153.0 342.3)" fill="#e6bce2"/>
<ellipse cx="128.8" cy="327.2" rx="3.1" ry="1.4" transform="rotate(91 128.8 327.2)" fill="#c056bb" stroke="#a63ea2" stroke-width="0.9"/>
<ellipse cx="128.8" cy="327.2" rx="1.9" ry="0.30" transform="rotate(91 128.8 327.2)" fill="#e6bce2"/>
<ellipse cx="108.8" cy="312.8" rx="3.3" ry="2.3" transform="rotate(91 108.8 312.8)" fill="#c056bb" stroke="#a63ea2" stroke-width="0.9"/>
<ellipse cx="108.8" cy="312.8" rx="2.1" ry="0.36" transform="rotate(91 108.8 312.8)" fill="#e6bce2"/>
<ellipse cx="150.3" cy="347.7" rx="3.6" ry="2.3" transform="rotate(174 150.3 347.7)" fill="#c056bb" stroke="#a63ea2" stroke-width="0.9"/>
<ellipse cx="150.3" cy="347.7" rx="2.2" ry="0.37" transform="rotate(174 150.3 347.7)" fill="#e6bce2"/>
<ellipse cx="181.4" cy="344.3" rx="3.3" ry="2.7" transform="rotate(114 181.4 344.3)" fill="#c056bb" stroke="#a63ea2" stroke-width="0.9"/>
<ellipse cx="128.2" cy="346.7" rx="3.5" ry="2.2" transform="rotate(122 128.2 346.7)" fill="#c056bb" stroke="#a63ea2" stroke-width="0.9"/>
<ellipse cx="128.2" cy="346.7" rx="2.1" ry="0.35" transform="rotate(122 128.2 346.7)" fill="#e6bce2"/>
<ellipse cx="97.1" cy="277.0" rx="3.4" ry="2.8" transform="rotate(102 97.1 277.0)" fill="#cc70c6" stroke="#a63ea2" stroke-width="0.9"/>
<ellipse cx="97.1" cy="277.0" rx="2.1" ry="0.44" transform="rotate(102 97.1 277.0)" fill="#e6bce2"/>
<ellipse cx="125.7" cy="312.7" rx="3.6" ry="2.2" transform="rotate(31 125.7 312.7)" fill="#c056bb" stroke="#a63ea2" stroke-width="0.9"/>
<ellipse cx="125.7" cy="312.7" rx="2.2" ry="0.36" transform="rotate(31 125.7 312.7)" fill="#e6bce2"/>
<ellipse cx="154.5" cy="326.7" rx="3.8" ry="2.0" transform="rotate(69 154.5 326.7)" fill="#c056bb" stroke="#a63ea2" stroke-width="0.9"/>
<ellipse cx="154.5" cy="326.7" rx="2.4" ry="0.32" transform="rotate(69 154.5 326.7)" fill="#e6bce2"/>
<ellipse cx="141.6" cy="294.0" rx="3.0" ry="1.9" transform="rotate(165 141.6 294.0)" fill="#c056bb" stroke="#a63ea2" stroke-width="0.9"/>
<ellipse cx="141.6" cy="294.0" rx="1.9" ry="0.30" transform="rotate(165 141.6 294.0)" fill="#e6bce2"/>
<ellipse cx="125.7" cy="301.8" rx="3.1" ry="2.3" transform="rotate(83 125.7 301.8)" fill="#c056bb" stroke="#a63ea2" stroke-width="0.9"/>
<ellipse cx="125.7" cy="301.8" rx="1.9" ry="0.36" transform="rotate(83 125.7 301.8)" fill="#e6bce2"/>
<ellipse cx="173.1" cy="304.4" rx="3.3" ry="1.8" transform="rotate(75 173.1 304.4)" fill="#c056bb" stroke="#a63ea2" stroke-width="0.9"/>
<ellipse cx="167.6" cy="324.6" rx="3.1" ry="1.7" transform="rotate(85 167.6 324.6)" fill="#c056bb" stroke="#a63ea2" stroke-width="0.9"/>
<ellipse cx="167.6" cy="324.6" rx="1.9" ry="0.30" transform="rotate(85 167.6 324.6)" fill="#e6bce2"/>
<ellipse cx="134.4" cy="292.4" rx="3.5" ry="2.4" transform="rotate(96 134.4 292.4)" fill="#c056bb" stroke="#a63ea2" stroke-width="0.9"/>
<ellipse cx="134.4" cy="292.4" rx="2.1" ry="0.38" transform="rotate(96 134.4 292.4)" fill="#e6bce2"/>
<ellipse cx="165.4" cy="332.1" rx="3.1" ry="1.9" transform="rotate(135 165.4 332.1)" fill="#c056bb" stroke="#a63ea2" stroke-width="0.9"/>
<ellipse cx="165.4" cy="332.1" rx="2.0" ry="0.30" transform="rotate(135 165.4 332.1)" fill="#e6bce2"/>
<ellipse cx="195.9" cy="310.6" rx="3.8" ry="3.0" transform="rotate(178 195.9 310.6)" fill="#c056bb" stroke="#a63ea2" stroke-width="0.9"/>
<ellipse cx="188.4" cy="307.3" rx="3.8" ry="1.7" transform="rotate(140 188.4 307.3)" fill="#c056bb" stroke="#a63ea2" stroke-width="0.9"/>
<ellipse cx="133.1" cy="300.4" rx="3.2" ry="2.5" transform="rotate(141 133.1 300.4)" fill="#c056bb" stroke="#a63ea2" stroke-width="0.9"/>
<ellipse cx="122.2" cy="334.7" rx="3.3" ry="1.5" transform="rotate(161 122.2 334.7)" fill="#c056bb" stroke="#a63ea2" stroke-width="0.9"/>
<ellipse cx="145.1" cy="298.1" rx="3.1" ry="2.2" transform="rotate(89 145.1 298.1)" fill="#c056bb" stroke="#a63ea2" stroke-width="0.9"/>
<ellipse cx="145.1" cy="298.1" rx="1.9" ry="0.36" transform="rotate(89 145.1 298.1)" fill="#e6bce2"/>
<ellipse cx="166.3" cy="346.3" rx="3.2" ry="1.8" transform="rotate(23 166.3 346.3)" fill="#c056bb" stroke="#a63ea2" stroke-width="0.9"/>
<ellipse cx="104.4" cy="320.8" rx="4.1" ry="3.0" transform="rotate(3 104.4 320.8)" fill="#c056bb" stroke="#a63ea2" stroke-width="0.9"/>
<ellipse cx="104.4" cy="320.8" rx="2.5" ry="0.49" transform="rotate(3 104.4 320.8)" fill="#e6bce2"/>
<ellipse cx="153.4" cy="355.7" rx="4.9" ry="2.7" transform="rotate(103 153.4 355.7)" fill="#c056bb" stroke="#a63ea2" stroke-width="0.9"/>
<ellipse cx="153.4" cy="355.7" rx="3.1" ry="0.44" transform="rotate(103 153.4 355.7)" fill="#e6bce2"/>
<ellipse cx="190.5" cy="333.7" rx="3.3" ry="1.8" transform="rotate(66 190.5 333.7)" fill="#c056bb" stroke="#a63ea2" stroke-width="0.9"/>
<ellipse cx="190.5" cy="333.7" rx="2.1" ry="0.30" transform="rotate(66 190.5 333.7)" fill="#e6bce2"/>
<ellipse cx="176.3" cy="308.0" rx="3.0" ry="2.1" transform="rotate(158 176.3 308.0)" fill="#c056bb" stroke="#a63ea2" stroke-width="0.9"/>
<ellipse cx="176.3" cy="308.0" rx="1.9" ry="0.34" transform="rotate(158 176.3 308.0)" fill="#e6bce2"/>
<ellipse cx="145.6" cy="304.7" rx="3.3" ry="1.5" transform="rotate(112 145.6 304.7)" fill="#c056bb" stroke="#a63ea2" stroke-width="0.9"/>
<ellipse cx="145.6" cy="304.7" rx="2.0" ry="0.30" transform="rotate(112 145.6 304.7)" fill="#e6bce2"/>
<ellipse cx="198.6" cy="318.1" rx="3.8" ry="2.8" transform="rotate(171 198.6 318.1)" fill="#c056bb" stroke="#a63ea2" stroke-width="0.9"/>
<ellipse cx="198.6" cy="318.1" rx="2.4" ry="0.45" transform="rotate(171 198.6 318.1)" fill="#e6bce2"/>
</g>
<path d="M99 328.5 C108 331 116 333.5 123 336 C133 340 143 345.5 150 348.5 C160 352 171 354.3 182 356 L200 357.5 L200 361.5 L182 360.2 C170 358.8 159 357 149 353.5 C139 349.5 129 345 121 343 C112 340.5 105 338 99 336.5 Z" fill="#ede8e6" filter="url(#hblur)"/>
</g>
<rect x="99.80" y="271.30" width="98.00" height="92.70" fill="none" stroke="#3c3c3c" stroke-width="1.3"/>
<g clip-path="url(#h3)">
<rect x="200.00" y="270.00" width="100.00" height="96.00" fill="#d8d0c4" stroke="none" stroke-width="1.0"/>
<g filter="url(#hblur)">
<path d="M198.00 276.30 C200.00 276.75 205.50 277.72 210.00 279.00 C214.50 280.28 220.00 282.45 225.00 284.00 C230.00 285.55 235.83 287.17 240.00 288.30 C244.17 289.43 246.33 290.02 250.00 290.80 C253.67 291.58 257.00 293.22 262.00 293.00 C267.00 292.78 273.33 290.42 280.00 289.50 C286.67 288.58 298.33 287.83 302.00 287.50 L302 304 302.00 304.00 C300.00 304.17 295.33 304.33 290.00 305.00 C284.67 305.67 276.67 307.83 270.00 308.00 C263.33 308.17 255.00 306.90 250.00 306.00 C245.00 305.10 244.17 303.85 240.00 302.60 C235.83 301.35 229.17 299.77 225.00 298.50 C220.83 297.23 219.50 296.00 215.00 295.00 C210.50 294.00 200.83 292.92 198.00 292.50 Z" fill="#da98be"/>
<path d="M198.00 295.00 C200.00 295.42 206.33 296.10 210.00 297.50 C213.67 298.90 216.67 301.15 220.00 303.40 C223.33 305.65 226.67 308.18 230.00 311.00 C233.33 313.82 236.67 317.13 240.00 320.30 C243.33 323.47 247.00 328.13 250.00 330.00 C253.00 331.87 255.00 332.00 258.00 331.50 C261.00 331.00 264.33 328.92 268.00 327.00 C271.67 325.08 276.33 321.67 280.00 320.00 C283.67 318.33 286.33 317.67 290.00 317.00 C293.67 316.33 300.00 316.17 302.00 316.00 L302 368 L198 368 Z" fill="#de9cc4"/>
<path d="M238 334 C245 333 252 332 258 331.5 C264 330 272 325 280 320 C288 317 296 316 302 316 L302 342 302.00 342.00 C300.00 342.67 294.50 344.67 290.00 346.00 C285.50 347.33 280.00 349.00 275.00 350.00 C270.00 351.00 264.17 352.17 260.00 352.00 C255.83 351.83 252.83 350.67 250.00 349.00 C247.17 347.33 245.00 344.50 243.00 342.00 C241.00 339.50 238.83 335.33 238.00 334.00 Z" fill="#e084b6"/>
<path d="M198.00 303.00 C200.33 304.00 207.67 306.67 212.00 309.00 C216.33 311.33 220.67 314.17 224.00 317.00 C227.33 319.83 228.67 322.50 232.00 326.00 C235.33 329.50 240.00 334.67 244.00 338.00 C248.00 341.33 254.00 344.67 256.00 346.00" fill="none" stroke="#f1d3e2" stroke-width="1.6"/>
<path d="M198.00 308.00 C200.00 309.00 206.00 311.50 210.00 314.00 C214.00 316.50 218.33 319.83 222.00 323.00 C225.67 326.17 228.33 329.67 232.00 333.00 C235.67 336.33 242.00 341.33 244.00 343.00" fill="none" stroke="#d77ab2" stroke-width="2"/>
<path d="M198.00 289.00 C201.67 289.75 213.00 291.83 220.00 293.50 C227.00 295.17 234.00 297.50 240.00 299.00 C246.00 300.50 250.17 301.75 256.00 302.50 C261.83 303.25 267.33 303.92 275.00 303.50 C282.67 303.08 297.50 300.58 302.00 300.00" fill="none" stroke="#f3dbe7" stroke-width="1.3"/>
<path d="M198.00 276.30 C200.00 276.75 205.50 277.72 210.00 279.00 C214.50 280.28 220.00 282.45 225.00 284.00 C230.00 285.55 235.83 287.17 240.00 288.30 C244.17 289.43 246.33 290.02 250.00 290.80 C253.67 291.58 257.00 293.22 262.00 293.00 C267.00 292.78 273.33 290.42 280.00 289.50 C286.67 288.58 298.33 287.83 302.00 287.50" fill="none" stroke="#9a3090" stroke-width="8.5"/>
<path d="M198.00 315.00 C199.33 316.25 203.67 320.00 206.00 322.50 C208.33 325.00 209.33 327.42 212.00 330.00 C214.67 332.58 218.17 335.17 222.00 338.00 C225.83 340.83 230.33 344.00 235.00 347.00 C239.67 350.00 245.50 353.50 250.00 356.00 C254.50 358.50 258.00 360.00 262.00 362.00 C266.00 364.00 272.00 367.00 274.00 368.00" fill="none" stroke="#9c2c8c" stroke-width="10"/>
<path d="M198.00 327.00 C199.33 328.50 203.33 333.33 206.00 336.00 C208.67 338.67 211.00 340.83 214.00 343.00 C217.00 345.17 220.33 346.67 224.00 349.00 C227.67 351.33 232.17 354.50 236.00 357.00 C239.83 359.50 244.50 362.17 247.00 364.00 C249.50 365.83 250.33 367.33 251.00 368.00 L198 368 Z" fill="#d8d0c4"/>
<path d="M264 362 C275 360 288 359 302 357 L302 368 L264 368 Z" fill="#a8409a"/>
</g>
<path d="M198.00 276.80 C200.00 277.25 205.50 278.22 210.00 279.50 C214.50 280.78 220.00 282.95 225.00 284.50 C230.00 286.05 235.83 287.67 240.00 288.80 C244.17 289.93 246.33 290.52 250.00 291.30 C253.67 292.08 257.00 293.72 262.00 293.50 C267.00 293.28 273.33 290.92 280.00 290.00 C286.67 289.08 298.33 288.33 302.00 288.00" fill="none" stroke="#dba0d0" stroke-width="6.5" stroke-dasharray="1.1 2.1" opacity="0.75" filter="url(#wobble)"/>
<path d="M198.00 315.00 C199.33 316.25 203.67 320.00 206.00 322.50 C208.33 325.00 209.33 327.42 212.00 330.00 C214.67 332.58 218.17 335.17 222.00 338.00 C225.83 340.83 230.33 344.00 235.00 347.00 C239.67 350.00 245.50 353.50 250.00 356.00 C254.50 358.50 258.00 360.00 262.00 362.00 C266.00 364.00 272.00 367.00 274.00 368.00" fill="none" stroke="#dba0d0" stroke-width="7.5" stroke-dasharray="1.2 2.2" opacity="0.7" filter="url(#wobble)"/>
</g>
<rect x="201.30" y="271.30" width="97.20" height="92.70" fill="none" stroke="#3c3c3c" stroke-width="1.3"/>
<text x="43.00" y="266.90" font-size="10.6" font-weight="bold" text-anchor="middle" fill="#111" stroke="#111" stroke-width="0.16">Control</text>
<text x="148.80" y="266.90" font-size="10.6" font-weight="bold" text-anchor="middle" fill="#111" stroke="#111" stroke-width="0.16">CAC</text>
<text x="249.90" y="266.90" font-size="10.6" font-weight="bold" text-anchor="middle" fill="#111" stroke="#111" stroke-width="0.16">CAC+ABX</text>
<text x="5.00" y="360.60" font-size="5.6" text-anchor="start" fill="#222" stroke="#222" stroke-width="0.16">10X</text>
<text x="84.50" y="357.60" font-size="5.8" text-anchor="middle" fill="#111" stroke="#111" stroke-width="0.16">200µm</text>
<line x1="76.80" y1="361.20" x2="93.00" y2="361.20" stroke="#111" stroke-width="1.4"/>
<text x="103.80" y="360.60" font-size="5.6" text-anchor="start" fill="#222" stroke="#222" stroke-width="0.16">10X</text>
<text x="183.30" y="357.60" font-size="5.8" text-anchor="middle" fill="#111" stroke="#111" stroke-width="0.16">200µm</text>
<line x1="175.60" y1="361.20" x2="191.80" y2="361.20" stroke="#111" stroke-width="1.4"/>
<text x="205.30" y="360.60" font-size="5.6" text-anchor="start" fill="#222" stroke="#222" stroke-width="0.16">10X</text>
<text x="284.80" y="357.60" font-size="5.8" text-anchor="middle" fill="#111" stroke="#111" stroke-width="0.16">200µm</text>
<line x1="277.10" y1="361.20" x2="293.30" y2="361.20" stroke="#111" stroke-width="1.4"/>
<g transform="translate(152.40 27.90)">
<path d="M-24.40 22.00 C-24.53 22.92 -25.52 26.07 -25.20 27.50 C-24.88 28.93 -23.87 30.02 -22.50 30.60 C-21.13 31.18 -18.83 31.00 -17.00 31.00 C-15.17 31.00 -13.25 30.53 -11.50 30.60 C-9.75 30.67 -7.98 30.90 -6.50 31.40 C-5.02 31.90 -3.25 33.23 -2.60 33.60" fill="none" stroke="#b87a70" stroke-width="1.25" stroke-linecap="round"/>
<path d="M0.00 0.00 C-0.88 -0.02 -2.98 1.10 -4.50 1.60 C-6.02 2.10 -7.22 2.20 -9.10 3.00 C-10.98 3.80 -13.78 5.42 -15.80 6.40 C-17.82 7.38 -19.78 7.88 -21.20 8.90 C-22.62 9.92 -23.60 11.12 -24.30 12.50 C-25.00 13.88 -25.27 15.52 -25.40 17.20 C-25.53 18.88 -25.80 21.48 -25.10 22.60 C-24.40 23.72 -22.75 23.78 -21.20 23.90 C-19.65 24.02 -17.48 23.73 -15.80 23.30 C-14.12 22.87 -12.55 22.42 -11.10 21.30 C-9.65 20.18 -8.33 18.30 -7.10 16.60 C-5.87 14.90 -4.62 12.63 -3.70 11.10 C-2.78 9.57 -2.22 8.55 -1.60 7.40 C-0.98 6.25 -0.40 5.15 0.00 4.20 C0.40 3.25 0.80 2.40 0.80 1.70 C0.80 1.00 0.88 0.02 0.00 0.00 Z" fill="#4d4845" stroke="#35302e" stroke-width="0.5"/>
<path d="M-20 13 C-15 10 -10 8 -6 8 C-7 12 -9.5 16.5 -13 18.5 C-17 19.8 -21 18.5 -20 13 Z" fill="#59544f" opacity="0.7"/>
<ellipse cx="-9.6" cy="3.1" rx="1.5" ry="1.0" fill="#c98a7f"/>
<ellipse cx="-0.9" cy="6.9" rx="0.9" ry="1.3" fill="#c98a7f"/>
<ellipse cx="-2.9" cy="12.6" rx="0.9" ry="1.3" fill="#c98a7f"/>
<ellipse cx="-11.4" cy="22.6" rx="2.2" ry="0.9" fill="#c98a7f"/>
<ellipse cx="-0.2" cy="0.6" rx="0.9" ry="0.8" fill="#c98a7f"/>
</g>
<g transform="translate(209.30 30.70)">
<path d="M-24.40 22.00 C-24.53 22.92 -25.52 26.07 -25.20 27.50 C-24.88 28.93 -23.87 30.02 -22.50 30.60 C-21.13 31.18 -18.83 31.00 -17.00 31.00 C-15.17 31.00 -13.25 30.53 -11.50 30.60 C-9.75 30.67 -7.98 30.90 -6.50 31.40 C-5.02 31.90 -3.25 33.23 -2.60 33.60" fill="none" stroke="#b87a70" stroke-width="1.25" stroke-linecap="round"/>
<path d="M0.00 0.00 C-0.88 -0.02 -2.98 1.10 -4.50 1.60 C-6.02 2.10 -7.22 2.20 -9.10 3.00 C-10.98 3.80 -13.78 5.42 -15.80 6.40 C-17.82 7.38 -19.78 7.88 -21.20 8.90 C-22.62 9.92 -23.60 11.12 -24.30 12.50 C-25.00 13.88 -25.27 15.52 -25.40 17.20 C-25.53 18.88 -25.80 21.48 -25.10 22.60 C-24.40 23.72 -22.75 23.78 -21.20 23.90 C-19.65 24.02 -17.48 23.73 -15.80 23.30 C-14.12 22.87 -12.55 22.42 -11.10 21.30 C-9.65 20.18 -8.33 18.30 -7.10 16.60 C-5.87 14.90 -4.62 12.63 -3.70 11.10 C-2.78 9.57 -2.22 8.55 -1.60 7.40 C-0.98 6.25 -0.40 5.15 0.00 4.20 C0.40 3.25 0.80 2.40 0.80 1.70 C0.80 1.00 0.88 0.02 0.00 0.00 Z" fill="#4d4845" stroke="#35302e" stroke-width="0.5"/>
<path d="M-20 13 C-15 10 -10 8 -6 8 C-7 12 -9.5 16.5 -13 18.5 C-17 19.8 -21 18.5 -20 13 Z" fill="#59544f" opacity="0.7"/>
<ellipse cx="-9.6" cy="3.1" rx="1.5" ry="1.0" fill="#c98a7f"/>
<ellipse cx="-0.9" cy="6.9" rx="0.9" ry="1.3" fill="#c98a7f"/>
<ellipse cx="-2.9" cy="12.6" rx="0.9" ry="1.3" fill="#c98a7f"/>
<ellipse cx="-11.4" cy="22.6" rx="2.2" ry="0.9" fill="#c98a7f"/>
<ellipse cx="-0.2" cy="0.6" rx="0.9" ry="0.8" fill="#c98a7f"/>
</g>
<g transform="translate(266.40 30.70)">
<path d="M-24.40 22.00 C-24.53 22.92 -25.52 26.07 -25.20 27.50 C-24.88 28.93 -23.87 30.02 -22.50 30.60 C-21.13 31.18 -18.83 31.00 -17.00 31.00 C-15.17 31.00 -13.25 30.53 -11.50 30.60 C-9.75 30.67 -7.98 30.90 -6.50 31.40 C-5.02 31.90 -3.25 33.23 -2.60 33.60" fill="none" stroke="#b87a70" stroke-width="1.25" stroke-linecap="round"/>
<path d="M0.00 0.00 C-0.88 -0.02 -2.98 1.10 -4.50 1.60 C-6.02 2.10 -7.22 2.20 -9.10 3.00 C-10.98 3.80 -13.78 5.42 -15.80 6.40 C-17.82 7.38 -19.78 7.88 -21.20 8.90 C-22.62 9.92 -23.60 11.12 -24.30 12.50 C-25.00 13.88 -25.27 15.52 -25.40 17.20 C-25.53 18.88 -25.80 21.48 -25.10 22.60 C-24.40 23.72 -22.75 23.78 -21.20 23.90 C-19.65 24.02 -17.48 23.73 -15.80 23.30 C-14.12 22.87 -12.55 22.42 -11.10 21.30 C-9.65 20.18 -8.33 18.30 -7.10 16.60 C-5.87 14.90 -4.62 12.63 -3.70 11.10 C-2.78 9.57 -2.22 8.55 -1.60 7.40 C-0.98 6.25 -0.40 5.15 0.00 4.20 C0.40 3.25 0.80 2.40 0.80 1.70 C0.80 1.00 0.88 0.02 0.00 0.00 Z" fill="#4d4845" stroke="#35302e" stroke-width="0.5"/>
<path d="M-20 13 C-15 10 -10 8 -6 8 C-7 12 -9.5 16.5 -13 18.5 C-17 19.8 -21 18.5 -20 13 Z" fill="#59544f" opacity="0.7"/>
<ellipse cx="-9.6" cy="3.1" rx="1.5" ry="1.0" fill="#c98a7f"/>
<ellipse cx="-0.9" cy="6.9" rx="0.9" ry="1.3" fill="#c98a7f"/>
<ellipse cx="-2.9" cy="12.6" rx="0.9" ry="1.3" fill="#c98a7f"/>
<ellipse cx="-11.4" cy="22.6" rx="2.2" ry="0.9" fill="#c98a7f"/>
<ellipse cx="-0.2" cy="0.6" rx="0.9" ry="0.8" fill="#c98a7f"/>
</g>
<g transform="translate(324.20 28.20)">
<path d="M-24.40 22.00 C-24.53 22.92 -25.52 26.07 -25.20 27.50 C-24.88 28.93 -23.87 30.02 -22.50 30.60 C-21.13 31.18 -18.83 31.00 -17.00 31.00 C-15.17 31.00 -13.25 30.53 -11.50 30.60 C-9.75 30.67 -7.98 30.90 -6.50 31.40 C-5.02 31.90 -3.25 33.23 -2.60 33.60" fill="none" stroke="#b87a70" stroke-width="1.25" stroke-linecap="round"/>
<path d="M0.00 0.00 C-0.88 -0.02 -2.98 1.10 -4.50 1.60 C-6.02 2.10 -7.22 2.20 -9.10 3.00 C-10.98 3.80 -13.78 5.42 -15.80 6.40 C-17.82 7.38 -19.78 7.88 -21.20 8.90 C-22.62 9.92 -23.60 11.12 -24.30 12.50 C-25.00 13.88 -25.27 15.52 -25.40 17.20 C-25.53 18.88 -25.80 21.48 -25.10 22.60 C-24.40 23.72 -22.75 23.78 -21.20 23.90 C-19.65 24.02 -17.48 23.73 -15.80 23.30 C-14.12 22.87 -12.55 22.42 -11.10 21.30 C-9.65 20.18 -8.33 18.30 -7.10 16.60 C-5.87 14.90 -4.62 12.63 -3.70 11.10 C-2.78 9.57 -2.22 8.55 -1.60 7.40 C-0.98 6.25 -0.40 5.15 0.00 4.20 C0.40 3.25 0.80 2.40 0.80 1.70 C0.80 1.00 0.88 0.02 0.00 0.00 Z" fill="#4d4845" stroke="#35302e" stroke-width="0.5"/>
<path d="M-20 13 C-15 10 -10 8 -6 8 C-7 12 -9.5 16.5 -13 18.5 C-17 19.8 -21 18.5 -20 13 Z" fill="#59544f" opacity="0.7"/>
<ellipse cx="-9.6" cy="3.1" rx="1.5" ry="1.0" fill="#c98a7f"/>
<ellipse cx="-0.9" cy="6.9" rx="0.9" ry="1.3" fill="#c98a7f"/>
<ellipse cx="-2.9" cy="12.6" rx="0.9" ry="1.3" fill="#c98a7f"/>
<ellipse cx="-11.4" cy="22.6" rx="2.2" ry="0.9" fill="#c98a7f"/>
<ellipse cx="-0.2" cy="0.6" rx="0.9" ry="0.8" fill="#c98a7f"/>
</g>
<g transform="translate(125.3 17.6) rotate(43.5)"><rect x="-1.2" y="-1.8" width="2.0" height="3.6" rx="0.4" fill="#d4dadf" stroke="#a8b2ba" stroke-width="0.35"/><rect x="0.8" y="-0.55" width="5.2" height="1.1" fill="#cfd6dc" stroke="#a8b2ba" stroke-width="0.3"/><rect x="6.0" y="-2.3" width="0.9" height="4.6" fill="#b8c2ca"/><rect x="6.9" y="-1.75" width="9.0" height="3.5" fill="#eef3f5" stroke="#98a6b0" stroke-width="0.35"/><rect x="8.3" y="-1.6" width="1.2" height="3.2" fill="#404648"/><rect x="9.5" y="-1.5" width="6.3" height="3.0" fill="#bfe6ec"/><path d="M15.9 -1.1 L17.6 -0.6 L17.6 0.6 L15.9 1.1 Z" fill="#3aa070"/><line x1="17.6" y1="0" x2="21.2" y2="0" stroke="#7a9a90" stroke-width="0.5"/></g>
<path d="M218.30 25.00 C218.30 27.00 213.30 28.30 211.80 30.80" fill="none" stroke="#9aaabb" stroke-width="0.8"/>
<rect x="216.50" y="21.00" width="3.6" height="4.2" rx="0.6" fill="#3f78d6"/>
<path d="M214.60 3.00 L222.00 3.00 L222.00 19.00 Q222.00 21.30 220.10 21.30 L216.50 21.30 Q214.60 21.30 214.60 19.00 Z" fill="#e8edf2" stroke="#c4ccd6" stroke-width="0.4"/>
<path d="M214.90 11.00 L221.70 11.00 L221.70 19.00 Q221.70 21.00 220.10 21.00 L216.50 21.00 Q214.90 21.00 214.90 19.00 Z" fill="#98c0ec"/>
<rect x="215.80" y="12.00" width="1.1" height="7.00" fill="#b8d4f2" opacity="0.8"/>
<path d="M275.70 25.00 C275.70 27.00 270.50 28.30 269.00 30.80" fill="none" stroke="#9aaabb" stroke-width="0.8"/>
<rect x="273.90" y="21.00" width="3.6" height="4.2" rx="0.6" fill="#3f78d6"/>
<path d="M272.00 3.00 L279.40 3.00 L279.40 19.00 Q279.40 21.30 277.50 21.30 L273.90 21.30 Q272.00 21.30 272.00 19.00 Z" fill="#e8edf2" stroke="#c4ccd6" stroke-width="0.4"/>
<path d="M272.30 11.00 L279.10 11.00 L279.10 19.00 Q279.10 21.00 277.50 21.00 L273.90 21.00 Q272.30 21.00 272.30 19.00 Z" fill="#98c0ec"/>
<rect x="273.20" y="12.00" width="1.1" height="7.00" fill="#b8d4f2" opacity="0.8"/>
<path d="M332.80 21.70 C332.80 23.70 328.70 25.40 327.20 27.90" fill="none" stroke="#9aaabb" stroke-width="0.8"/>
<rect x="331.00" y="17.70" width="3.6" height="4.2" rx="0.6" fill="#3f78d6"/>
<path d="M329.10 -1.00 L336.50 -1.00 L336.50 15.70 Q336.50 18.00 334.60 18.00 L331.00 18.00 Q329.10 18.00 329.10 15.70 Z" fill="#e8edf2" stroke="#c4ccd6" stroke-width="0.4"/>
<path d="M329.40 8.00 L336.20 8.00 L336.20 15.70 Q336.20 17.70 334.60 17.70 L331.00 17.70 Q329.40 17.70 329.40 15.70 Z" fill="#98c0ec"/>
<rect x="330.30" y="9.00" width="1.1" height="6.70" fill="#b8d4f2" opacity="0.8"/>
<text x="150.00" y="12.10" font-size="7.1" text-anchor="middle" fill="#111" stroke="#111" stroke-width="0.18">AOM</text>
<text x="186.00" y="7.80" font-size="7.1" text-anchor="middle" fill="#111" stroke="#111" stroke-width="0.18">DSS</text>
<text x="186.00" y="16.50" font-size="7.1" text-anchor="middle" fill="#111" stroke="#111" stroke-width="0.18">(5 days)</text>
<text x="246.60" y="7.80" font-size="7.1" text-anchor="middle" fill="#111" stroke="#111" stroke-width="0.18">DSS</text>
<text x="246.60" y="16.50" font-size="7.1" text-anchor="middle" fill="#111" stroke="#111" stroke-width="0.18">(5 days)</text>
<text x="305.80" y="7.80" font-size="7.1" text-anchor="middle" fill="#111" stroke="#111" stroke-width="0.18">DSS</text>
<text x="305.80" y="16.50" font-size="7.1" text-anchor="middle" fill="#111" stroke="#111" stroke-width="0.18">(5 days)</text>
<line x1="156.50" y1="45.00" x2="172.50" y2="45.00" stroke="#333" stroke-width="1.1"/>
<path d="M175.00 45.00 L171.80 43.20 L171.80 46.80 Z" fill="#222"/>
<text x="165.75" y="42.00" font-size="5.3" text-anchor="middle" fill="#222" stroke="#222" stroke-width="0.16">7 days</text>
<line x1="209.00" y1="45.00" x2="234.30" y2="45.00" stroke="#333" stroke-width="1.1"/>
<path d="M236.80 45.00 L233.60 43.20 L233.60 46.80 Z" fill="#222"/>
<text x="222.90" y="42.00" font-size="5.3" text-anchor="middle" fill="#222" stroke="#222" stroke-width="0.16">16 days</text>
<line x1="268.00" y1="45.00" x2="292.30" y2="45.00" stroke="#333" stroke-width="1.1"/>
<path d="M294.80 45.00 L291.60 43.20 L291.60 46.80 Z" fill="#222"/>
<text x="281.40" y="42.00" font-size="5.3" text-anchor="middle" fill="#222" stroke="#222" stroke-width="0.16">16 days</text>
<line x1="328.80" y1="44.60" x2="350.80" y2="44.60" stroke="#333" stroke-width="1.1"/>
<path d="M353.30 44.60 L350.10 42.80 L350.10 46.40 Z" fill="#222"/>
<text x="341.05" y="41.60" font-size="5.3" text-anchor="middle" fill="#222" stroke="#222" stroke-width="0.16">21 days</text>
<text x="340.30" y="55.80" font-size="7.6" font-weight="bold" text-anchor="middle" fill="#111" stroke="#111" stroke-width="0.16">±ABX</text>
<path d="M373.70 43.00 C373.80 43.83 373.98 46.17 374.30 48.00 C374.62 49.83 375.33 52.00 375.60 54.00 C375.87 56.00 375.92 58.25 375.90 60.00 C375.88 61.75 375.48 63.07 375.50 64.50 C375.52 65.93 375.92 67.92 376.00 68.60" fill="none" stroke="#d6a49e" stroke-width="1.35" stroke-linecap="round"/>
<path d="M373.70 8.30 L375.40 10.00 L377.10 12.60 L378.00 15.00 L377.70 18.00 L379.40 19.60 L384.10 15.70 L385.50 16.50 L385.50 17.80 L381.60 22.80 L381.70 26.50 L382.40 33.00 L382.60 38.50 L381.00 40.60 L385.60 43.30 L386.50 44.50 L385.00 45.20 L380.00 43.30 L376.60 43.60 L373.70 45.20 L370.80 43.60 L367.40 43.30 L362.40 45.20 L360.90 44.50 L361.80 43.30 L366.40 40.60 L364.80 38.50 L365.00 33.00 L365.70 26.50 L365.80 22.80 L361.90 17.80 L361.90 16.50 L363.30 15.70 L368.00 19.60 L369.70 18.00 L369.40 15.00 L370.30 12.60 L372.00 10.00 Z" fill="#77736f" stroke="#77736f" stroke-width="0.6" stroke-linejoin="round"/>
<ellipse cx="385.1" cy="16.9" rx="1.2" ry="1.0" fill="#d9a3a0"/>
<ellipse cx="362.3" cy="16.9" rx="1.2" ry="1.0" fill="#d9a3a0"/>
<ellipse cx="385.4" cy="44.5" rx="2.1" ry="0.85" transform="rotate(25 385.4 44.5)" fill="#dcaaa4"/>
<ellipse cx="362.0" cy="44.5" rx="2.1" ry="0.85" transform="rotate(-25 362.0 44.5)" fill="#dcaaa4"/>
<ellipse cx="369.0" cy="14.6" rx="1.2" ry="1.0" fill="#d9a0a0"/><ellipse cx="378.4" cy="14.6" rx="1.2" ry="1.0" fill="#d9a0a0"/>
<path d="M366.3 27.0 C369 26.2 378.4 26.2 381.1 27.0 L381.2 37.6 C378 39.4 369.4 39.4 366.2 37.6 Z" fill="#efc6be"/>
<path d="M368.8 27.5 C371 26.9 376.4 26.9 378.6 27.5 L378.8 36.6 C376.4 38.0 371 38.0 368.6 36.6 Z" fill="#dc9c90"/>
<ellipse cx="372.8" cy="31.2" rx="2.4" ry="1.0" fill="#e8b448"/>
<ellipse cx="376.2" cy="34.2" rx="1.9" ry="1.7" fill="#c8946c"/>
<ellipse cx="371.0" cy="34.6" rx="1.6" ry="1.4" fill="#d8868a"/>
<ellipse cx="374.0" cy="28.6" rx="2.6" ry="0.9" fill="#c0706a"/>
<path d="M392.6 14.4 L394.6 25.6" fill="none" stroke="#a84a30" stroke-width="1.6" stroke-linecap="round"/>
<path d="M391.6 12.6 C391.2 11.2 392.6 10.6 393.4 11.4 C393.8 10.2 395.6 10.0 395.8 11.4 C395.6 12.6 394.2 13.6 393.2 15.4" fill="#cdb078" stroke="#cdb078" stroke-width="1.2" stroke-linecap="round"/>
<path d="M390.8 35.8 C390.6 33.6 392.8 32.6 394.6 33.2 C396.2 34.0 395.6 36.4 394.0 37.0 C392.8 37.8 392.6 39.6 392.8 42 C393.2 47 393.4 51 393.1 56.4" fill="none" stroke="#d8a4a2" stroke-width="1.5" stroke-linecap="round"/>
<path d="M393.0 62.4 C392.3 64.5 392.5 67 393.6 69.2" fill="none" stroke="#9a2a22" stroke-width="1.8" stroke-linecap="round"/>
</svg></body></html>
